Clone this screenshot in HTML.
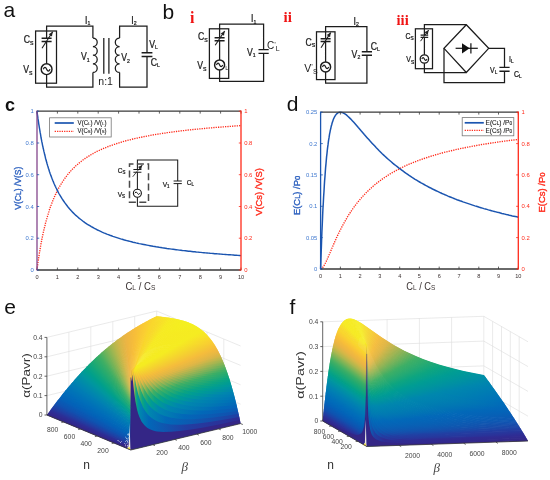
<!DOCTYPE html>
<html lang="en"><head><meta charset="utf-8"><title>Figure</title>
<style>
html,body{margin:0;padding:0;background:#fff;}
body{width:550px;height:480px;overflow:hidden;font-family:"Liberation Sans",sans-serif;}
svg{display:block;}
text{font-family:"Liberation Sans",sans-serif;}
.ser{font-family:"Liberation Serif",serif;}
</style></head><body>
<svg width="550" height="480" viewBox="0 0 550 480">
<rect width="550" height="480" fill="#fff"/>
<g id="surfaces">
<path d="M46.9 395.6L156.7 369.2L240.6 404.2M46.9 376.2L156.7 349.8L240.6 384.8M46.9 356.8L156.7 330.4L240.6 365.4M46.9 337.4L156.7 311.0L240.6 346.0M68.9 409.7L68.9 332.1M68.9 409.7L152.8 444.7M90.8 404.4L90.8 326.8M90.8 404.4L174.7 439.4M112.8 399.2L112.8 321.6M112.8 399.2L196.7 434.2M134.7 393.9L134.7 316.3M134.7 393.9L218.6 428.9M156.7 388.6L156.7 311.0M156.7 388.6L240.6 423.6M223.8 416.6L223.8 339.0M223.8 416.6L114.0 443.0M207.0 409.6L207.0 332.0M207.0 409.6L97.2 436.0M190.3 402.6L190.3 325.0M190.3 402.6L80.5 429.0M173.5 395.6L173.5 318.0M173.5 395.6L63.7 422.0" stroke="#dcdcdc" stroke-width="0.6" fill="none"/>
<defs><linearGradient id="e1" gradientUnits="userSpaceOnUse" x1="130.1" y1="0" x2="239.9" y2="0"><stop offset="0.0072" stop-color="#facc33"/><stop offset="0.0095" stop-color="#f6ea22"/><stop offset="0.0173" stop-color="#f5ec21"/><stop offset="0.0279" stop-color="#f6bd3b"/><stop offset="0.0323" stop-color="#e2b646"/><stop offset="0.0401" stop-color="#8eb554"/><stop offset="0.0480" stop-color="#3cae66"/><stop offset="0.0605" stop-color="#0ca482"/><stop offset="0.0690" stop-color="#009c94"/><stop offset="0.0929" stop-color="#0085af"/><stop offset="0.1711" stop-color="#0267b8"/><stop offset="0.5084" stop-color="#223ea2"/><stop offset="1.0000" stop-color="#2f2c94"/></linearGradient>
<linearGradient id="e2" gradientUnits="userSpaceOnUse" x1="129.5" y1="0" x2="239.3" y2="0"><stop offset="0.0144" stop-color="#facc33"/><stop offset="0.0191" stop-color="#f6ea22"/><stop offset="0.0347" stop-color="#f5ec21"/><stop offset="0.0562" stop-color="#f5bc3c"/><stop offset="0.0648" stop-color="#e1b646"/><stop offset="0.0790" stop-color="#95b653"/><stop offset="0.0950" stop-color="#3faf65"/><stop offset="0.1192" stop-color="#0ea57f"/><stop offset="0.1373" stop-color="#009c93"/><stop offset="0.1823" stop-color="#0086ae"/><stop offset="0.3355" stop-color="#0268b8"/><stop offset="1.0000" stop-color="#213ea3"/></linearGradient>
<linearGradient id="e3" gradientUnits="userSpaceOnUse" x1="128.8" y1="0" x2="238.6" y2="0"><stop offset="0.0216" stop-color="#facc33"/><stop offset="0.0286" stop-color="#f6ea22"/><stop offset="0.0523" stop-color="#f5ec21"/><stop offset="0.0841" stop-color="#f5bd3c"/><stop offset="0.0969" stop-color="#e2b646"/><stop offset="0.1189" stop-color="#93b553"/><stop offset="0.1442" stop-color="#3cae66"/><stop offset="0.1816" stop-color="#0ca482"/><stop offset="0.2065" stop-color="#009c94"/><stop offset="0.2738" stop-color="#0086ae"/><stop offset="0.5003" stop-color="#0268b8"/><stop offset="1.0000" stop-color="#134eae"/></linearGradient>
<linearGradient id="e4" gradientUnits="userSpaceOnUse" x1="128.1" y1="0" x2="237.9" y2="0"><stop offset="0.0288" stop-color="#facc33"/><stop offset="0.0383" stop-color="#f6ea22"/><stop offset="0.0701" stop-color="#f5ec21"/><stop offset="0.1127" stop-color="#f5bc3c"/><stop offset="0.1299" stop-color="#e0b646"/><stop offset="0.1628" stop-color="#86b555"/><stop offset="0.1922" stop-color="#3cae66"/><stop offset="0.2408" stop-color="#0ca481"/><stop offset="0.2744" stop-color="#009c93"/><stop offset="0.3648" stop-color="#0086ae"/><stop offset="0.6681" stop-color="#0268b8"/><stop offset="1.0000" stop-color="#0b59b4"/></linearGradient>
<linearGradient id="e5" gradientUnits="userSpaceOnUse" x1="127.4" y1="0" x2="237.2" y2="0"><stop offset="0.0360" stop-color="#facc33"/><stop offset="0.0481" stop-color="#f6ea22"/><stop offset="0.0876" stop-color="#f5ec21"/><stop offset="0.1413" stop-color="#f5bc3c"/><stop offset="0.1633" stop-color="#dfb646"/><stop offset="0.2383" stop-color="#3eaf65"/><stop offset="0.2976" stop-color="#0ea57f"/><stop offset="0.3439" stop-color="#009c93"/><stop offset="0.4592" stop-color="#0086ae"/><stop offset="0.8464" stop-color="#0267b8"/><stop offset="1.0000" stop-color="#0462b8"/></linearGradient>
<linearGradient id="e6" gradientUnits="userSpaceOnUse" x1="126.8" y1="0" x2="236.6" y2="0"><stop offset="0.0432" stop-color="#facc33"/><stop offset="0.0574" stop-color="#f6ea22"/><stop offset="0.1044" stop-color="#f5ec21"/><stop offset="0.1693" stop-color="#f5bc3c"/><stop offset="0.1962" stop-color="#dfb646"/><stop offset="0.2864" stop-color="#3eae65"/><stop offset="0.3571" stop-color="#0ea57f"/><stop offset="0.4093" stop-color="#009d92"/><stop offset="0.5436" stop-color="#0087ae"/><stop offset="0.9895" stop-color="#0268b8"/><stop offset="1.0000" stop-color="#0268b8"/></linearGradient>
<linearGradient id="e7" gradientUnits="userSpaceOnUse" x1="126.1" y1="0" x2="235.9" y2="0"><stop offset="0.0504" stop-color="#facc33"/><stop offset="0.0673" stop-color="#f6ea22"/><stop offset="0.1226" stop-color="#f5ec21"/><stop offset="0.1962" stop-color="#f5bd3b"/><stop offset="0.2279" stop-color="#e0b646"/><stop offset="0.3331" stop-color="#3eaf65"/><stop offset="0.4151" stop-color="#0fa57f"/><stop offset="0.4774" stop-color="#009d92"/><stop offset="0.6315" stop-color="#0087ad"/><stop offset="1.0000" stop-color="#006eb9"/></linearGradient>
<linearGradient id="e8" gradientUnits="userSpaceOnUse" x1="125.4" y1="0" x2="235.2" y2="0"><stop offset="0.0576" stop-color="#facc33"/><stop offset="0.0767" stop-color="#f6ea22"/><stop offset="0.1400" stop-color="#f5ec21"/><stop offset="0.2256" stop-color="#f5bc3c"/><stop offset="0.2603" stop-color="#e0b646"/><stop offset="0.3304" stop-color="#7fb457"/><stop offset="0.3850" stop-color="#3cae66"/><stop offset="0.4841" stop-color="#0ca482"/><stop offset="0.5533" stop-color="#009c94"/><stop offset="0.7438" stop-color="#0085af"/><stop offset="1.0000" stop-color="#0074b7"/></linearGradient>
<linearGradient id="e9" gradientUnits="userSpaceOnUse" x1="124.8" y1="0" x2="234.6" y2="0"><stop offset="0.0648" stop-color="#facc33"/><stop offset="0.0861" stop-color="#f6ea22"/><stop offset="0.1574" stop-color="#f5ec21"/><stop offset="0.2534" stop-color="#f5bc3c"/><stop offset="0.2934" stop-color="#e0b646"/><stop offset="0.4309" stop-color="#3dae66"/><stop offset="0.5416" stop-color="#0ca481"/><stop offset="0.6157" stop-color="#009d93"/><stop offset="0.8176" stop-color="#0086ae"/><stop offset="1.0000" stop-color="#007ab5"/></linearGradient>
<linearGradient id="e10" gradientUnits="userSpaceOnUse" x1="124.1" y1="0" x2="233.9" y2="0"><stop offset="0.0720" stop-color="#facc33"/><stop offset="0.0963" stop-color="#f6ea22"/><stop offset="0.1767" stop-color="#f5ec21"/><stop offset="0.2816" stop-color="#f5bc3c"/><stop offset="0.3242" stop-color="#e1b646"/><stop offset="0.3969" stop-color="#92b553"/><stop offset="0.4775" stop-color="#3eae65"/><stop offset="0.5950" stop-color="#0ea57f"/><stop offset="0.6850" stop-color="#009d93"/><stop offset="0.9077" stop-color="#0087ae"/><stop offset="1.0000" stop-color="#0080b2"/></linearGradient>
<linearGradient id="e11" gradientUnits="userSpaceOnUse" x1="123.4" y1="0" x2="233.2" y2="0"><stop offset="0.0792" stop-color="#facc33"/><stop offset="0.1057" stop-color="#f6ea22"/><stop offset="0.1930" stop-color="#f5ec21"/><stop offset="0.3103" stop-color="#f5bc3c"/><stop offset="0.3584" stop-color="#e0b646"/><stop offset="0.5249" stop-color="#3eae65"/><stop offset="0.6544" stop-color="#0ea57f"/><stop offset="0.7495" stop-color="#009d92"/><stop offset="0.9916" stop-color="#0087ad"/><stop offset="1.0000" stop-color="#0086ae"/></linearGradient>
<linearGradient id="e12" gradientUnits="userSpaceOnUse" x1="122.7" y1="0" x2="232.5" y2="0"><stop offset="0.0864" stop-color="#facc33"/><stop offset="0.1151" stop-color="#f6ea22"/><stop offset="0.2110" stop-color="#f5ec21"/><stop offset="0.3392" stop-color="#f5bc3c"/><stop offset="0.3931" stop-color="#deb646"/><stop offset="0.5730" stop-color="#3eae65"/><stop offset="0.7148" stop-color="#0ea57f"/><stop offset="0.8216" stop-color="#009d93"/><stop offset="1.0000" stop-color="#008da8"/></linearGradient>
<linearGradient id="e13" gradientUnits="userSpaceOnUse" x1="122.1" y1="0" x2="231.9" y2="0"><stop offset="0.0936" stop-color="#facc33"/><stop offset="0.1245" stop-color="#f6ea22"/><stop offset="0.2273" stop-color="#f5ec21"/><stop offset="0.3656" stop-color="#f5bc3c"/><stop offset="0.4250" stop-color="#dfb646"/><stop offset="0.6217" stop-color="#3dae66"/><stop offset="0.7761" stop-color="#0ea580"/><stop offset="0.8950" stop-color="#009c94"/><stop offset="1.0000" stop-color="#0094a2"/></linearGradient>
<linearGradient id="e14" gradientUnits="userSpaceOnUse" x1="121.4" y1="0" x2="231.2" y2="0"><stop offset="0.1008" stop-color="#facc33"/><stop offset="0.1349" stop-color="#f6ea22"/><stop offset="0.2474" stop-color="#f6eb21"/><stop offset="0.3951" stop-color="#f5bc3c"/><stop offset="0.4571" stop-color="#dfb646"/><stop offset="0.6658" stop-color="#3faf65"/><stop offset="0.8318" stop-color="#0ea57f"/><stop offset="0.9624" stop-color="#009c93"/><stop offset="1.0000" stop-color="#009a99"/></linearGradient>
<linearGradient id="e15" gradientUnits="userSpaceOnUse" x1="120.7" y1="0" x2="230.5" y2="0"><stop offset="0.1080" stop-color="#facc33"/><stop offset="0.1444" stop-color="#f6ea22"/><stop offset="0.2638" stop-color="#f5ec21"/><stop offset="0.4217" stop-color="#f5bc3c"/><stop offset="0.4894" stop-color="#dfb646"/><stop offset="0.7154" stop-color="#3eae65"/><stop offset="0.8944" stop-color="#0ea580"/><stop offset="1.0000" stop-color="#009f8f"/></linearGradient>
<linearGradient id="e16" gradientUnits="userSpaceOnUse" x1="120.1" y1="0" x2="229.9" y2="0"><stop offset="0.1152" stop-color="#facc33"/><stop offset="0.1538" stop-color="#f6ea22"/><stop offset="0.2823" stop-color="#f5ec21"/><stop offset="0.4516" stop-color="#f5bc3c"/><stop offset="0.5218" stop-color="#dfb646"/><stop offset="0.7653" stop-color="#3dae66"/><stop offset="0.9576" stop-color="#0da580"/><stop offset="1.0000" stop-color="#07a286"/></linearGradient>
<linearGradient id="e17" gradientUnits="userSpaceOnUse" x1="119.4" y1="0" x2="229.2" y2="0"><stop offset="0.1224" stop-color="#facc33"/><stop offset="0.1633" stop-color="#f6ea22"/><stop offset="0.2987" stop-color="#f5ec21"/><stop offset="0.4783" stop-color="#f5bc3c"/><stop offset="0.5543" stop-color="#e0b646"/><stop offset="0.8100" stop-color="#3eaf65"/><stop offset="1.0000" stop-color="#10a67e"/></linearGradient>
<linearGradient id="e18" gradientUnits="userSpaceOnUse" x1="118.7" y1="0" x2="228.5" y2="0"><stop offset="0.1296" stop-color="#facc33"/><stop offset="0.1727" stop-color="#f6ea22"/><stop offset="0.3151" stop-color="#f5ec21"/><stop offset="0.5084" stop-color="#f5bc3c"/><stop offset="0.5868" stop-color="#e0b646"/><stop offset="0.8604" stop-color="#3dae65"/><stop offset="1.0000" stop-color="#1aa876"/></linearGradient>
<linearGradient id="e19" gradientUnits="userSpaceOnUse" x1="118.0" y1="0" x2="227.8" y2="0"><stop offset="0.1368" stop-color="#facc33"/><stop offset="0.1821" stop-color="#f6ea22"/><stop offset="0.3336" stop-color="#f5ec21"/><stop offset="0.5351" stop-color="#f5bc3c"/><stop offset="0.6194" stop-color="#e0b646"/><stop offset="0.9050" stop-color="#3eaf65"/><stop offset="1.0000" stop-color="#25aa70"/></linearGradient>
<linearGradient id="e20" gradientUnits="userSpaceOnUse" x1="117.4" y1="0" x2="227.2" y2="0"><stop offset="0.1440" stop-color="#facc33"/><stop offset="0.1915" stop-color="#f6ea22"/><stop offset="0.3499" stop-color="#f5ec21"/><stop offset="0.5653" stop-color="#f5bc3c"/><stop offset="0.6520" stop-color="#e0b646"/><stop offset="0.9556" stop-color="#3dae65"/><stop offset="1.0000" stop-color="#32ad6a"/></linearGradient>
<linearGradient id="e21" gradientUnits="userSpaceOnUse" x1="116.7" y1="0" x2="226.5" y2="0"><stop offset="0.1512" stop-color="#facc33"/><stop offset="0.2022" stop-color="#f6ea22"/><stop offset="0.3708" stop-color="#f5ec21"/><stop offset="0.5919" stop-color="#f5bc3c"/><stop offset="0.6845" stop-color="#e0b646"/><stop offset="1.0000" stop-color="#3eaf65"/></linearGradient>
<linearGradient id="e22" gradientUnits="userSpaceOnUse" x1="116.0" y1="0" x2="225.8" y2="0"><stop offset="0.1584" stop-color="#facc33"/><stop offset="0.2116" stop-color="#f6ea22"/><stop offset="0.3871" stop-color="#f5ec21"/><stop offset="0.6222" stop-color="#f5bc3c"/><stop offset="0.7169" stop-color="#e0b646"/><stop offset="1.0000" stop-color="#52b160"/></linearGradient>
<linearGradient id="e23" gradientUnits="userSpaceOnUse" x1="115.4" y1="0" x2="225.2" y2="0"><stop offset="0.1656" stop-color="#facc33"/><stop offset="0.2210" stop-color="#f6ea22"/><stop offset="0.4033" stop-color="#f5ec21"/><stop offset="0.6486" stop-color="#f5bc3c"/><stop offset="0.7493" stop-color="#e0b646"/><stop offset="1.0000" stop-color="#67b25c"/></linearGradient>
<linearGradient id="e24" gradientUnits="userSpaceOnUse" x1="114.7" y1="0" x2="224.5" y2="0"><stop offset="0.1728" stop-color="#facc33"/><stop offset="0.2304" stop-color="#f6ea22"/><stop offset="0.4218" stop-color="#f5ec21"/><stop offset="0.6787" stop-color="#f5bc3c"/><stop offset="0.7814" stop-color="#e0b646"/><stop offset="1.0000" stop-color="#7bb457"/></linearGradient>
<linearGradient id="e25" gradientUnits="userSpaceOnUse" x1="114.0" y1="0" x2="223.8" y2="0"><stop offset="0.1800" stop-color="#facc33"/><stop offset="0.2398" stop-color="#f6ea22"/><stop offset="0.4379" stop-color="#f5ec21"/><stop offset="0.7048" stop-color="#f5bc3c"/><stop offset="0.8135" stop-color="#e0b646"/><stop offset="1.0000" stop-color="#8eb554"/></linearGradient>
<linearGradient id="e26" gradientUnits="userSpaceOnUse" x1="113.3" y1="0" x2="223.1" y2="0"><stop offset="0.1872" stop-color="#facc33"/><stop offset="0.2491" stop-color="#f6ea22"/><stop offset="0.4563" stop-color="#f5ec21"/><stop offset="0.7348" stop-color="#f5bc3c"/><stop offset="0.8500" stop-color="#dfb646"/><stop offset="1.0000" stop-color="#a1b651"/></linearGradient>
<linearGradient id="e27" gradientUnits="userSpaceOnUse" x1="112.7" y1="0" x2="222.5" y2="0"><stop offset="0.1944" stop-color="#facc33"/><stop offset="0.2599" stop-color="#f6ea22"/><stop offset="0.4747" stop-color="#f5ec21"/><stop offset="0.7604" stop-color="#f5bc3c"/><stop offset="0.8816" stop-color="#dfb646"/><stop offset="1.0000" stop-color="#b3b74d"/></linearGradient>
<linearGradient id="e28" gradientUnits="userSpaceOnUse" x1="112.0" y1="0" x2="221.8" y2="0"><stop offset="0.2016" stop-color="#facc33"/><stop offset="0.2692" stop-color="#f6ea22"/><stop offset="0.4931" stop-color="#f5ec21"/><stop offset="0.7900" stop-color="#f5bc3c"/><stop offset="0.9130" stop-color="#e0b646"/><stop offset="1.0000" stop-color="#c1b74b"/></linearGradient>
<linearGradient id="e29" gradientUnits="userSpaceOnUse" x1="111.3" y1="0" x2="221.1" y2="0"><stop offset="0.2088" stop-color="#facc33"/><stop offset="0.2785" stop-color="#f6ea22"/><stop offset="0.5088" stop-color="#f5ec21"/><stop offset="0.8195" stop-color="#f5bc3c"/><stop offset="0.9440" stop-color="#e0b646"/><stop offset="1.0000" stop-color="#cfb749"/></linearGradient>
<linearGradient id="e30" gradientUnits="userSpaceOnUse" x1="110.7" y1="0" x2="220.5" y2="0"><stop offset="0.2160" stop-color="#facc33"/><stop offset="0.2878" stop-color="#f6ea22"/><stop offset="0.5269" stop-color="#f5ec21"/><stop offset="0.8444" stop-color="#f5bc3c"/><stop offset="0.9797" stop-color="#dfb646"/><stop offset="1.0000" stop-color="#dab747"/></linearGradient>
<linearGradient id="e31" gradientUnits="userSpaceOnUse" x1="110.0" y1="0" x2="219.8" y2="0"><stop offset="0.2232" stop-color="#facc33"/><stop offset="0.2986" stop-color="#f6ea22"/><stop offset="0.5478" stop-color="#f5ec21"/><stop offset="0.8733" stop-color="#f5bc3c"/><stop offset="1.0000" stop-color="#e2b646"/></linearGradient>
<linearGradient id="e32" gradientUnits="userSpaceOnUse" x1="109.3" y1="0" x2="219.1" y2="0"><stop offset="0.2304" stop-color="#facc33"/><stop offset="0.3078" stop-color="#f6ea22"/><stop offset="0.5630" stop-color="#f5ec21"/><stop offset="0.9020" stop-color="#f5bc3c"/><stop offset="1.0000" stop-color="#eab544"/></linearGradient>
<linearGradient id="e33" gradientUnits="userSpaceOnUse" x1="108.7" y1="0" x2="218.5" y2="0"><stop offset="0.2376" stop-color="#facc33"/><stop offset="0.3170" stop-color="#f6ea22"/><stop offset="0.5809" stop-color="#f5ec21"/><stop offset="0.9304" stop-color="#f5bc3c"/><stop offset="1.0000" stop-color="#eeb742"/></linearGradient>
<linearGradient id="e34" gradientUnits="userSpaceOnUse" x1="108.0" y1="0" x2="217.8" y2="0"><stop offset="0.2448" stop-color="#facc33"/><stop offset="0.3262" stop-color="#f6ea22"/><stop offset="0.5959" stop-color="#f5ec21"/><stop offset="0.9585" stop-color="#f5bc3c"/><stop offset="1.0000" stop-color="#f1b93f"/></linearGradient>
<linearGradient id="e35" gradientUnits="userSpaceOnUse" x1="107.3" y1="0" x2="217.1" y2="0"><stop offset="0.2520" stop-color="#facc33"/><stop offset="0.3369" stop-color="#f6ea22"/><stop offset="0.6163" stop-color="#f5ec21"/><stop offset="0.9863" stop-color="#f5bc3c"/><stop offset="1.0000" stop-color="#f4bb3d"/></linearGradient>
<linearGradient id="e36" gradientUnits="userSpaceOnUse" x1="106.6" y1="0" x2="216.4" y2="0"><stop offset="0.2592" stop-color="#facc33"/><stop offset="0.3461" stop-color="#f6ea22"/><stop offset="0.6338" stop-color="#f5ec21"/><stop offset="1.0000" stop-color="#f6bd3b"/></linearGradient>
<linearGradient id="e37" gradientUnits="userSpaceOnUse" x1="106.0" y1="0" x2="215.8" y2="0"><stop offset="0.2664" stop-color="#facc33"/><stop offset="0.3552" stop-color="#f6ea22"/><stop offset="0.6511" stop-color="#f5ec21"/><stop offset="1.0000" stop-color="#f7c039"/></linearGradient>
<linearGradient id="e38" gradientUnits="userSpaceOnUse" x1="105.3" y1="0" x2="215.1" y2="0"><stop offset="0.2736" stop-color="#facc33"/><stop offset="0.3658" stop-color="#f6ea22"/><stop offset="0.6711" stop-color="#f5ec21"/><stop offset="1.0000" stop-color="#f8c437"/></linearGradient>
<linearGradient id="e39" gradientUnits="userSpaceOnUse" x1="104.6" y1="0" x2="214.4" y2="0"><stop offset="0.2808" stop-color="#facc33"/><stop offset="0.3748" stop-color="#f6ea22"/><stop offset="0.6852" stop-color="#f5ec21"/><stop offset="1.0000" stop-color="#f9c736"/></linearGradient>
<linearGradient id="e40" gradientUnits="userSpaceOnUse" x1="104.0" y1="0" x2="213.8" y2="0"><stop offset="0.2880" stop-color="#facc33"/><stop offset="0.3838" stop-color="#f6ea22"/><stop offset="0.7020" stop-color="#f5ec21"/><stop offset="1.0000" stop-color="#f9ca34"/></linearGradient>
<linearGradient id="e41" gradientUnits="userSpaceOnUse" x1="102.6" y1="0" x2="212.4" y2="0"><stop offset="0.3024" stop-color="#facc33"/><stop offset="0.4033" stop-color="#f6ea22"/><stop offset="0.7379" stop-color="#f5ec21"/><stop offset="1.0000" stop-color="#fad031"/></linearGradient>
<linearGradient id="e42" gradientUnits="userSpaceOnUse" x1="101.3" y1="0" x2="211.1" y2="0"><stop offset="0.3168" stop-color="#facc33"/><stop offset="0.4227" stop-color="#f6ea22"/><stop offset="0.7729" stop-color="#f5ec21"/><stop offset="1.0000" stop-color="#f9d62e"/></linearGradient>
<linearGradient id="e43" gradientUnits="userSpaceOnUse" x1="99.9" y1="0" x2="209.7" y2="0"><stop offset="0.3312" stop-color="#facc33"/><stop offset="0.4419" stop-color="#f6ea22"/><stop offset="0.8101" stop-color="#f5ec21"/><stop offset="1.0000" stop-color="#f8dc2b"/></linearGradient>
<linearGradient id="e44" gradientUnits="userSpaceOnUse" x1="98.6" y1="0" x2="208.4" y2="0"><stop offset="0.3456" stop-color="#facc33"/><stop offset="0.4609" stop-color="#f6ea22"/><stop offset="0.8432" stop-color="#f5ec21"/><stop offset="1.0000" stop-color="#f8e128"/></linearGradient>
<linearGradient id="e45" gradientUnits="userSpaceOnUse" x1="97.2" y1="0" x2="207.0" y2="0"><stop offset="0.3600" stop-color="#facc33"/><stop offset="0.4813" stop-color="#f6ea22"/><stop offset="0.8812" stop-color="#f5ec21"/><stop offset="1.0000" stop-color="#f7e426"/></linearGradient>
<linearGradient id="e46" gradientUnits="userSpaceOnUse" x1="95.9" y1="0" x2="205.7" y2="0"><stop offset="0.3744" stop-color="#facc33"/><stop offset="0.4999" stop-color="#f6ea22"/><stop offset="0.9151" stop-color="#f5ec21"/><stop offset="1.0000" stop-color="#f6e724"/></linearGradient>
<linearGradient id="e47" gradientUnits="userSpaceOnUse" x1="94.6" y1="0" x2="204.4" y2="0"><stop offset="0.3888" stop-color="#facc33"/><stop offset="0.5200" stop-color="#f6ea22"/><stop offset="0.9537" stop-color="#f5ec21"/><stop offset="1.0000" stop-color="#f6ea22"/></linearGradient>
<linearGradient id="e48" gradientUnits="userSpaceOnUse" x1="93.2" y1="0" x2="203.0" y2="0"><stop offset="0.4032" stop-color="#facc33"/><stop offset="0.5381" stop-color="#f6ea22"/><stop offset="0.9849" stop-color="#f5ec21"/><stop offset="1.0000" stop-color="#f6eb21"/></linearGradient>
<linearGradient id="e49" gradientUnits="userSpaceOnUse" x1="91.9" y1="0" x2="201.7" y2="0"><stop offset="0.4176" stop-color="#facc33"/><stop offset="0.5576" stop-color="#f6ea22"/><stop offset="1.0000" stop-color="#f5ec21"/></linearGradient>
<linearGradient id="e50" gradientUnits="userSpaceOnUse" x1="90.5" y1="0" x2="200.3" y2="0"><stop offset="0.4320" stop-color="#facc33"/><stop offset="0.5768" stop-color="#f6ea22"/><stop offset="1.0000" stop-color="#f5ed20"/></linearGradient>
<linearGradient id="e51" gradientUnits="userSpaceOnUse" x1="89.2" y1="0" x2="199.0" y2="0"><stop offset="0.4464" stop-color="#facc33"/><stop offset="0.5958" stop-color="#f6ea22"/><stop offset="1.0000" stop-color="#f5ee1f"/></linearGradient>
<linearGradient id="e52" gradientUnits="userSpaceOnUse" x1="87.8" y1="0" x2="197.6" y2="0"><stop offset="0.4608" stop-color="#facc33"/><stop offset="0.6160" stop-color="#f6ea22"/><stop offset="1.0000" stop-color="#f5ee1f"/></linearGradient>
<linearGradient id="e53" gradientUnits="userSpaceOnUse" x1="86.5" y1="0" x2="196.3" y2="0"><stop offset="0.4752" stop-color="#facc33"/><stop offset="0.6342" stop-color="#f6ea22"/><stop offset="1.0000" stop-color="#f4ef1f"/></linearGradient>
<linearGradient id="e54" gradientUnits="userSpaceOnUse" x1="85.2" y1="0" x2="195.0" y2="0"><stop offset="0.4896" stop-color="#facc33"/><stop offset="0.6537" stop-color="#f6ea22"/><stop offset="1.0000" stop-color="#f4ef1e"/></linearGradient>
<linearGradient id="e55" gradientUnits="userSpaceOnUse" x1="83.8" y1="0" x2="193.6" y2="0"><stop offset="0.5040" stop-color="#facc33"/><stop offset="0.6743" stop-color="#f6ea22"/><stop offset="1.0000" stop-color="#f4f01e"/></linearGradient>
<linearGradient id="e56" gradientUnits="userSpaceOnUse" x1="82.5" y1="0" x2="192.3" y2="0"><stop offset="0.5184" stop-color="#facc33"/><stop offset="0.6928" stop-color="#f6ea22"/><stop offset="1.0000" stop-color="#f4f01e"/></linearGradient>
<linearGradient id="e57" gradientUnits="userSpaceOnUse" x1="81.1" y1="0" x2="190.9" y2="0"><stop offset="0.5328" stop-color="#facc33"/><stop offset="0.7125" stop-color="#f6ea22"/><stop offset="1.0000" stop-color="#f4f01e"/></linearGradient>
<linearGradient id="e58" gradientUnits="userSpaceOnUse" x1="79.8" y1="0" x2="189.6" y2="0"><stop offset="0.5472" stop-color="#facc33"/><stop offset="0.7316" stop-color="#f6ea22"/><stop offset="1.0000" stop-color="#f4f01e"/></linearGradient>
<linearGradient id="e59" gradientUnits="userSpaceOnUse" x1="78.4" y1="0" x2="188.2" y2="0"><stop offset="0.5616" stop-color="#facc33"/><stop offset="0.7501" stop-color="#f6ea22"/><stop offset="1.0000" stop-color="#f4f01e"/></linearGradient>
<linearGradient id="e60" gradientUnits="userSpaceOnUse" x1="77.1" y1="0" x2="186.9" y2="0"><stop offset="0.5760" stop-color="#facc33"/><stop offset="0.7695" stop-color="#f6ea22"/><stop offset="1.0000" stop-color="#f4f01e"/></linearGradient>
<linearGradient id="e61" gradientUnits="userSpaceOnUse" x1="75.8" y1="0" x2="185.6" y2="0"><stop offset="0.5904" stop-color="#facc33"/><stop offset="0.7897" stop-color="#f6ea22"/><stop offset="1.0000" stop-color="#f4f01e"/></linearGradient>
<linearGradient id="e62" gradientUnits="userSpaceOnUse" x1="74.4" y1="0" x2="184.2" y2="0"><stop offset="0.6048" stop-color="#facc33"/><stop offset="0.8090" stop-color="#f6ea22"/><stop offset="1.0000" stop-color="#f4ef1e"/></linearGradient>
<linearGradient id="e63" gradientUnits="userSpaceOnUse" x1="73.1" y1="0" x2="182.9" y2="0"><stop offset="0.6192" stop-color="#facc33"/><stop offset="0.8276" stop-color="#f6ea22"/><stop offset="1.0000" stop-color="#f4ef1f"/></linearGradient>
<linearGradient id="e64" gradientUnits="userSpaceOnUse" x1="71.7" y1="0" x2="181.5" y2="0"><stop offset="0.6336" stop-color="#facc33"/><stop offset="0.8467" stop-color="#f6ea22"/><stop offset="1.0000" stop-color="#f4ef1f"/></linearGradient>
<linearGradient id="e65" gradientUnits="userSpaceOnUse" x1="70.4" y1="0" x2="180.2" y2="0"><stop offset="0.6480" stop-color="#facc33"/><stop offset="0.8662" stop-color="#f6ea22"/><stop offset="1.0000" stop-color="#f5ee1f"/></linearGradient>
<linearGradient id="e66" gradientUnits="userSpaceOnUse" x1="69.0" y1="0" x2="178.8" y2="0"><stop offset="0.6624" stop-color="#facc33"/><stop offset="0.8858" stop-color="#f6ea22"/><stop offset="1.0000" stop-color="#f5ee1f"/></linearGradient>
<linearGradient id="e67" gradientUnits="userSpaceOnUse" x1="67.7" y1="0" x2="177.5" y2="0"><stop offset="0.6768" stop-color="#facc33"/><stop offset="0.9044" stop-color="#f6ea22"/><stop offset="1.0000" stop-color="#f5ed20"/></linearGradient>
<linearGradient id="e68" gradientUnits="userSpaceOnUse" x1="66.4" y1="0" x2="176.2" y2="0"><stop offset="0.6912" stop-color="#facc33"/><stop offset="0.9240" stop-color="#f6ea22"/><stop offset="1.0000" stop-color="#f5ed20"/></linearGradient>
<linearGradient id="e69" gradientUnits="userSpaceOnUse" x1="65.0" y1="0" x2="174.8" y2="0"><stop offset="0.7056" stop-color="#facc33"/><stop offset="0.9434" stop-color="#f6ea22"/><stop offset="1.0000" stop-color="#f5ec21"/></linearGradient>
<linearGradient id="e70" gradientUnits="userSpaceOnUse" x1="63.7" y1="0" x2="173.5" y2="0"><stop offset="0.7200" stop-color="#facc33"/><stop offset="0.9623" stop-color="#f6ea22"/><stop offset="1.0000" stop-color="#f5ec21"/></linearGradient>
<linearGradient id="e71" gradientUnits="userSpaceOnUse" x1="62.3" y1="0" x2="172.1" y2="0"><stop offset="0.7344" stop-color="#facc33"/><stop offset="0.9816" stop-color="#f6ea22"/><stop offset="1.0000" stop-color="#f6eb21"/></linearGradient>
<linearGradient id="e72" gradientUnits="userSpaceOnUse" x1="61.0" y1="0" x2="170.8" y2="0"><stop offset="0.7488" stop-color="#facc33"/><stop offset="1.0000" stop-color="#f6ea22"/></linearGradient>
<linearGradient id="e73" gradientUnits="userSpaceOnUse" x1="59.7" y1="0" x2="169.5" y2="0"><stop offset="0.7632" stop-color="#facc33"/><stop offset="1.0000" stop-color="#f6e922"/></linearGradient>
<linearGradient id="e74" gradientUnits="userSpaceOnUse" x1="58.3" y1="0" x2="168.1" y2="0"><stop offset="0.7776" stop-color="#facc33"/><stop offset="1.0000" stop-color="#f6e823"/></linearGradient>
<linearGradient id="e75" gradientUnits="userSpaceOnUse" x1="57.0" y1="0" x2="166.8" y2="0"><stop offset="0.7920" stop-color="#facc33"/><stop offset="1.0000" stop-color="#f7e724"/></linearGradient>
<linearGradient id="e76" gradientUnits="userSpaceOnUse" x1="55.6" y1="0" x2="165.4" y2="0"><stop offset="0.8064" stop-color="#facc33"/><stop offset="1.0000" stop-color="#f7e525"/></linearGradient>
<linearGradient id="e77" gradientUnits="userSpaceOnUse" x1="54.3" y1="0" x2="164.1" y2="0"><stop offset="0.8208" stop-color="#facc33"/><stop offset="1.0000" stop-color="#f7e426"/></linearGradient>
<linearGradient id="e78" gradientUnits="userSpaceOnUse" x1="52.9" y1="0" x2="162.7" y2="0"><stop offset="0.8352" stop-color="#facc33"/><stop offset="1.0000" stop-color="#f7e227"/></linearGradient>
<linearGradient id="e79" gradientUnits="userSpaceOnUse" x1="51.6" y1="0" x2="161.4" y2="0"><stop offset="0.8496" stop-color="#facc33"/><stop offset="1.0000" stop-color="#f8e128"/></linearGradient>
<linearGradient id="e80" gradientUnits="userSpaceOnUse" x1="50.3" y1="0" x2="160.1" y2="0"><stop offset="0.8640" stop-color="#facc33"/><stop offset="1.0000" stop-color="#f8df29"/></linearGradient>
<linearGradient id="e81" gradientUnits="userSpaceOnUse" x1="48.9" y1="0" x2="158.7" y2="0"><stop offset="0.8784" stop-color="#facc33"/><stop offset="1.0000" stop-color="#f8de2a"/></linearGradient>
<linearGradient id="e82" gradientUnits="userSpaceOnUse" x1="47.6" y1="0" x2="157.4" y2="0"><stop offset="0.8928" stop-color="#facc33"/><stop offset="1.0000" stop-color="#f8db2b"/></linearGradient></defs>
<path d="M150.7 320.4L158.7 316.4L156.7 316.2L151.2 318.9Z" fill="url(#e82)"/>
<path d="M150.4 321.3L160.1 316.6L157.4 316.3L151.0 319.4Z" fill="url(#e81)"/>
<path d="M150.1 322.3L161.4 316.7L158.7 316.4L150.7 320.4Z" fill="url(#e80)"/>
<path d="M149.7 323.2L162.7 316.9L160.1 316.6L150.4 321.3Z" fill="url(#e79)"/>
<path d="M149.4 324.2L156.6 320.5L164.1 317.1L161.4 316.7L150.1 322.3Z" fill="url(#e78)"/>
<path d="M149.1 325.2L157.1 321.1L165.4 317.2L162.7 316.9L149.7 323.2Z" fill="url(#e77)"/>
<path d="M148.8 326.1L157.5 321.6L166.8 317.4L164.1 317.1L156.6 320.5L149.4 324.2Z" fill="url(#e76)"/>
<path d="M148.4 327.1L158.0 322.2L168.1 317.6L165.4 317.2L157.1 321.1L149.1 325.2Z" fill="url(#e75)"/>
<path d="M148.1 328.1L158.5 322.7L169.5 317.8L166.8 317.4L157.5 321.6L148.8 326.1Z" fill="url(#e74)"/>
<path d="M147.8 329.0L159.0 323.2L170.8 318.0L168.1 317.6L158.0 322.2L148.4 327.1Z" fill="url(#e73)"/>
<path d="M147.5 330.0L153.4 326.8L159.4 323.8L172.1 318.2L169.5 317.8L158.5 322.7L148.1 328.1Z" fill="url(#e72)"/>
<path d="M147.1 330.9L153.4 327.5L159.8 324.3L166.5 321.3L173.5 318.5L170.8 318.0L159.0 323.2L147.8 329.0Z" fill="url(#e71)"/>
<path d="M146.8 331.9L153.4 328.2L160.2 324.9L167.4 321.7L174.8 318.7L172.1 318.2L159.4 323.8L153.4 326.8L147.5 330.0Z" fill="url(#e70)"/>
<path d="M146.5 332.9L153.4 329.0L160.6 325.4L168.2 322.1L176.2 319.0L173.5 318.5L166.5 321.3L159.8 324.3L153.4 327.5L147.1 330.9Z" fill="url(#e69)"/>
<path d="M146.1 333.8L153.4 329.7L161.0 326.0L169.0 322.5L177.5 319.2L174.8 318.7L167.4 321.7L160.2 324.9L153.4 328.2L146.8 331.9Z" fill="url(#e68)"/>
<path d="M145.8 334.8L153.4 330.5L161.4 326.5L169.9 322.9L178.8 319.5L176.2 319.0L168.2 322.1L160.6 325.4L153.4 329.0L146.5 332.9Z" fill="url(#e67)"/>
<path d="M145.5 335.7L153.4 331.2L162.0 327.0L170.9 323.2L180.2 319.9L177.5 319.2L169.0 322.5L161.0 326.0L153.4 329.7L146.1 333.8Z" fill="url(#e66)"/>
<path d="M145.2 336.7L153.6 331.9L162.3 327.6L171.7 323.7L181.5 320.2L178.8 319.5L169.9 322.9L161.4 326.5L153.4 330.5L145.8 334.8Z" fill="url(#e65)"/>
<path d="M144.8 337.7L153.6 332.6L162.7 328.1L172.5 324.1L182.9 320.6L180.2 319.9L170.9 323.2L162.0 327.0L153.4 331.2L145.5 335.7Z" fill="url(#e64)"/>
<path d="M144.5 338.6L153.6 333.3L163.0 328.7L173.3 324.6L184.2 321.0L181.5 320.2L171.7 323.7L162.3 327.6L153.6 331.9L145.2 336.7Z" fill="url(#e63)"/>
<path d="M144.2 339.6L153.5 334.1L163.3 329.3L174.1 325.0L185.6 321.4L182.9 320.6L172.5 324.1L162.7 328.1L153.6 332.6L144.8 337.7Z" fill="url(#e62)"/>
<path d="M143.9 340.5L148.6 337.6L153.5 334.8L163.7 329.9L174.6 325.6L186.9 321.8L184.2 321.0L173.3 324.6L163.0 328.7L153.6 333.3L144.5 338.6Z" fill="url(#e61)"/>
<path d="M143.5 341.5L148.4 338.4L153.4 335.6L158.5 333.0L164.0 330.5L169.5 328.2L175.3 326.1L188.2 322.3L185.6 321.4L174.1 325.0L163.3 329.3L153.5 334.1L144.2 339.6Z" fill="url(#e60)"/>
<path d="M143.2 342.5L148.2 339.2L153.4 336.3L158.6 333.6L164.3 331.1L170.0 328.8L176.1 326.7L182.6 324.7L189.6 322.9L186.9 321.8L174.6 325.6L163.7 329.9L153.5 334.8L148.6 337.6L143.9 340.5Z" fill="url(#e59)"/>
<path d="M142.9 343.4L148.0 340.1L153.3 337.0L158.7 334.3L164.5 331.7L170.5 329.4L176.8 327.2L183.6 325.3L190.9 323.4L188.2 322.3L175.3 326.1L169.5 328.2L164.0 330.5L158.5 333.0L153.4 335.6L148.4 338.4L143.5 341.5Z" fill="url(#e58)"/>
<path d="M142.6 344.4L147.8 340.9L153.2 337.8L158.8 334.9L164.8 332.3L170.9 330.0L177.5 327.8L184.6 325.8L192.3 324.1L189.6 322.9L182.6 324.7L176.1 326.7L170.0 328.8L164.3 331.1L158.6 333.6L153.4 336.3L148.2 339.2L143.2 342.5Z" fill="url(#e57)"/>
<path d="M142.2 345.4L147.6 341.8L153.1 338.5L158.8 335.6L165.0 332.9L171.4 330.6L178.2 328.4L185.6 326.5L193.6 324.7L190.9 323.4L183.6 325.3L176.8 327.2L170.5 329.4L164.5 331.7L158.7 334.3L153.3 337.0L148.0 340.1L142.9 343.4Z" fill="url(#e56)"/>
<path d="M141.9 346.3L147.3 342.6L153.0 339.3L158.9 336.3L165.2 333.6L171.8 331.2L178.9 329.0L186.6 327.1L195.0 325.4L192.3 324.1L184.6 325.8L177.5 327.8L170.9 330.0L164.8 332.3L158.8 334.9L153.2 337.8L147.8 340.9L142.6 344.4Z" fill="url(#e55)"/>
<path d="M141.6 347.3L147.1 343.4L152.9 340.0L158.9 337.0L165.5 334.2L172.2 331.8L179.6 329.7L187.6 327.8L196.3 326.2L193.6 324.7L185.6 326.5L178.2 328.4L171.4 330.6L165.0 332.9L158.8 335.6L153.1 338.5L147.6 341.8L142.2 345.4Z" fill="url(#e54)"/>
<path d="M141.2 348.2L146.9 344.3L152.7 340.8L158.9 337.7L165.6 334.9L172.6 332.5L180.3 330.4L188.6 328.6L197.6 327.0L195.0 325.4L186.6 327.1L178.9 329.0L171.8 331.2L165.2 333.6L158.9 336.3L153.0 339.3L147.3 342.6L141.9 346.3Z" fill="url(#e53)"/>
<path d="M140.9 349.2L146.6 345.1L152.6 341.5L158.9 338.4L165.8 335.5L173.0 333.2L180.9 331.1L189.5 329.4L199.0 327.9L196.3 326.2L187.6 327.8L179.6 329.7L172.2 331.8L165.5 334.2L158.9 337.0L152.9 340.0L147.1 343.4L141.6 347.3Z" fill="url(#e52)"/>
<path d="M140.6 350.2L146.3 346.0L152.4 342.3L158.9 339.1L165.6 336.4L173.0 334.0L181.1 332.0L190.0 330.3L200.3 328.9L197.6 327.0L188.6 328.6L180.3 330.4L172.6 332.5L165.6 334.9L158.9 337.7L152.7 340.8L146.9 344.3L141.2 348.2Z" fill="url(#e51)"/>
<path d="M140.3 351.1L146.1 346.8L152.3 343.0L158.8 339.8L165.7 337.1L173.3 334.8L181.7 332.8L190.9 331.2L201.7 329.9L199.0 327.9L189.5 329.4L180.9 331.1L173.0 333.2L165.8 335.5L158.9 338.4L152.6 341.5L146.6 345.1L140.9 349.2Z" fill="url(#e50)"/>
<path d="M139.9 352.1L145.8 347.6L152.1 343.8L158.8 340.5L165.8 337.8L173.6 335.5L182.3 333.7L191.8 332.2L203.0 331.0L200.3 328.9L190.0 330.3L181.1 332.0L173.0 334.0L165.6 336.4L158.9 339.1L152.4 342.3L146.3 346.0L140.6 350.2Z" fill="url(#e49)"/>
<path d="M139.6 353.0L145.5 348.5L151.9 344.5L158.7 341.2L165.9 338.6L173.9 336.4L182.8 334.6L192.7 333.3L204.4 332.2L201.7 329.9L190.9 331.2L181.7 332.8L173.3 334.8L165.7 337.1L158.8 339.8L152.3 343.0L146.1 346.8L140.3 351.1Z" fill="url(#e48)"/>
<path d="M139.3 354.0L145.2 349.3L151.4 345.4L158.2 342.1L165.5 339.4L173.7 337.3L182.8 335.6L193.0 334.4L205.7 333.5L203.0 331.0L191.8 332.2L182.3 333.7L173.6 335.5L165.8 337.8L158.8 340.5L152.1 343.8L145.8 347.6L139.9 352.1Z" fill="url(#e47)"/>
<path d="M139.0 355.0L144.9 350.1L151.1 346.2L158.1 342.9L165.5 340.2L173.5 338.3L182.8 336.7L193.9 335.6L207.0 334.9L204.4 332.2L192.7 333.3L182.8 334.6L173.9 336.4L165.9 338.6L158.7 341.2L151.9 344.5L145.5 348.5L139.6 353.0Z" fill="url(#e46)"/>
<path d="M138.6 355.9L141.5 353.4L144.6 351.0L150.9 347.0L154.3 345.2L157.9 343.6L165.5 341.1L173.6 339.2L183.2 337.8L194.1 336.9L208.4 336.4L205.7 333.5L193.0 334.4L182.8 335.6L173.7 337.3L165.5 339.4L158.2 342.1L151.4 345.4L145.2 349.3L139.3 354.0Z" fill="url(#e45)"/>
<path d="M138.3 356.9L141.2 354.3L144.3 351.8L147.4 349.7L150.6 347.7L157.4 344.5L165.1 342.0L173.3 340.3L183.1 339.0L194.9 338.3L209.7 338.0L207.0 334.9L193.9 335.6L182.8 336.7L173.5 338.3L165.5 340.2L158.1 342.9L151.1 346.2L144.9 350.1L139.0 355.0Z" fill="url(#e44)"/>
<path d="M138.0 357.9L140.9 355.1L143.7 352.8L146.7 350.7L150.0 348.7L153.4 346.9L156.8 345.5L160.7 344.1L164.5 343.0L172.9 341.4L182.9 340.3L195.0 339.8L211.1 339.7L208.4 336.4L194.1 336.9L183.2 337.8L173.6 339.2L165.5 341.1L157.9 343.6L154.3 345.2L150.9 347.0L144.6 351.0L141.5 353.4L138.6 355.9Z" fill="url(#e43)"/>
<path d="M137.7 358.8L140.5 356.0L143.4 353.7L146.4 351.5L149.7 349.5L153.2 347.7L156.5 346.3L160.6 344.9L164.4 343.9L173.0 342.5L182.7 341.6L194.4 341.3L212.4 341.5L209.7 338.0L194.9 338.3L183.1 339.0L173.3 340.3L165.1 342.0L157.4 344.5L150.6 347.7L147.4 349.7L144.3 351.8L141.2 354.3L138.3 356.9Z" fill="url(#e42)"/>
<path d="M137.3 359.8L140.2 356.9L143.0 354.5L146.1 352.3L149.3 350.2L152.9 348.5L156.3 347.1L159.9 345.9L163.8 345.0L172.5 343.6L182.3 343.0L194.3 343.0L213.8 343.5L211.1 339.7L195.0 339.8L182.9 340.3L172.9 341.4L164.5 343.0L160.7 344.1L156.8 345.5L153.4 346.9L150.0 348.7L146.7 350.7L143.7 352.8L140.9 355.1L138.0 357.9Z" fill="url(#e41)"/>
<path d="M137.2 360.3L140.0 357.3L142.8 354.9L145.9 352.6L149.2 350.6L152.7 348.9L156.1 347.5L159.8 346.4L163.7 345.5L171.9 344.3L181.9 343.8L193.9 343.8L214.4 344.5L212.4 341.5L194.4 341.3L182.7 341.6L173.0 342.5L164.4 343.9L160.6 344.9L156.5 346.3L153.2 347.7L149.7 349.5L146.4 351.5L143.4 353.7L140.5 356.0L137.7 358.8Z" fill="url(#e40)"/>
<path d="M137.0 360.7L139.8 357.8L142.7 355.3L145.7 353.0L148.6 351.2L152.2 349.4L155.6 348.1L159.2 347.0L163.2 346.1L171.4 344.9L181.4 344.5L192.8 344.7L215.1 345.6L213.8 343.5L194.3 343.0L182.3 343.0L172.5 343.6L163.8 345.0L159.9 345.9L156.3 347.1L152.9 348.5L149.3 350.2L146.1 352.3L143.0 354.5L140.2 356.9L137.3 359.8Z" fill="url(#e39)"/>
<path d="M136.8 361.2L139.7 358.2L142.5 355.7L145.5 353.4L148.5 351.6L152.0 349.9L155.4 348.5L159.1 347.4L163.0 346.6L171.3 345.6L180.8 345.3L192.4 345.6L215.8 346.7L214.4 344.5L193.9 343.8L181.9 343.8L171.9 344.3L163.7 345.5L159.8 346.4L156.1 347.5L152.7 348.9L149.2 350.6L145.9 352.6L142.8 354.9L140.0 357.3L137.2 360.3Z" fill="url(#e38)"/>
<path d="M136.7 361.7L139.5 358.7L142.3 356.1L145.3 353.8L148.3 352.0L151.4 350.4L154.8 349.1L158.5 348.0L162.5 347.2L170.8 346.2L180.3 346.1L191.2 346.4L216.4 347.9L215.1 345.6L192.8 344.7L181.4 344.5L171.4 344.9L163.2 346.1L159.2 347.0L155.6 348.1L152.2 349.4L148.6 351.2L145.7 353.0L142.7 355.3L139.8 357.8L137.0 360.7Z" fill="url(#e37)"/>
<path d="M136.5 362.2L139.1 359.4L141.8 356.8L144.8 354.4L147.7 352.6L150.9 351.0L154.3 349.7L157.9 348.6L161.9 347.8L169.6 346.9L179.7 346.8L190.0 347.3L217.1 349.1L215.8 346.7L192.4 345.6L180.8 345.3L171.3 345.6L163.0 346.6L159.1 347.4L155.4 348.5L152.0 349.9L148.5 351.6L145.5 353.4L142.5 355.7L139.7 358.2L136.8 361.2Z" fill="url(#e36)"/>
<path d="M136.4 362.7L138.9 359.8L141.6 357.2L144.6 354.8L147.5 353.0L150.7 351.4L154.1 350.1L157.7 349.1L161.7 348.3L169.5 347.6L178.5 347.6L188.1 348.1L217.8 350.3L216.4 347.9L191.2 346.4L180.3 346.1L170.8 346.2L162.5 347.2L158.5 348.0L154.8 349.1L151.4 350.4L148.3 352.0L145.3 353.8L142.3 356.1L139.5 358.7L136.7 361.7Z" fill="url(#e35)"/>
<path d="M136.2 363.1L138.7 360.2L141.4 357.6L144.4 355.2L147.3 353.4L150.5 351.8L153.9 350.5L157.1 349.7L161.1 348.9L168.4 348.3L177.9 348.4L218.5 351.6L217.1 349.1L190.0 347.3L179.7 346.8L169.6 346.9L161.9 347.8L157.9 348.6L154.3 349.7L150.9 351.0L147.7 352.6L144.8 354.4L141.8 356.8L139.1 359.4L136.5 362.2Z" fill="url(#e34)"/>
<path d="M136.0 363.6L138.5 360.7L141.2 358.0L144.2 355.6L147.1 353.8L150.2 352.2L153.7 351.0L156.9 350.2L160.9 349.5L168.2 349.0L176.7 349.2L219.1 352.9L217.8 350.3L188.1 348.1L178.5 347.6L169.5 347.6L161.7 348.3L157.7 349.1L154.1 350.1L150.7 351.4L147.5 353.0L144.6 354.8L141.6 357.2L138.9 359.8L136.4 362.7Z" fill="url(#e33)"/>
<path d="M135.9 364.1L138.3 361.1L141.0 358.4L143.7 356.3L146.5 354.4L149.7 352.8L153.0 351.6L156.3 350.8L160.2 350.1L167.0 349.7L175.4 350.0L206.7 353.1L219.8 354.2L218.5 351.6L177.9 348.4L168.4 348.3L161.1 348.9L157.1 349.7L153.9 350.5L150.5 351.8L147.3 353.4L144.4 355.2L141.4 357.6L138.7 360.2L136.2 363.1Z" fill="url(#e32)"/>
<path d="M135.7 364.6L138.1 361.6L140.8 358.8L143.4 356.6L146.3 354.8L149.4 353.2L152.4 352.2L155.6 351.4L159.6 350.8L166.4 350.5L174.1 350.8L205.3 354.3L220.5 355.6L219.1 352.9L176.7 349.2L168.2 349.0L160.9 349.5L156.9 350.2L153.7 351.0L150.2 352.2L147.1 353.8L144.2 355.6L141.2 358.0L138.5 360.7L136.0 363.6Z" fill="url(#e31)"/>
<path d="M135.5 365.1L137.9 362.0L140.3 359.5L142.9 357.3L145.7 355.4L148.8 353.8L151.8 352.8L155.0 352.0L158.9 351.4L165.1 351.2L172.8 351.6L204.7 355.5L221.1 357.1L219.8 354.2L206.7 353.1L175.4 350.0L167.0 349.7L160.2 350.1L156.3 350.8L153.0 351.6L149.7 352.8L146.5 354.4L143.7 356.3L141.0 358.4L138.3 361.1L135.9 364.1Z" fill="url(#e30)"/>
<path d="M135.4 365.5L137.8 362.4L140.1 359.9L142.7 357.7L145.2 356.0L148.2 354.4L151.1 353.3L154.3 352.6L158.2 352.1L164.4 351.9L171.5 352.4L203.3 356.7L221.8 358.6L220.5 355.6L205.3 354.3L174.1 350.8L166.4 350.5L159.6 350.8L155.6 351.4L152.4 352.2L149.4 353.2L146.3 354.8L143.4 356.6L140.8 358.8L138.1 361.6L135.7 364.6Z" fill="url(#e29)"/>
<path d="M135.2 366.0L137.6 362.9L139.9 360.3L142.5 358.1L144.9 356.4L148.0 354.9L150.9 353.8L154.0 353.1L157.5 352.7L163.2 352.7L169.6 353.2L202.6 358.1L213.1 359.3L222.5 360.1L221.1 357.1L204.7 355.5L172.8 351.6L165.1 351.2L158.9 351.4L155.0 352.0L151.8 352.8L148.8 353.8L145.7 355.4L142.9 357.3L140.3 359.5L137.9 362.0L135.5 365.1Z" fill="url(#e28)"/>
<path d="M135.0 366.5L137.1 363.6L139.4 361.0L141.9 358.7L144.4 357.0L147.3 355.4L150.2 354.4L153.4 353.7L156.8 353.4L161.9 353.4L168.2 354.0L201.1 359.3L212.5 360.7L223.1 361.7L221.8 358.6L203.3 356.7L171.5 352.4L164.4 351.9L158.2 352.1L154.3 352.6L151.1 353.3L148.2 354.4L145.2 356.0L142.7 357.7L140.1 359.9L137.8 362.4L135.4 365.5Z" fill="url(#e27)"/>
<path d="M134.9 367.0L136.9 364.0L139.2 361.4L141.7 359.1L144.1 357.4L146.7 356.0L149.6 355.0L152.7 354.4L156.0 354.1L160.6 354.1L166.3 354.7L200.4 360.7L211.9 362.2L223.8 363.3L222.5 360.1L213.1 359.3L202.6 358.1L169.6 353.2L163.2 352.7L157.5 352.7L154.0 353.1L150.9 353.8L148.0 354.9L144.9 356.4L142.5 358.1L139.9 360.3L137.6 362.9L135.2 366.0Z" fill="url(#e26)"/>
<path d="M134.7 367.5L136.7 364.5L139.0 361.8L141.1 359.7L143.5 358.0L146.1 356.6L148.9 355.6L151.9 355.0L155.3 354.7L160.3 354.9L166.6 355.8L190.2 360.5L202.4 362.6L213.3 364.0L224.5 365.0L223.1 361.7L212.5 360.7L201.1 359.3L168.2 354.0L161.9 353.4L156.8 353.4L153.4 353.7L150.2 354.4L147.3 355.4L144.4 357.0L141.9 358.7L139.4 361.0L137.1 363.6L135.0 366.5Z" fill="url(#e25)"/>
<path d="M134.6 367.9L136.5 364.9L138.7 362.2L140.9 360.1L143.2 358.4L145.8 357.1L148.6 356.1L151.2 355.6L154.5 355.4L159.1 355.6L164.7 356.5L188.5 361.7L200.7 363.9L212.7 365.6L225.2 366.8L223.8 363.3L211.9 362.2L200.4 360.7L166.3 354.7L160.6 354.1L156.0 354.1L152.7 354.4L149.6 355.0L146.7 356.0L144.1 357.4L141.7 359.1L139.2 361.4L136.9 364.0L134.9 367.0Z" fill="url(#e24)"/>
<path d="M134.4 368.4L136.3 365.3L138.3 362.9L140.4 360.7L142.6 359.0L145.1 357.7L147.5 356.8L150.1 356.3L153.3 356.1L157.8 356.4L163.3 357.3L186.8 362.9L199.9 365.5L213.1 367.4L225.8 368.5L224.5 365.0L213.3 364.0L202.4 362.6L190.2 360.5L166.6 355.8L160.3 354.9L155.3 354.7L151.9 355.0L148.9 355.6L146.1 356.6L143.5 358.0L141.1 359.7L139.0 361.8L136.7 364.5L134.7 367.5Z" fill="url(#e23)"/>
<path d="M134.2 368.9L136.1 365.7L138.0 363.3L140.1 361.1L142.1 359.6L144.5 358.2L146.8 357.4L149.4 356.9L152.5 356.8L156.9 357.2L161.9 358.1L185.1 364.2L198.0 366.9L212.3 369.1L226.5 370.4L225.2 366.8L212.7 365.6L200.7 363.9L188.5 361.7L164.7 356.5L159.1 355.6L154.5 355.4L151.2 355.6L148.6 356.1L145.8 357.1L143.2 358.4L140.9 360.1L138.7 362.2L136.5 364.9L134.6 367.9Z" fill="url(#e22)"/>
<path d="M134.1 369.4L135.7 366.5L137.5 363.9L139.6 361.8L141.5 360.2L143.9 358.8L146.2 358.0L148.6 357.6L151.4 357.5L155.2 357.8L159.9 358.8L183.3 365.4L197.1 368.6L204.0 369.8L211.5 370.9L219.6 371.7L227.2 372.3L225.8 368.5L213.1 367.4L199.9 365.5L186.8 362.9L163.3 357.3L157.8 356.4L153.3 356.1L150.1 356.3L147.5 356.8L145.1 357.7L142.6 359.0L140.4 360.7L138.3 362.9L136.3 365.3L134.4 368.4Z" fill="url(#e21)"/>
<path d="M133.9 369.9L135.5 366.9L137.3 364.3L139.3 362.2L141.2 360.6L143.2 359.4L145.5 358.6L147.9 358.2L150.6 358.2L154.3 358.6L158.5 359.6L180.8 366.5L188.0 368.5L195.2 370.1L203.1 371.6L210.6 372.7L218.9 373.6L227.8 374.2L226.5 370.4L212.3 369.1L198.0 366.9L185.1 364.2L161.9 358.1L156.9 357.2L152.5 356.8L149.4 356.9L146.8 357.4L144.5 358.2L142.1 359.6L140.1 361.1L138.0 363.3L136.1 365.7L134.2 368.9Z" fill="url(#e20)"/>
<path d="M133.7 370.3L135.3 367.4L137.1 364.7L138.7 362.8L140.6 361.2L142.6 360.0L144.8 359.2L146.8 358.9L149.4 358.9L152.6 359.3L156.6 360.3L179.7 368.1L187.0 370.2L194.2 371.9L202.1 373.5L210.9 374.8L219.3 375.6L228.5 376.3L227.2 372.3L219.6 371.7L211.5 370.9L204.0 369.8L197.1 368.6L183.3 365.4L159.9 358.8L155.2 357.8L151.4 357.5L148.6 357.6L146.2 358.0L143.9 358.8L141.5 360.2L139.6 361.8L137.5 363.9L135.7 366.5L134.1 369.4Z" fill="url(#e19)"/>
<path d="M133.6 370.8L135.1 367.8L136.6 365.4L138.2 363.4L140.0 361.8L141.9 360.6L143.7 359.9L146.0 359.5L148.6 359.6L151.7 360.1L155.2 361.0L177.1 369.2L185.0 371.7L192.1 373.6L201.1 375.4L209.9 376.8L219.7 377.8L229.2 378.3L227.8 374.2L218.9 373.6L210.6 372.7L203.1 371.6L195.2 370.1L188.0 368.5L180.8 366.5L158.5 359.6L154.3 358.6L150.6 358.2L147.9 358.2L145.5 358.6L143.2 359.4L141.2 360.6L139.3 362.2L137.3 364.3L135.5 366.9L133.9 369.9Z" fill="url(#e18)"/>
<path d="M133.4 371.3L134.9 368.2L136.3 365.8L137.9 363.8L139.4 362.4L141.3 361.2L143.0 360.5L145.0 360.2L147.4 360.2L150.8 360.9L154.7 362.2L170.3 368.7L178.2 371.7L184.7 373.8L191.0 375.5L199.9 377.4L208.9 378.8L218.8 379.8L229.9 380.4L228.5 376.3L219.3 375.6L210.9 374.8L202.1 373.5L194.2 371.9L187.0 370.2L179.7 368.1L156.6 360.3L152.6 359.3L149.4 358.9L146.8 358.9L144.8 359.2L142.6 360.0L140.6 361.2L138.7 362.8L137.1 364.7L135.3 367.4L133.7 370.3Z" fill="url(#e17)"/>
<path d="M133.2 371.8L134.5 369.0L135.9 366.5L137.4 364.4L138.8 363.0L140.6 361.8L142.3 361.2L144.2 360.9L146.2 360.9L149.1 361.5L152.9 362.8L168.5 370.0L176.2 373.2L182.6 375.5L189.7 377.5L198.8 379.5L209.0 381.1L219.2 382.1L230.5 382.6L229.2 378.3L219.7 377.8L209.9 376.8L201.1 375.4L192.1 373.6L185.0 371.7L177.1 369.2L155.2 361.0L151.7 360.1L148.6 359.6L146.0 359.5L143.7 359.9L141.9 360.6L140.0 361.8L138.2 363.4L136.6 365.4L135.1 367.8L133.6 370.8Z" fill="url(#e16)"/>
<path d="M133.1 372.3L135.4 367.2L136.9 365.1L138.3 363.6L139.7 362.5L141.4 361.8L143.1 361.5L145.0 361.6L147.9 362.2L151.4 363.6L166.0 371.1L173.4 374.5L180.5 377.2L188.5 379.7L197.5 381.7L207.8 383.4L219.5 384.4L231.2 384.9L229.9 380.4L218.8 379.8L208.9 378.8L199.9 377.4L191.0 375.5L184.7 373.8L178.2 371.7L170.3 368.7L154.7 362.2L150.8 360.9L147.4 360.2L145.0 360.2L143.0 360.5L141.3 361.2L139.4 362.4L137.9 363.8L136.3 365.8L134.9 368.2L133.4 371.3Z" fill="url(#e15)"/>
<path d="M132.9 372.8L135.2 367.6L136.4 365.7L137.7 364.2L139.1 363.1L140.7 362.4L142.1 362.2L143.9 362.3L146.6 362.9L150.0 364.5L164.1 372.5L171.4 376.2L179.1 379.3L187.1 381.9L197.3 384.3L207.8 385.9L219.8 386.9L231.9 387.2L230.5 382.6L219.2 382.1L209.0 381.1L198.8 379.5L189.7 377.5L182.6 375.5L176.2 373.2L168.5 370.0L152.9 362.8L149.1 361.5L146.2 360.9L144.2 360.9L142.3 361.2L140.6 361.8L138.8 363.0L137.4 364.4L135.9 366.5L134.5 369.0L133.2 371.8Z" fill="url(#e14)"/>
<path d="M132.8 373.2L134.7 368.3L135.9 366.4L137.1 364.8L138.5 363.7L139.7 363.1L141.0 362.9L142.8 362.9L145.3 363.7L148.2 365.1L161.6 373.6L169.3 377.9L176.8 381.3L184.7 384.0L189.5 385.3L194.8 386.5L200.4 387.5L206.5 388.3L218.6 389.3L232.5 389.6L231.2 384.9L219.5 384.4L207.8 383.4L197.5 381.7L188.5 379.7L180.5 377.2L173.4 374.5L166.0 371.1L151.4 363.6L147.9 362.2L145.0 361.6L143.1 361.5L141.4 361.8L139.7 362.5L138.3 363.6L136.9 365.1L135.4 367.2L133.1 372.3Z" fill="url(#e13)"/>
<path d="M132.6 373.7L134.5 368.7L135.6 366.7L136.6 365.4L137.9 364.3L139.0 363.7L140.3 363.5L141.7 363.6L144.1 364.4L146.8 365.9L159.7 375.1L167.1 379.7L174.5 383.3L183.2 386.5L188.0 387.9L193.2 389.1L198.9 390.1L205.0 390.9L211.7 391.5L218.8 391.9L233.2 392.0L231.9 387.2L219.8 386.9L207.8 385.9L197.3 384.3L187.1 381.9L179.1 379.3L171.4 376.2L164.1 372.5L150.0 364.5L146.6 362.9L143.9 362.3L142.1 362.2L140.7 362.4L139.1 363.1L137.7 364.2L136.4 365.7L135.2 367.6L132.9 372.8Z" fill="url(#e12)"/>
<path d="M132.4 374.2L134.1 369.4L135.1 367.4L136.0 366.1L137.0 365.1L138.1 364.4L139.3 364.1L140.6 364.2L142.6 364.9L145.1 366.5L157.2 376.3L161.2 379.2L164.9 381.6L169.1 384.0L172.9 385.8L177.0 387.6L181.5 389.1L187.4 390.8L192.7 392.0L198.5 393.0L204.8 393.8L211.6 394.3L219.0 394.6L233.9 394.5L232.5 389.6L218.6 389.3L206.5 388.3L200.4 387.5L194.8 386.5L189.5 385.3L184.7 384.0L176.8 381.3L169.3 377.9L161.6 373.6L148.2 365.1L145.3 363.7L142.8 362.9L141.0 362.9L139.7 363.1L138.5 363.7L137.1 364.8L135.9 366.4L134.7 368.3L132.8 373.2Z" fill="url(#e11)"/>
<path d="M132.3 374.7L133.8 369.8L135.5 366.7L136.4 365.6L137.4 365.0L138.3 364.8L139.5 364.9L141.4 365.7L143.8 367.4L155.2 377.9L159.0 381.0L162.7 383.7L166.7 386.2L171.2 388.5L175.3 390.4L179.7 392.0L185.6 393.7L191.0 394.9L196.8 395.9L203.1 396.7L210.0 397.2L217.5 397.4L225.7 397.4L234.6 397.0L233.2 392.0L218.8 391.9L211.7 391.5L205.0 390.9L198.9 390.1L193.2 389.1L188.0 387.9L183.2 386.5L174.5 383.3L167.1 379.7L159.7 375.1L146.8 365.9L144.1 364.4L141.7 363.6L140.3 363.5L139.0 363.7L137.9 364.3L136.6 365.4L135.6 366.7L134.5 368.7L132.6 373.7Z" fill="url(#e10)"/>
<path d="M132.1 375.2L133.4 370.5L134.9 367.2L135.8 366.2L136.6 365.7L137.4 365.5L138.5 365.5L140.2 366.4L142.1 368.0L153.2 379.7L156.9 383.1L160.4 385.9L164.3 388.6L168.6 391.1L173.4 393.4L177.8 395.1L183.7 396.8L189.0 398.0L196.1 399.2L202.6 399.8L209.7 400.2L217.5 400.3L226.0 400.1L235.2 399.7L233.9 394.5L219.0 394.6L211.6 394.3L204.8 393.8L198.5 393.0L192.7 392.0L187.4 390.8L181.5 389.1L177.0 387.6L172.9 385.8L169.1 384.0L164.9 381.6L161.2 379.2L157.2 376.3L145.1 366.5L142.6 364.9L140.6 364.2L139.3 364.1L138.1 364.4L137.0 365.1L136.0 366.1L135.1 367.4L134.1 369.4L132.4 374.2Z" fill="url(#e9)"/>
<path d="M131.9 375.6L133.1 370.8L134.6 367.6L135.4 366.6L136.1 366.2L136.8 366.1L137.9 366.4L139.3 367.3L141.1 369.2L148.6 378.6L152.1 382.8L155.7 386.4L159.8 389.8L164.5 393.0L169.7 395.9L175.8 398.4L181.6 400.2L186.9 401.4L192.8 402.3L199.3 403.0L204.9 403.3L212.5 403.5L219.1 403.3L235.9 402.3L234.6 397.0L225.7 397.4L217.5 397.4L210.0 397.2L203.1 396.7L196.8 395.9L191.0 394.9L185.6 393.7L179.7 392.0L175.3 390.4L171.2 388.5L166.7 386.2L162.7 383.7L159.0 381.0L155.2 377.9L143.8 367.4L141.4 365.7L139.5 364.9L138.3 364.8L137.4 365.0L136.4 365.6L135.5 366.7L133.8 369.8L132.3 374.7Z" fill="url(#e8)"/>
<path d="M131.8 376.1L132.9 371.2L134.0 368.2L134.8 367.2L135.4 366.8L136.1 366.8L136.8 367.0L138.1 368.1L139.5 369.8L145.9 379.5L149.5 384.5L152.9 388.4L156.7 392.2L161.7 396.1L166.8 399.2L172.6 401.8L178.3 403.6L183.5 404.8L189.3 405.8L195.7 406.4L202.7 406.8L210.4 406.8L219.0 406.5L236.6 405.1L235.2 399.7L226.0 400.1L217.5 400.3L209.7 400.2L202.6 399.8L196.1 399.2L189.0 398.0L183.7 396.8L177.8 395.1L173.4 393.4L168.6 391.1L164.3 388.6L160.4 385.9L156.9 383.1L153.2 379.7L142.1 368.0L140.2 366.4L138.5 365.5L137.4 365.5L136.6 365.7L135.8 366.2L134.9 367.2L133.4 370.5L132.1 375.2Z" fill="url(#e7)"/>
<path d="M131.6 376.6L132.5 371.9L133.5 368.7L134.0 367.9L134.6 367.4L135.2 367.4L135.8 367.7L136.9 368.9L138.2 370.8L143.7 381.0L147.0 386.5L150.0 390.8L153.5 394.9L158.1 399.1L162.9 402.4L168.4 405.1L173.7 407.1L179.8 408.6L185.5 409.5L193.1 410.3L200.2 410.5L208.1 410.4L216.8 409.9L226.5 409.1L237.2 407.9L235.9 402.3L219.1 403.3L212.5 403.5L204.9 403.3L199.3 403.0L192.8 402.3L186.9 401.4L181.6 400.2L175.8 398.4L169.7 395.9L164.5 393.0L159.8 389.8L155.7 386.4L152.1 382.8L148.6 378.6L141.1 369.2L139.3 367.3L137.9 366.4L136.8 366.1L136.1 366.2L135.4 366.6L134.6 367.6L133.1 370.8L131.9 375.6Z" fill="url(#e6)"/>
<path d="M131.5 377.1L132.1 372.6L132.9 369.5L133.3 368.6L133.8 368.1L134.2 368.0L134.7 368.3L135.5 369.3L136.5 371.2L141.4 382.9L144.4 389.0L147.5 394.3L150.7 398.6L152.8 401.0L155.0 403.1L159.5 406.5L164.7 409.4L169.9 411.4L175.8 412.9L182.5 413.9L190.1 414.5L197.3 414.6L207.1 414.2L216.3 413.5L226.5 412.4L237.9 410.9L236.6 405.1L219.0 406.5L210.4 406.8L202.7 406.8L195.7 406.4L189.3 405.8L183.5 404.8L178.3 403.6L172.6 401.8L166.8 399.2L161.7 396.1L156.7 392.2L152.9 388.4L149.5 384.5L145.9 379.5L139.5 369.8L138.1 368.1L136.8 367.0L136.1 366.8L135.4 366.8L134.8 367.2L134.0 368.2L132.9 371.2L131.8 376.1Z" fill="url(#e5)"/>
<path d="M131.3 377.6L131.8 372.8L132.4 370.0L133.0 368.7L133.3 368.7L133.7 368.9L134.3 369.9L135.1 372.1L139.0 384.6L141.4 391.3L144.0 397.2L146.8 402.0L148.6 404.6L150.6 406.9L154.5 410.6L159.2 413.7L164.7 416.1L170.2 417.6L176.6 418.6L183.9 419.2L192.3 419.2L202.1 418.6L213.3 417.5L226.3 415.8L238.6 413.8L237.2 407.9L226.5 409.1L216.8 409.9L208.1 410.4L200.2 410.5L193.1 410.3L185.5 409.5L179.8 408.6L173.7 407.1L168.4 405.1L162.9 402.4L158.1 399.1L153.5 394.9L150.0 390.8L147.0 386.5L143.7 381.0L138.2 370.8L136.9 368.9L135.8 367.7L135.2 367.4L134.6 367.4L134.0 367.9L133.5 368.7L132.5 371.9L131.6 376.6Z" fill="url(#e4)"/>
<path d="M131.1 378.0L131.8 370.8L132.2 369.4L132.4 369.3L132.7 369.5L133.7 372.8L136.4 386.3L138.2 394.0L140.3 400.6L142.8 406.7L144.3 409.5L146.0 412.1L147.8 414.4L149.8 416.5L152.1 418.3L153.9 419.6L156.7 421.0L158.9 422.0L162.2 423.0L164.8 423.6L170.9 424.4L178.0 424.8L186.3 424.5L197.8 423.5L209.5 422.0L223.2 419.8L239.3 416.9L237.9 410.9L226.5 412.4L216.3 413.5L207.1 414.2L197.3 414.6L190.1 414.5L182.5 413.9L175.8 412.9L169.9 411.4L164.7 409.4L159.5 406.5L155.0 403.1L152.8 401.0L150.7 398.6L147.5 394.3L144.4 389.0L141.4 382.9L136.5 371.2L135.5 369.3L134.7 368.3L134.2 368.0L133.8 368.1L133.3 368.6L132.9 369.5L132.1 372.6L131.5 377.1Z" fill="url(#e3)"/>
<path d="M131.0 378.5L131.3 371.0L131.6 369.9L131.8 370.5L134.0 391.1L135.4 401.3L137.1 409.7L138.2 413.8L139.3 416.8L141.5 421.4L144.2 425.1L146.0 426.8L147.5 428.0L149.8 429.2L151.7 430.1L154.5 430.9L156.9 431.4L163.3 432.0L171.3 431.8L179.6 431.1L191.4 429.5L203.8 427.4L221.5 424.0L239.9 420.1L238.6 413.8L226.3 415.8L213.3 417.5L202.1 418.6L192.3 419.2L183.9 419.2L176.6 418.6L170.2 417.6L164.7 416.1L159.2 413.7L154.5 410.6L150.6 406.9L148.6 404.6L146.8 402.0L144.0 397.2L141.4 391.3L139.0 384.6L135.1 372.1L134.3 369.9L133.7 368.9L133.3 368.7L133.0 368.7L132.4 370.0L131.8 372.8L131.3 377.6Z" fill="url(#e2)"/>
<path d="M130.8 450.0L240.6 423.6L239.3 416.9L223.2 419.8L209.5 422.0L197.8 423.5L186.3 424.5L178.0 424.8L170.9 424.4L164.8 423.6L162.2 423.0L158.9 422.0L156.7 421.0L153.9 419.6L152.1 418.3L149.8 416.5L147.8 414.4L146.0 412.1L144.3 409.5L142.8 406.7L140.3 400.6L138.2 394.0L136.4 386.3L133.7 372.8L132.7 369.5L132.4 369.3L132.2 369.4L131.8 370.8L131.1 378.0Z" fill="url(#e1)"/>
<path d="M130.8 450.0L240.6 423.6L239.9 420.1L221.5 424.0L203.8 427.4L191.4 429.5L179.6 431.1L171.3 431.8L163.3 432.0L156.9 431.4L154.5 430.9L151.7 430.1L149.8 429.2L147.5 428.0L146.0 426.8L144.2 425.1L141.5 421.4L139.3 416.8L138.2 413.8L137.1 409.7L135.4 401.3L134.0 391.1L131.8 370.5L131.6 369.9L131.3 371.0L131.0 378.5Z" fill="#342686"/>
<path d="M130.8 377.9L130.8 377.6L156.7 316.2L156.4 316.3L155.4 316.9Z" fill="#f8da2c"/>
<path d="M130.8 378.2L130.8 377.7L156.4 316.3L155.4 316.9L154.3 317.4Z" fill="#f9d92c"/>
<path d="M130.8 378.5L130.8 377.9L155.4 316.9L154.3 317.4L153.2 317.9Z" fill="#f9d82d"/>
<path d="M130.8 378.8L130.8 378.2L154.3 317.4L153.2 317.9L152.1 318.5Z" fill="#f9d72e"/>
<path d="M130.8 379.0L130.8 378.5L153.2 317.9L152.1 318.5L151.1 319.0Z" fill="#f9d52e"/>
<path d="M130.8 379.3L130.8 378.8L152.1 318.5L151.1 319.0L150.0 319.5Z" fill="#f9d42f"/>
<path d="M130.8 379.6L130.8 379.0L151.1 319.0L150.0 319.5L148.9 320.1Z" fill="#f9d230"/>
<path d="M130.8 379.9L130.8 379.3L150.0 319.5L148.9 320.1L147.8 320.7Z" fill="#fad131"/>
<path d="M130.8 380.2L130.8 379.6L148.9 320.1L147.8 320.7L146.8 321.2Z" fill="#facf31"/>
<path d="M130.8 380.6L130.8 379.9L147.8 320.7L146.8 321.2L145.7 321.8Z" fill="#face32"/>
<path d="M130.8 380.9L130.8 380.2L146.8 321.2L145.7 321.8L144.6 322.4Z" fill="#facd33"/>
<path d="M130.8 381.2L130.8 380.6L145.7 321.8L144.6 322.4L143.5 323.0Z" fill="#facb33"/>
<path d="M130.8 381.6L130.8 380.9L144.6 322.4L143.5 323.0L142.5 323.6Z" fill="#f9ca34"/>
<path d="M130.8 381.9L130.8 381.2L143.5 323.0L142.5 323.6L141.4 324.2Z" fill="#f9c935"/>
<path d="M130.8 382.3L130.8 381.6L142.5 323.6L141.4 324.2L140.3 324.8Z" fill="#f9c735"/>
<path d="M130.8 382.6L130.8 381.9L141.4 324.2L140.3 324.8L139.2 325.4Z" fill="#f8c636"/>
<path d="M130.8 383.0L130.8 382.3L140.3 324.8L139.2 325.4L138.1 326.1Z" fill="#f8c437"/>
<path d="M130.8 383.4L130.8 382.6L139.2 325.4L138.1 326.1L137.1 326.7Z" fill="#f8c338"/>
<path d="M130.8 383.8L130.8 383.0L138.1 326.1L137.1 326.7L136.0 327.3Z" fill="#f8c138"/>
<path d="M130.8 384.2L130.8 383.4L137.1 326.7L136.0 327.3L134.9 328.0Z" fill="#f7c039"/>
<path d="M130.8 384.6L130.8 383.8L136.0 327.3L134.9 328.0L133.8 328.7Z" fill="#f7be3a"/>
<path d="M130.8 385.0L130.8 384.2L134.9 328.0L133.8 328.7L132.8 329.3Z" fill="#f6bd3b"/>
<path d="M130.8 385.4L130.8 384.6L133.8 328.7L132.8 329.3L131.7 330.0Z" fill="#f5bc3c"/>
<path d="M130.8 385.8L130.8 385.0L132.8 329.3L131.7 330.0L130.6 330.7Z" fill="#f4bb3d"/>
<path d="M130.8 386.3L130.8 385.4L131.7 330.0L130.6 330.7L129.5 331.4Z" fill="#f3ba3e"/>
<path d="M130.8 386.7L130.8 385.8L130.6 330.7L129.5 331.4L128.5 332.1Z" fill="#f1b93f"/>
<path d="M130.8 387.1L130.8 386.3L129.5 331.4L128.5 332.1L127.4 332.8Z" fill="#f0b840"/>
<path d="M130.8 387.6L130.8 386.7L128.5 332.1L127.4 332.8L126.3 333.5Z" fill="#efb741"/>
<path d="M130.8 388.1L130.8 387.1L127.4 332.8L126.3 333.5L125.2 334.2Z" fill="#eeb642"/>
<path d="M130.8 388.4L130.8 387.6L126.3 333.5L125.2 334.2L124.5 334.8Z" fill="#ecb544"/>
<path d="M130.8 388.7L130.8 388.1L125.2 334.2L124.5 334.8L123.7 335.3Z" fill="#eab544"/>
<path d="M130.8 389.1L130.8 388.4L124.5 334.8L123.7 335.3L123.0 335.8Z" fill="#e8b545"/>
<path d="M130.8 389.4L130.8 388.7L123.7 335.3L123.0 335.8L122.2 336.3Z" fill="#e5b645"/>
<path d="M130.8 389.8L130.8 389.1L123.0 335.8L122.2 336.3L121.5 336.9Z" fill="#e3b646"/>
<path d="M130.8 390.1L130.8 389.4L122.2 336.3L121.5 336.9L120.7 337.4Z" fill="#e0b646"/>
<path d="M130.8 390.5L130.8 389.8L121.5 336.9L120.7 337.4L120.0 337.9Z" fill="#ddb646"/>
<path d="M130.8 390.9L130.8 390.1L120.7 337.4L120.0 337.9L119.2 338.5Z" fill="#dbb647"/>
<path d="M130.8 391.2L130.8 390.5L120.0 337.9L119.2 338.5L118.5 339.0Z" fill="#d8b747"/>
<path d="M130.8 391.6L130.8 390.9L119.2 338.5L118.5 339.0L117.7 339.6Z" fill="#d5b748"/>
<path d="M130.8 392.0L130.8 391.2L118.5 339.0L117.7 339.6L117.0 340.1Z" fill="#d1b748"/>
<path d="M130.8 392.4L130.8 391.6L117.7 339.6L117.0 340.1L116.2 340.7Z" fill="#cdb749"/>
<path d="M130.8 392.8L130.8 392.0L117.0 340.1L116.2 340.7L115.4 341.3Z" fill="#c9b74a"/>
<path d="M130.8 393.2L130.8 392.4L116.2 340.7L115.4 341.3L114.7 341.9Z" fill="#c4b74b"/>
<path d="M130.8 393.5L130.8 392.8L115.4 341.3L114.7 341.9L113.9 342.4Z" fill="#c0b74b"/>
<path d="M130.8 394.0L130.8 393.2L114.7 341.9L113.9 342.4L113.2 343.0Z" fill="#bbb74c"/>
<path d="M130.8 394.4L130.8 393.5L113.9 342.4L113.2 343.0L112.4 343.6Z" fill="#b6b74d"/>
<path d="M130.8 394.8L130.8 394.0L113.2 343.0L112.4 343.6L111.7 344.2Z" fill="#b2b74e"/>
<path d="M130.8 395.2L130.8 394.4L112.4 343.6L111.7 344.2L110.9 344.8Z" fill="#acb74e"/>
<path d="M130.8 395.6L130.8 394.8L111.7 344.2L110.9 344.8L110.2 345.4Z" fill="#a7b750"/>
<path d="M130.8 396.0L130.8 395.2L110.9 344.8L110.2 345.4L109.4 346.0Z" fill="#a1b651"/>
<path d="M130.8 396.5L130.8 395.6L110.2 345.4L109.4 346.0L108.7 346.6Z" fill="#9bb652"/>
<path d="M130.8 396.9L130.8 396.0L109.4 346.0L108.7 346.6L107.9 347.2Z" fill="#95b653"/>
<path d="M130.8 397.3L130.8 396.5L108.7 346.6L107.9 347.2L107.2 347.9Z" fill="#8fb554"/>
<path d="M130.8 397.8L130.8 396.9L107.9 347.2L107.2 347.9L106.4 348.5Z" fill="#89b555"/>
<path d="M130.8 398.2L130.8 397.3L107.2 347.9L106.4 348.5L105.7 349.1Z" fill="#83b556"/>
<path d="M130.8 398.7L130.8 397.8L106.4 348.5L105.7 349.1L104.9 349.7Z" fill="#7db457"/>
<path d="M130.8 399.2L130.8 398.2L105.7 349.1L104.9 349.7L104.1 350.4Z" fill="#76b458"/>
<path d="M130.8 399.6L130.8 398.7L104.9 349.7L104.1 350.4L103.4 351.0Z" fill="#70b35a"/>
<path d="M130.8 400.1L130.8 399.2L104.1 350.4L103.4 351.0L102.6 351.7Z" fill="#6ab35b"/>
<path d="M130.8 400.6L130.8 399.6L103.4 351.0L102.6 351.7L101.9 352.3Z" fill="#63b25d"/>
<path d="M130.8 401.1L130.8 400.1L102.6 351.7L101.9 352.3L101.1 353.0Z" fill="#5db25e"/>
<path d="M130.8 401.5L130.8 400.6L101.9 352.3L101.1 353.0L100.4 353.7Z" fill="#56b15f"/>
<path d="M130.8 402.0L130.8 401.1L101.1 353.0L100.4 353.7L99.6 354.4Z" fill="#4fb061"/>
<path d="M130.8 402.5L130.8 401.5L100.4 353.7L99.6 354.4L98.9 355.0Z" fill="#48b062"/>
<path d="M130.8 403.0L130.8 402.0L99.6 354.4L98.9 355.0L98.1 355.7Z" fill="#42af64"/>
<path d="M130.8 403.5L130.8 402.5L98.9 355.0L98.1 355.7L97.4 356.4Z" fill="#3dae65"/>
<path d="M130.8 404.1L130.8 403.0L98.1 355.7L97.4 356.4L96.6 357.1Z" fill="#39ae67"/>
<path d="M130.8 404.6L130.8 403.5L97.4 356.4L96.6 357.1L95.9 357.8Z" fill="#35ad69"/>
<path d="M130.8 405.1L130.8 404.1L96.6 357.1L95.9 357.8L95.1 358.5Z" fill="#31ac6a"/>
<path d="M130.8 405.6L130.8 404.6L95.9 357.8L95.1 358.5L94.4 359.2Z" fill="#2dac6c"/>
<path d="M130.8 406.2L130.8 405.1L95.1 358.5L94.4 359.2L93.6 359.9Z" fill="#29ab6e"/>
<path d="M130.8 406.7L130.8 405.6L94.4 359.2L93.6 359.9L92.8 360.7Z" fill="#26ab6f"/>
<path d="M130.8 407.2L130.8 406.2L93.6 359.9L92.8 360.7L92.1 361.4Z" fill="#22aa72"/>
<path d="M130.8 407.8L130.8 406.7L92.8 360.7L92.1 361.4L91.3 362.1Z" fill="#1fa974"/>
<path d="M130.8 408.4L130.8 407.2L92.1 361.4L91.3 362.1L90.6 362.9Z" fill="#1ba876"/>
<path d="M130.8 408.9L130.8 407.8L91.3 362.1L90.6 362.9L89.8 363.6Z" fill="#18a878"/>
<path d="M130.8 409.5L130.8 408.4L90.6 362.9L89.8 363.6L89.1 364.3Z" fill="#14a77a"/>
<path d="M130.8 410.1L130.8 408.9L89.8 363.6L89.1 364.3L88.3 365.1Z" fill="#11a67c"/>
<path d="M130.8 410.6L130.8 409.5L89.1 364.3L88.3 365.1L87.6 365.9Z" fill="#0ea57f"/>
<path d="M130.8 411.2L130.8 410.1L88.3 365.1L87.6 365.9L86.8 366.6Z" fill="#0ca482"/>
<path d="M130.8 411.8L130.8 410.6L87.6 365.9L86.8 366.6L86.1 367.4Z" fill="#09a384"/>
<path d="M130.8 412.4L130.8 411.2L86.8 366.6L86.1 367.4L85.3 368.2Z" fill="#06a287"/>
<path d="M130.8 413.0L130.8 411.8L86.1 367.4L85.3 368.2L84.6 369.0Z" fill="#03a18a"/>
<path d="M130.8 413.6L130.8 412.4L85.3 368.2L84.6 369.0L83.8 369.7Z" fill="#00a08c"/>
<path d="M130.8 414.2L130.8 413.0L84.6 369.0L83.8 369.7L83.1 370.5Z" fill="#009e8f"/>
<path d="M130.8 414.8L130.8 413.6L83.8 369.7L83.1 370.5L82.3 371.3Z" fill="#009d92"/>
<path d="M130.8 415.5L130.8 414.2L83.1 370.5L82.3 371.3L81.5 372.1Z" fill="#009b96"/>
<path d="M130.8 416.1L130.8 414.8L82.3 371.3L81.5 372.1L80.8 373.0Z" fill="#009a99"/>
<path d="M130.8 416.7L130.8 415.5L81.5 372.1L80.8 373.0L80.0 373.8Z" fill="#00989c"/>
<path d="M130.8 417.4L130.8 416.1L80.8 373.0L80.0 373.8L79.3 374.6Z" fill="#00979f"/>
<path d="M130.8 418.0L130.8 416.7L80.0 373.8L79.3 374.6L78.5 375.4Z" fill="#0095a1"/>
<path d="M130.8 418.7L130.8 417.4L79.3 374.6L78.5 375.4L77.8 376.2Z" fill="#0092a3"/>
<path d="M130.8 419.3L130.8 418.0L78.5 375.4L77.8 376.2L77.0 377.1Z" fill="#0090a5"/>
<path d="M130.8 420.0L130.8 418.7L77.8 376.2L77.0 377.1L76.3 377.9Z" fill="#008ea7"/>
<path d="M130.8 420.7L130.8 419.3L77.0 377.1L76.3 377.9L75.5 378.8Z" fill="#008ca9"/>
<path d="M130.8 421.3L130.8 420.0L76.3 377.9L75.5 378.8L74.8 379.6Z" fill="#008aab"/>
<path d="M130.8 422.0L130.8 420.7L75.5 378.8L74.8 379.6L74.0 380.5Z" fill="#0088ad"/>
<path d="M130.8 422.7L130.8 421.3L74.8 379.6L74.0 380.5L73.3 381.4Z" fill="#0086ae"/>
<path d="M130.8 423.4L130.8 422.0L74.0 380.5L73.3 381.4L72.5 382.2Z" fill="#0084b0"/>
<path d="M130.8 424.1L130.8 422.7L73.3 381.4L72.5 382.2L71.8 383.1Z" fill="#0082b1"/>
<path d="M130.8 424.8L130.8 423.4L72.5 382.2L71.8 383.1L71.0 384.0Z" fill="#0080b2"/>
<path d="M130.8 425.5L130.8 424.1L71.8 383.1L71.0 384.0L70.3 384.9Z" fill="#007db4"/>
<path d="M130.8 426.2L130.8 424.8L71.0 384.0L70.3 384.9L69.5 385.8Z" fill="#007cb5"/>
<path d="M130.8 426.9L130.8 425.5L70.3 384.9L69.5 385.8L68.7 386.7Z" fill="#007ab5"/>
<path d="M130.8 427.7L130.8 426.2L69.5 385.8L68.7 386.7L68.0 387.6Z" fill="#0078b6"/>
<path d="M130.8 428.4L130.8 426.9L68.7 386.7L68.0 387.6L67.2 388.5Z" fill="#0076b6"/>
<path d="M130.8 429.1L130.8 427.7L68.0 387.6L67.2 388.5L66.5 389.4Z" fill="#0074b7"/>
<path d="M130.8 429.9L130.8 428.4L67.2 388.5L66.5 389.4L65.7 390.3Z" fill="#0072b8"/>
<path d="M130.8 430.6L130.8 429.1L66.5 389.4L65.7 390.3L65.0 391.3Z" fill="#0071b8"/>
<path d="M130.8 431.3L130.8 429.9L65.7 390.3L65.0 391.3L64.2 392.2Z" fill="#006fb9"/>
<path d="M130.8 432.1L130.8 430.6L65.0 391.3L64.2 392.2L63.5 393.1Z" fill="#016db9"/>
<path d="M130.8 432.9L130.8 431.3L64.2 392.2L63.5 393.1L62.7 394.1Z" fill="#016bb9"/>
<path d="M130.8 433.6L130.8 432.1L63.5 393.1L62.7 394.1L62.0 395.0Z" fill="#026ab9"/>
<path d="M130.8 434.4L130.8 432.9L62.7 394.1L62.0 395.0L61.2 396.0Z" fill="#0268b8"/>
<path d="M130.8 435.2L130.8 433.6L62.0 395.0L61.2 396.0L60.5 396.9Z" fill="#0366b8"/>
<path d="M130.8 436.0L130.8 434.4L61.2 396.0L60.5 396.9L59.7 397.9Z" fill="#0364b8"/>
<path d="M130.8 436.7L130.8 435.2L60.5 396.9L59.7 397.9L59.0 398.9Z" fill="#0462b8"/>
<path d="M130.8 437.5L130.8 436.0L59.7 397.9L59.0 398.9L58.2 399.8Z" fill="#0660b7"/>
<path d="M130.8 438.3L130.8 436.7L59.0 398.9L58.2 399.8L57.4 400.8Z" fill="#085db6"/>
<path d="M130.8 439.1L130.8 437.5L58.2 399.8L57.4 400.8L56.7 401.8Z" fill="#0a5ab4"/>
<path d="M130.8 439.9L130.8 438.3L57.4 400.8L56.7 401.8L55.9 402.8Z" fill="#0c58b3"/>
<path d="M130.8 440.8L130.8 439.1L56.7 401.8L55.9 402.8L55.2 403.8Z" fill="#0e55b2"/>
<path d="M130.8 441.6L130.8 439.9L55.9 402.8L55.2 403.8L54.4 404.8Z" fill="#1052b0"/>
<path d="M130.8 442.4L130.8 440.8L55.2 403.8L54.4 404.8L53.7 405.8Z" fill="#144ead"/>
<path d="M130.8 443.2L130.8 441.6L54.4 404.8L53.7 405.8L52.9 406.8Z" fill="#1849aa"/>
<path d="M130.8 444.1L130.8 442.4L53.7 405.8L52.9 406.8L52.2 407.8Z" fill="#1c45a7"/>
<path d="M130.8 444.9L130.8 443.2L52.9 406.8L52.2 407.8L51.4 408.8Z" fill="#2040a4"/>
<path d="M130.8 445.7L130.8 444.1L52.2 407.8L51.4 408.8L50.7 409.8Z" fill="#243ba0"/>
<path d="M130.8 446.6L130.8 444.9L51.4 408.8L50.7 409.8L49.9 410.9Z" fill="#28369c"/>
<path d="M130.8 447.4L130.8 445.7L50.7 409.8L49.9 410.9L49.2 411.9Z" fill="#2c3097"/>
<path d="M130.8 448.3L130.8 446.6L49.9 410.9L49.2 411.9L48.4 412.9Z" fill="#2f2c93"/>
<path d="M130.8 449.1L130.8 447.4L49.2 411.9L48.4 412.9L47.7 414.0Z" fill="#312a8f"/>
<path d="M130.8 450.0L130.8 448.3L48.4 412.9L47.7 414.0L46.9 415.0Z" fill="#32288c"/>
<path d="M130.8 450.0L130.8 449.1L47.7 414.0L46.9 415.0Z" fill="#332788"/>
<defs></defs>
<path d="M130.8 450.0L46.9 415.0L47.1 414.8L90.8 432.8L111.7 441.1L117.6 443.2L121.7 444.4L124.6 444.8L125.8 444.8L126.7 444.5L128.0 443.4L128.9 441.5L129.6 438.5L130.0 433.5L130.6 416.2L130.8 377.5Z" fill="#342686" stroke="#342686" stroke-width="0.3"/>
<path d="M130.4 449.5L129.6 423.0L128.8 446.0L127.2 448.4Z" fill="#fffef0" opacity="0.9"/>
<path d="M126.6 448.4L130.6 449.8L129.2 446.6Z" fill="#f5e04a"/>
<path d="M127.9 446.4h0.7v0.7h-0.7zM127.1 441.2h0.7v0.7h-0.7zM129.2 446.0h0.7v0.7h-0.7zM125.8 443.4h0.7v0.7h-0.7zM121.2 441.1h0.7v0.7h-0.7zM127.3 446.5h0.7v0.7h-0.7zM128.8 434.9h0.7v0.7h-0.7zM127.7 441.7h0.7v0.7h-0.7zM128.8 445.2h0.7v0.7h-0.7zM125.1 441.2h0.7v0.7h-0.7zM126.8 438.6h0.7v0.7h-0.7zM127.5 434.4h0.7v0.7h-0.7zM125.0 445.6h0.7v0.7h-0.7zM126.1 440.2h0.7v0.7h-0.7zM128.1 438.4h0.7v0.7h-0.7zM124.2 443.2h0.7v0.7h-0.7zM125.0 436.8h0.7v0.7h-0.7zM126.0 438.0h0.7v0.7h-0.7zM120.1 441.9h0.7v0.7h-0.7zM126.9 440.6h0.7v0.7h-0.7zM129.1 435.8h0.7v0.7h-0.7zM128.6 434.0h0.7v0.7h-0.7zM128.3 433.5h0.7v0.7h-0.7zM118.8 441.3h0.7v0.7h-0.7zM125.1 444.5h0.7v0.7h-0.7zM128.7 440.1h0.7v0.7h-0.7zM127.5 442.6h0.7v0.7h-0.7zM126.0 437.7h0.7v0.7h-0.7zM124.9 445.6h0.7v0.7h-0.7zM117.5 440.2h0.7v0.7h-0.7zM127.7 438.8h0.7v0.7h-0.7zM129.0 444.9h0.7v0.7h-0.7zM129.1 445.4h0.7v0.7h-0.7zM129.1 433.8h0.7v0.7h-0.7zM127.8 443.8h0.7v0.7h-0.7zM127.6 434.2h0.7v0.7h-0.7zM126.9 445.4h0.7v0.7h-0.7zM127.3 445.0h0.7v0.7h-0.7zM128.5 445.1h0.7v0.7h-0.7zM128.3 436.9h0.7v0.7h-0.7zM120.1 442.3h0.7v0.7h-0.7zM127.8 435.4h0.7v0.7h-0.7zM127.5 433.8h0.7v0.7h-0.7zM118.1 439.9h0.7v0.7h-0.7zM128.0 446.8h0.7v0.7h-0.7zM128.9 436.4h0.7v0.7h-0.7z" fill="#fff" opacity="0.85"/>
<path d="M46.9 337.4L46.9 415.0L130.8 450.0L240.6 423.6M46.9 415.0h-2.4M46.9 395.6h-2.4M46.9 376.2h-2.4M46.9 356.8h-2.4M46.9 337.4h-2.4M114.0 443.0l-2.3 0.6M97.2 436.0l-2.3 0.6M80.5 429.0l-2.3 0.6M63.7 422.0l-2.3 0.6M152.8 444.7l2.2 0.9M174.7 439.4l2.2 0.9M196.7 434.2l2.2 0.9M218.6 428.9l2.2 0.9M240.6 423.6l2.2 0.9" stroke="#3c3c3c" stroke-width="0.8" fill="none"/>
<text x="42.6" y="417.4" font-size="6.8" fill="#444" text-anchor="end">0</text>
<text x="42.6" y="398.0" font-size="6.8" fill="#444" text-anchor="end">0.1</text>
<text x="42.6" y="378.6" font-size="6.8" fill="#444" text-anchor="end">0.2</text>
<text x="42.6" y="359.2" font-size="6.8" fill="#444" text-anchor="end">0.3</text>
<text x="42.6" y="339.8" font-size="6.8" fill="#444" text-anchor="end">0.4</text>
<text x="103.0" y="452.7" font-size="6.8" fill="#444" text-anchor="middle">200</text>
<text x="86.2" y="445.7" font-size="6.8" fill="#444" text-anchor="middle">400</text>
<text x="69.5" y="438.7" font-size="6.8" fill="#444" text-anchor="middle">600</text>
<text x="52.7" y="431.7" font-size="6.8" fill="#444" text-anchor="middle">800</text>
<text x="162.0" y="455.3" font-size="6.8" fill="#444" text-anchor="middle">200</text>
<text x="183.9" y="450.0" font-size="6.8" fill="#444" text-anchor="middle">400</text>
<text x="205.9" y="444.8" font-size="6.8" fill="#444" text-anchor="middle">600</text>
<text x="227.8" y="439.5" font-size="6.8" fill="#444" text-anchor="middle">800</text>
<text x="249.8" y="434.2" font-size="6.8" fill="#444" text-anchor="middle">1000</text>
<text x="4.3" y="314.3" font-size="21" fill="#111">e</text>
<text transform="translate(30.3 375.6) rotate(-90)" font-size="11" fill="#333" text-anchor="middle" textLength="44.5" lengthAdjust="spacingAndGlyphs">α(Pavr)</text>
<text x="86.7" y="469" font-size="12" fill="#333" text-anchor="middle">n</text>
<text x="184.8" y="471" font-size="13" fill="#444" text-anchor="middle" font-style="italic" class="ser">β</text>
<path d="M322.7 396.2L483.8 390.7L528.0 416.2M322.7 371.4L483.8 365.9L528.0 391.4M322.7 346.6L483.8 341.1L528.0 366.6M322.7 321.8L483.8 316.3L528.0 341.8M354.9 419.9L354.9 320.7M354.9 419.9L399.1 445.4M387.1 418.8L387.1 319.6M387.1 418.8L431.3 444.3M419.4 417.7L419.4 318.5M419.4 417.7L463.6 443.2M451.6 416.6L451.6 317.4M451.6 416.6L495.8 442.1M483.8 415.5L483.8 316.3M483.8 415.5L528.0 441.0M519.2 435.9L519.2 336.7M519.2 435.9L358.1 441.4M510.3 430.8L510.3 331.6M510.3 430.8L349.2 436.3M501.5 425.7L501.5 326.5M501.5 425.7L340.4 431.2M492.6 420.6L492.6 321.4M492.6 420.6L331.5 426.1" stroke="#dcdcdc" stroke-width="0.6" fill="none"/>
<defs><linearGradient id="f1" gradientUnits="userSpaceOnUse" x1="366.5" y1="0" x2="527.6" y2="0"><stop offset="0.0007" stop-color="#facc33"/><stop offset="0.0028" stop-color="#f6bd3b"/><stop offset="0.0048" stop-color="#3faf65"/><stop offset="0.0068" stop-color="#009d93"/><stop offset="0.0089" stop-color="#0088ad"/><stop offset="0.0159" stop-color="#0269b9"/><stop offset="0.0497" stop-color="#213fa3"/><stop offset="0.1160" stop-color="#302b92"/><stop offset="1.0000" stop-color="#332788"/></linearGradient>
<linearGradient id="f2" gradientUnits="userSpaceOnUse" x1="366.2" y1="0" x2="527.3" y2="0"><stop offset="0.0014" stop-color="#facc33"/><stop offset="0.0035" stop-color="#f5ec21"/><stop offset="0.0056" stop-color="#f6bd3b"/><stop offset="0.0095" stop-color="#40af64"/><stop offset="0.0118" stop-color="#10a67e"/><stop offset="0.0137" stop-color="#009c93"/><stop offset="0.0182" stop-color="#0086ae"/><stop offset="0.0329" stop-color="#0268b8"/><stop offset="0.1005" stop-color="#213ea3"/><stop offset="0.2308" stop-color="#302b92"/><stop offset="1.0000" stop-color="#332789"/></linearGradient>
<linearGradient id="f3" gradientUnits="userSpaceOnUse" x1="365.8" y1="0" x2="526.9" y2="0"><stop offset="0.0022" stop-color="#facc33"/><stop offset="0.0052" stop-color="#f5ec21"/><stop offset="0.0084" stop-color="#f6bd3b"/><stop offset="0.0097" stop-color="#e3b646"/><stop offset="0.0116" stop-color="#9eb651"/><stop offset="0.0143" stop-color="#3eaf65"/><stop offset="0.0179" stop-color="#0ea580"/><stop offset="0.0207" stop-color="#009c94"/><stop offset="0.0275" stop-color="#0086ae"/><stop offset="0.0499" stop-color="#0268b8"/><stop offset="0.1513" stop-color="#213ea2"/><stop offset="0.3510" stop-color="#302b92"/><stop offset="1.0000" stop-color="#32288a"/></linearGradient>
<linearGradient id="f4" gradientUnits="userSpaceOnUse" x1="365.5" y1="0" x2="526.6" y2="0"><stop offset="0.0029" stop-color="#facc33"/><stop offset="0.0068" stop-color="#f5ed20"/><stop offset="0.0111" stop-color="#f6bd3b"/><stop offset="0.0130" stop-color="#e1b646"/><stop offset="0.0168" stop-color="#78b458"/><stop offset="0.0192" stop-color="#3cae66"/><stop offset="0.0238" stop-color="#0ea57f"/><stop offset="0.0273" stop-color="#009d92"/><stop offset="0.0359" stop-color="#0087ad"/><stop offset="0.0646" stop-color="#0269b9"/><stop offset="0.1971" stop-color="#213fa3"/><stop offset="0.4572" stop-color="#302b92"/><stop offset="1.0000" stop-color="#32298c"/></linearGradient>
<linearGradient id="f5" gradientUnits="userSpaceOnUse" x1="365.1" y1="0" x2="526.2" y2="0"><stop offset="0.0036" stop-color="#facc33"/><stop offset="0.0087" stop-color="#f5ec21"/><stop offset="0.0140" stop-color="#f6bd3b"/><stop offset="0.0162" stop-color="#e1b646"/><stop offset="0.0203" stop-color="#87b555"/><stop offset="0.0241" stop-color="#3bae66"/><stop offset="0.0302" stop-color="#0ca481"/><stop offset="0.0344" stop-color="#009c94"/><stop offset="0.0457" stop-color="#0086ae"/><stop offset="0.0834" stop-color="#0268b8"/><stop offset="0.2532" stop-color="#223ea2"/><stop offset="0.5904" stop-color="#302b92"/><stop offset="1.0000" stop-color="#31298d"/></linearGradient>
<linearGradient id="f6" gradientUnits="userSpaceOnUse" x1="364.8" y1="0" x2="525.9" y2="0"><stop offset="0.0043" stop-color="#facc33"/><stop offset="0.0058" stop-color="#f6ea22"/><stop offset="0.0105" stop-color="#f5ec21"/><stop offset="0.0169" stop-color="#f5bc3c"/><stop offset="0.0196" stop-color="#dfb646"/><stop offset="0.0287" stop-color="#3dae66"/><stop offset="0.0357" stop-color="#0ea57f"/><stop offset="0.0406" stop-color="#009e91"/><stop offset="0.0533" stop-color="#0088ad"/><stop offset="0.0955" stop-color="#026ab9"/><stop offset="0.2952" stop-color="#213fa3"/><stop offset="0.6822" stop-color="#302b92"/><stop offset="1.0000" stop-color="#312a8f"/></linearGradient>
<linearGradient id="f7" gradientUnits="userSpaceOnUse" x1="364.4" y1="0" x2="525.5" y2="0"><stop offset="0.0050" stop-color="#facc33"/><stop offset="0.0067" stop-color="#f6ea22"/><stop offset="0.0122" stop-color="#f5ec21"/><stop offset="0.0197" stop-color="#f5bc3c"/><stop offset="0.0231" stop-color="#ddb647"/><stop offset="0.0335" stop-color="#3dae66"/><stop offset="0.0414" stop-color="#0fa57e"/><stop offset="0.0477" stop-color="#009d92"/><stop offset="0.0622" stop-color="#0088ad"/><stop offset="0.1115" stop-color="#0269b9"/><stop offset="0.3459" stop-color="#213fa3"/><stop offset="0.8087" stop-color="#302b92"/><stop offset="1.0000" stop-color="#302a90"/></linearGradient>
<linearGradient id="f8" gradientUnits="userSpaceOnUse" x1="364.1" y1="0" x2="525.2" y2="0"><stop offset="0.0058" stop-color="#facc33"/><stop offset="0.0076" stop-color="#f6ea22"/><stop offset="0.0136" stop-color="#f5ed20"/><stop offset="0.0225" stop-color="#f5bc3c"/><stop offset="0.0263" stop-color="#deb646"/><stop offset="0.0377" stop-color="#41af64"/><stop offset="0.0472" stop-color="#0fa57e"/><stop offset="0.0542" stop-color="#009d91"/><stop offset="0.0702" stop-color="#0089ac"/><stop offset="0.1241" stop-color="#016ab9"/><stop offset="0.3807" stop-color="#2040a4"/><stop offset="0.8863" stop-color="#2f2b93"/><stop offset="1.0000" stop-color="#302b91"/></linearGradient>
<linearGradient id="f9" gradientUnits="userSpaceOnUse" x1="363.7" y1="0" x2="524.8" y2="0"><stop offset="0.0065" stop-color="#facc33"/><stop offset="0.0086" stop-color="#f6ea22"/><stop offset="0.0156" stop-color="#f5ec21"/><stop offset="0.0254" stop-color="#f5bc3c"/><stop offset="0.0295" stop-color="#deb646"/><stop offset="0.0428" stop-color="#3faf65"/><stop offset="0.0533" stop-color="#0fa57e"/><stop offset="0.0610" stop-color="#009d91"/><stop offset="0.0798" stop-color="#0088ad"/><stop offset="0.1440" stop-color="#0269b9"/><stop offset="0.4453" stop-color="#213fa3"/><stop offset="1.0000" stop-color="#2f2b93"/></linearGradient>
<linearGradient id="f10" gradientUnits="userSpaceOnUse" x1="363.4" y1="0" x2="524.5" y2="0"><stop offset="0.0072" stop-color="#facc33"/><stop offset="0.0095" stop-color="#f6ea22"/><stop offset="0.0173" stop-color="#f5ec21"/><stop offset="0.0279" stop-color="#f6bd3b"/><stop offset="0.0323" stop-color="#e2b646"/><stop offset="0.0401" stop-color="#8eb554"/><stop offset="0.0480" stop-color="#3cae66"/><stop offset="0.0605" stop-color="#0ca482"/><stop offset="0.0690" stop-color="#009c94"/><stop offset="0.0929" stop-color="#0085af"/><stop offset="0.1711" stop-color="#0267b8"/><stop offset="0.5084" stop-color="#223ea2"/><stop offset="1.0000" stop-color="#2f2c94"/></linearGradient>
<linearGradient id="f11" gradientUnits="userSpaceOnUse" x1="363.0" y1="0" x2="524.1" y2="0"><stop offset="0.0079" stop-color="#facc33"/><stop offset="0.0106" stop-color="#f6ea22"/><stop offset="0.0193" stop-color="#f5ec21"/><stop offset="0.0308" stop-color="#f5bd3c"/><stop offset="0.0357" stop-color="#e1b646"/><stop offset="0.0440" stop-color="#8eb554"/><stop offset="0.0526" stop-color="#3dae66"/><stop offset="0.0660" stop-color="#0da580"/><stop offset="0.0751" stop-color="#009d92"/><stop offset="0.0989" stop-color="#0087ad"/><stop offset="0.1799" stop-color="#0269b9"/><stop offset="0.5495" stop-color="#213ea3"/><stop offset="1.0000" stop-color="#2e2e95"/></linearGradient>
<linearGradient id="f12" gradientUnits="userSpaceOnUse" x1="362.7" y1="0" x2="523.8" y2="0"><stop offset="0.0086" stop-color="#facc33"/><stop offset="0.0115" stop-color="#f6ea22"/><stop offset="0.0210" stop-color="#f5ec21"/><stop offset="0.0339" stop-color="#f5bc3c"/><stop offset="0.0391" stop-color="#e0b646"/><stop offset="0.0572" stop-color="#3eae65"/><stop offset="0.0715" stop-color="#0ea57f"/><stop offset="0.0825" stop-color="#009c93"/><stop offset="0.1098" stop-color="#0086ae"/><stop offset="0.2009" stop-color="#0268b8"/><stop offset="0.6110" stop-color="#223ea2"/><stop offset="1.0000" stop-color="#2c3097"/></linearGradient>
<linearGradient id="f13" gradientUnits="userSpaceOnUse" x1="362.3" y1="0" x2="523.4" y2="0"><stop offset="0.0094" stop-color="#facc33"/><stop offset="0.0124" stop-color="#f6ea22"/><stop offset="0.0225" stop-color="#f5ec21"/><stop offset="0.0364" stop-color="#f5bd3c"/><stop offset="0.0426" stop-color="#deb646"/><stop offset="0.0620" stop-color="#3eaf65"/><stop offset="0.0771" stop-color="#0fa57f"/><stop offset="0.0888" stop-color="#009d92"/><stop offset="0.1176" stop-color="#0087ae"/><stop offset="0.2130" stop-color="#0268b8"/><stop offset="0.6558" stop-color="#213ea2"/><stop offset="1.0000" stop-color="#2b3298"/></linearGradient>
<linearGradient id="f14" gradientUnits="userSpaceOnUse" x1="361.9" y1="0" x2="523.0" y2="0"><stop offset="0.0101" stop-color="#facc33"/><stop offset="0.0133" stop-color="#f6ea22"/><stop offset="0.0242" stop-color="#f5ec21"/><stop offset="0.0396" stop-color="#f5bc3c"/><stop offset="0.0455" stop-color="#e0b646"/><stop offset="0.0668" stop-color="#3eae65"/><stop offset="0.0828" stop-color="#0fa57e"/><stop offset="0.0951" stop-color="#009d92"/><stop offset="0.1255" stop-color="#0087ad"/><stop offset="0.2251" stop-color="#0269b9"/><stop offset="0.6914" stop-color="#213fa3"/><stop offset="1.0000" stop-color="#29339a"/></linearGradient>
<linearGradient id="f15" gradientUnits="userSpaceOnUse" x1="361.6" y1="0" x2="522.7" y2="0"><stop offset="0.0108" stop-color="#facc33"/><stop offset="0.0144" stop-color="#f6ea22"/><stop offset="0.0264" stop-color="#f5ec21"/><stop offset="0.0422" stop-color="#f5bc3c"/><stop offset="0.0491" stop-color="#deb646"/><stop offset="0.0717" stop-color="#3dae66"/><stop offset="0.0900" stop-color="#0da580"/><stop offset="0.1031" stop-color="#009c93"/><stop offset="0.1375" stop-color="#0086ae"/><stop offset="0.2520" stop-color="#0268b8"/><stop offset="0.7614" stop-color="#223ea2"/><stop offset="1.0000" stop-color="#28359b"/></linearGradient>
<linearGradient id="f16" gradientUnits="userSpaceOnUse" x1="361.2" y1="0" x2="522.3" y2="0"><stop offset="0.0115" stop-color="#facc33"/><stop offset="0.0153" stop-color="#f6ea22"/><stop offset="0.0278" stop-color="#f5ec21"/><stop offset="0.0448" stop-color="#f5bd3b"/><stop offset="0.0520" stop-color="#e0b646"/><stop offset="0.0756" stop-color="#40af64"/><stop offset="0.0945" stop-color="#0fa57e"/><stop offset="0.1098" stop-color="#009c93"/><stop offset="0.1458" stop-color="#0086ae"/><stop offset="0.2648" stop-color="#0268b8"/><stop offset="0.8114" stop-color="#223ea2"/><stop offset="1.0000" stop-color="#27379d"/></linearGradient>
<linearGradient id="f17" gradientUnits="userSpaceOnUse" x1="360.9" y1="0" x2="522.0" y2="0"><stop offset="0.0122" stop-color="#facc33"/><stop offset="0.0162" stop-color="#f6ea22"/><stop offset="0.0296" stop-color="#f5ec21"/><stop offset="0.0474" stop-color="#f6bd3b"/><stop offset="0.0550" stop-color="#e2b646"/><stop offset="0.0666" stop-color="#99b652"/><stop offset="0.0806" stop-color="#3faf65"/><stop offset="0.1005" stop-color="#0fa57e"/><stop offset="0.1165" stop-color="#009d93"/><stop offset="0.1541" stop-color="#0087ae"/><stop offset="0.2818" stop-color="#0268b8"/><stop offset="0.8505" stop-color="#213ea3"/><stop offset="1.0000" stop-color="#25399e"/></linearGradient>
<linearGradient id="f18" gradientUnits="userSpaceOnUse" x1="360.5" y1="0" x2="521.6" y2="0"><stop offset="0.0130" stop-color="#facc33"/><stop offset="0.0173" stop-color="#f6ea22"/><stop offset="0.0315" stop-color="#f5ec21"/><stop offset="0.0508" stop-color="#f5bc3c"/><stop offset="0.0588" stop-color="#dfb646"/><stop offset="0.0857" stop-color="#3eaf65"/><stop offset="0.1066" stop-color="#0fa57f"/><stop offset="0.1233" stop-color="#009d93"/><stop offset="0.1625" stop-color="#0087ad"/><stop offset="0.2950" stop-color="#0268b8"/><stop offset="0.9033" stop-color="#213ea3"/><stop offset="1.0000" stop-color="#243ba0"/></linearGradient>
<linearGradient id="f19" gradientUnits="userSpaceOnUse" x1="360.2" y1="0" x2="521.3" y2="0"><stop offset="0.0137" stop-color="#facc33"/><stop offset="0.0182" stop-color="#f6ea22"/><stop offset="0.0333" stop-color="#f5ec21"/><stop offset="0.0535" stop-color="#f5bc3c"/><stop offset="0.0618" stop-color="#e0b646"/><stop offset="0.0910" stop-color="#3dae66"/><stop offset="0.1145" stop-color="#0ca481"/><stop offset="0.1303" stop-color="#009d93"/><stop offset="0.1736" stop-color="#0086ae"/><stop offset="0.3172" stop-color="#0268b8"/><stop offset="0.9579" stop-color="#213ea2"/><stop offset="1.0000" stop-color="#233da1"/></linearGradient>
<linearGradient id="f20" gradientUnits="userSpaceOnUse" x1="359.8" y1="0" x2="520.9" y2="0"><stop offset="0.0144" stop-color="#facc33"/><stop offset="0.0191" stop-color="#f6ea22"/><stop offset="0.0347" stop-color="#f5ec21"/><stop offset="0.0562" stop-color="#f5bc3c"/><stop offset="0.0648" stop-color="#e1b646"/><stop offset="0.0790" stop-color="#95b653"/><stop offset="0.0950" stop-color="#3faf65"/><stop offset="0.1192" stop-color="#0ea57f"/><stop offset="0.1373" stop-color="#009c93"/><stop offset="0.1823" stop-color="#0086ae"/><stop offset="0.3355" stop-color="#0268b8"/><stop offset="1.0000" stop-color="#213ea3"/></linearGradient>
<linearGradient id="f21" gradientUnits="userSpaceOnUse" x1="359.5" y1="0" x2="520.6" y2="0"><stop offset="0.0151" stop-color="#facc33"/><stop offset="0.0200" stop-color="#f6ea22"/><stop offset="0.0366" stop-color="#f5ec21"/><stop offset="0.0589" stop-color="#f5bd3c"/><stop offset="0.0687" stop-color="#dfb646"/><stop offset="0.1003" stop-color="#3dae65"/><stop offset="0.1256" stop-color="#0da580"/><stop offset="0.1445" stop-color="#009c93"/><stop offset="0.1939" stop-color="#0085ae"/><stop offset="0.3594" stop-color="#0267b8"/><stop offset="1.0000" stop-color="#2040a4"/></linearGradient>
<linearGradient id="f22" gradientUnits="userSpaceOnUse" x1="359.1" y1="0" x2="520.2" y2="0"><stop offset="0.0158" stop-color="#facc33"/><stop offset="0.0212" stop-color="#f6ea22"/><stop offset="0.0385" stop-color="#f5ec21"/><stop offset="0.0616" stop-color="#f5bd3b"/><stop offset="0.0718" stop-color="#dfb646"/><stop offset="0.1044" stop-color="#3faf65"/><stop offset="0.1303" stop-color="#0fa57f"/><stop offset="0.1497" stop-color="#009d92"/><stop offset="0.1975" stop-color="#0087ad"/><stop offset="0.3585" stop-color="#0269b9"/><stop offset="1.0000" stop-color="#1e42a5"/></linearGradient>
<linearGradient id="f23" gradientUnits="userSpaceOnUse" x1="358.8" y1="0" x2="519.9" y2="0"><stop offset="0.0166" stop-color="#facc33"/><stop offset="0.0221" stop-color="#f6ea22"/><stop offset="0.0404" stop-color="#f5ec21"/><stop offset="0.0644" stop-color="#f5bd3b"/><stop offset="0.0749" stop-color="#e0b646"/><stop offset="0.1099" stop-color="#3dae65"/><stop offset="0.1369" stop-color="#0ea57f"/><stop offset="0.1570" stop-color="#009d92"/><stop offset="0.2065" stop-color="#0087ad"/><stop offset="0.3725" stop-color="#0269b9"/><stop offset="1.0000" stop-color="#1d43a6"/></linearGradient>
<linearGradient id="f24" gradientUnits="userSpaceOnUse" x1="358.4" y1="0" x2="519.5" y2="0"><stop offset="0.0173" stop-color="#facc33"/><stop offset="0.0230" stop-color="#f6ea22"/><stop offset="0.0418" stop-color="#f5ec21"/><stop offset="0.0671" stop-color="#f6bd3b"/><stop offset="0.0780" stop-color="#e1b646"/><stop offset="0.0982" stop-color="#84b556"/><stop offset="0.1156" stop-color="#3bae66"/><stop offset="0.1455" stop-color="#0ba482"/><stop offset="0.1667" stop-color="#009c95"/><stop offset="0.2278" stop-color="#0083b0"/><stop offset="0.4253" stop-color="#0366b8"/><stop offset="1.0000" stop-color="#1c45a7"/></linearGradient>
<linearGradient id="f25" gradientUnits="userSpaceOnUse" x1="358.1" y1="0" x2="519.2" y2="0"><stop offset="0.0180" stop-color="#facc33"/><stop offset="0.0239" stop-color="#f6ea22"/><stop offset="0.0437" stop-color="#f5ec21"/><stop offset="0.0699" stop-color="#f6bd3b"/><stop offset="0.0811" stop-color="#e1b646"/><stop offset="0.0992" stop-color="#92b553"/><stop offset="0.1197" stop-color="#3dae66"/><stop offset="0.1504" stop-color="#0ca481"/><stop offset="0.1720" stop-color="#009c94"/><stop offset="0.2281" stop-color="#0086ae"/><stop offset="0.4176" stop-color="#0268b8"/><stop offset="1.0000" stop-color="#1a47a8"/></linearGradient>
<linearGradient id="f26" gradientUnits="userSpaceOnUse" x1="357.7" y1="0" x2="518.8" y2="0"><stop offset="0.0187" stop-color="#facc33"/><stop offset="0.0248" stop-color="#f6ea22"/><stop offset="0.0450" stop-color="#f5ec21"/><stop offset="0.0727" stop-color="#f6bd3b"/><stop offset="0.0842" stop-color="#e1b646"/><stop offset="0.1028" stop-color="#94b653"/><stop offset="0.1238" stop-color="#3eaf65"/><stop offset="0.1553" stop-color="#0ea580"/><stop offset="0.1773" stop-color="#009d92"/><stop offset="0.2345" stop-color="#0087ad"/><stop offset="0.4268" stop-color="#0268b8"/><stop offset="1.0000" stop-color="#1948a9"/></linearGradient>
<linearGradient id="f27" gradientUnits="userSpaceOnUse" x1="357.4" y1="0" x2="518.5" y2="0"><stop offset="0.0194" stop-color="#facc33"/><stop offset="0.0260" stop-color="#f6ea22"/><stop offset="0.0476" stop-color="#f5ec21"/><stop offset="0.0755" stop-color="#f6bd3b"/><stop offset="0.0873" stop-color="#e2b646"/><stop offset="0.1050" stop-color="#9cb651"/><stop offset="0.1280" stop-color="#3faf65"/><stop offset="0.1601" stop-color="#0fa57f"/><stop offset="0.1851" stop-color="#009d93"/><stop offset="0.2441" stop-color="#0087ad"/><stop offset="0.4417" stop-color="#0269b9"/><stop offset="1.0000" stop-color="#174aab"/></linearGradient>
<linearGradient id="f28" gradientUnits="userSpaceOnUse" x1="357.0" y1="0" x2="518.1" y2="0"><stop offset="0.0202" stop-color="#facc33"/><stop offset="0.0269" stop-color="#f6ea22"/><stop offset="0.0490" stop-color="#f5ec21"/><stop offset="0.0784" stop-color="#f5bd3b"/><stop offset="0.0905" stop-color="#e2b646"/><stop offset="0.1101" stop-color="#97b652"/><stop offset="0.1339" stop-color="#3dae66"/><stop offset="0.1672" stop-color="#0ea580"/><stop offset="0.1905" stop-color="#009d92"/><stop offset="0.2506" stop-color="#0088ad"/><stop offset="0.4509" stop-color="#0269b9"/><stop offset="1.0000" stop-color="#164bac"/></linearGradient>
<linearGradient id="f29" gradientUnits="userSpaceOnUse" x1="356.6" y1="0" x2="517.7" y2="0"><stop offset="0.0209" stop-color="#facc33"/><stop offset="0.0278" stop-color="#f6ea22"/><stop offset="0.0503" stop-color="#f5ec21"/><stop offset="0.0812" stop-color="#f5bd3b"/><stop offset="0.0937" stop-color="#e2b646"/><stop offset="0.1137" stop-color="#98b652"/><stop offset="0.1381" stop-color="#3eaf65"/><stop offset="0.1721" stop-color="#0fa57f"/><stop offset="0.1984" stop-color="#009d93"/><stop offset="0.2637" stop-color="#0086ae"/><stop offset="0.4845" stop-color="#0268b8"/><stop offset="1.0000" stop-color="#154dad"/></linearGradient>
<linearGradient id="f30" gradientUnits="userSpaceOnUse" x1="356.3" y1="0" x2="517.4" y2="0"><stop offset="0.0216" stop-color="#facc33"/><stop offset="0.0286" stop-color="#f6ea22"/><stop offset="0.0523" stop-color="#f5ec21"/><stop offset="0.0841" stop-color="#f5bd3c"/><stop offset="0.0969" stop-color="#e2b646"/><stop offset="0.1189" stop-color="#93b553"/><stop offset="0.1442" stop-color="#3cae66"/><stop offset="0.1816" stop-color="#0ca482"/><stop offset="0.2065" stop-color="#009c94"/><stop offset="0.2738" stop-color="#0086ae"/><stop offset="0.5003" stop-color="#0268b8"/><stop offset="1.0000" stop-color="#134eae"/></linearGradient>
<linearGradient id="f31" gradientUnits="userSpaceOnUse" x1="355.9" y1="0" x2="517.0" y2="0"><stop offset="0.0223" stop-color="#facc33"/><stop offset="0.0295" stop-color="#f6ea22"/><stop offset="0.0537" stop-color="#f5ec21"/><stop offset="0.0870" stop-color="#f5bd3c"/><stop offset="0.1001" stop-color="#e2b646"/><stop offset="0.1227" stop-color="#94b653"/><stop offset="0.1485" stop-color="#3dae66"/><stop offset="0.1866" stop-color="#0ca481"/><stop offset="0.2147" stop-color="#009c94"/><stop offset="0.2913" stop-color="#0084af"/><stop offset="0.5431" stop-color="#0366b8"/><stop offset="1.0000" stop-color="#1250af"/></linearGradient>
<linearGradient id="f32" gradientUnits="userSpaceOnUse" x1="355.6" y1="0" x2="516.7" y2="0"><stop offset="0.0230" stop-color="#facc33"/><stop offset="0.0308" stop-color="#f6ea22"/><stop offset="0.0564" stop-color="#f5ec21"/><stop offset="0.0899" stop-color="#f5bc3c"/><stop offset="0.1046" stop-color="#dfb646"/><stop offset="0.1527" stop-color="#3eae65"/><stop offset="0.1917" stop-color="#0da580"/><stop offset="0.2202" stop-color="#009c94"/><stop offset="0.2943" stop-color="#0086ae"/><stop offset="0.5391" stop-color="#0267b8"/><stop offset="1.0000" stop-color="#1052b0"/></linearGradient>
<linearGradient id="f33" gradientUnits="userSpaceOnUse" x1="355.2" y1="0" x2="516.3" y2="0"><stop offset="0.0238" stop-color="#facc33"/><stop offset="0.0317" stop-color="#f6ea22"/><stop offset="0.0577" stop-color="#f5ec21"/><stop offset="0.0929" stop-color="#f5bc3c"/><stop offset="0.1079" stop-color="#dfb646"/><stop offset="0.1571" stop-color="#3eaf65"/><stop offset="0.1967" stop-color="#0ea57f"/><stop offset="0.2257" stop-color="#009d93"/><stop offset="0.2972" stop-color="#0087ad"/><stop offset="0.5418" stop-color="#0268b8"/><stop offset="1.0000" stop-color="#0f53b0"/></linearGradient>
<linearGradient id="f34" gradientUnits="userSpaceOnUse" x1="354.9" y1="0" x2="516.0" y2="0"><stop offset="0.0245" stop-color="#facc33"/><stop offset="0.0326" stop-color="#f6ea22"/><stop offset="0.0591" stop-color="#f5ec21"/><stop offset="0.0958" stop-color="#f5bc3c"/><stop offset="0.1112" stop-color="#dfb646"/><stop offset="0.1614" stop-color="#3faf65"/><stop offset="0.2018" stop-color="#0fa57f"/><stop offset="0.2313" stop-color="#009d92"/><stop offset="0.3039" stop-color="#0088ad"/><stop offset="0.5512" stop-color="#0269b9"/><stop offset="1.0000" stop-color="#0f54b1"/></linearGradient>
<linearGradient id="f35" gradientUnits="userSpaceOnUse" x1="354.5" y1="0" x2="515.6" y2="0"><stop offset="0.0252" stop-color="#facc33"/><stop offset="0.0334" stop-color="#f6ea22"/><stop offset="0.0611" stop-color="#f5ec21"/><stop offset="0.0988" stop-color="#f5bc3c"/><stop offset="0.1146" stop-color="#dfb646"/><stop offset="0.1657" stop-color="#40af65"/><stop offset="0.2068" stop-color="#0fa57e"/><stop offset="0.2398" stop-color="#009d93"/><stop offset="0.3183" stop-color="#0086ae"/><stop offset="0.5818" stop-color="#0268b8"/><stop offset="1.0000" stop-color="#0e54b1"/></linearGradient>
<linearGradient id="f36" gradientUnits="userSpaceOnUse" x1="354.2" y1="0" x2="515.3" y2="0"><stop offset="0.0259" stop-color="#facc33"/><stop offset="0.0343" stop-color="#f6ea22"/><stop offset="0.0625" stop-color="#f5ec21"/><stop offset="0.1006" stop-color="#f6bd3b"/><stop offset="0.1179" stop-color="#deb646"/><stop offset="0.1722" stop-color="#3dae66"/><stop offset="0.2145" stop-color="#0ea57f"/><stop offset="0.2484" stop-color="#009c94"/><stop offset="0.3330" stop-color="#0085af"/><stop offset="0.6134" stop-color="#0267b8"/><stop offset="1.0000" stop-color="#0d55b2"/></linearGradient>
<linearGradient id="f37" gradientUnits="userSpaceOnUse" x1="353.8" y1="0" x2="514.9" y2="0"><stop offset="0.0266" stop-color="#facc33"/><stop offset="0.0352" stop-color="#f6ea22"/><stop offset="0.0638" stop-color="#f5ec21"/><stop offset="0.1036" stop-color="#f5bd3b"/><stop offset="0.1213" stop-color="#deb646"/><stop offset="0.1766" stop-color="#3eae65"/><stop offset="0.2197" stop-color="#0fa57f"/><stop offset="0.2541" stop-color="#009c93"/><stop offset="0.3358" stop-color="#0087ae"/><stop offset="0.6157" stop-color="#0268b8"/><stop offset="1.0000" stop-color="#0d56b2"/></linearGradient>
<linearGradient id="f38" gradientUnits="userSpaceOnUse" x1="353.5" y1="0" x2="514.6" y2="0"><stop offset="0.0274" stop-color="#facc33"/><stop offset="0.0365" stop-color="#f6ea22"/><stop offset="0.0667" stop-color="#f5ec21"/><stop offset="0.1066" stop-color="#f5bd3c"/><stop offset="0.1232" stop-color="#e1b646"/><stop offset="0.1530" stop-color="#8bb554"/><stop offset="0.1810" stop-color="#3eaf65"/><stop offset="0.2248" stop-color="#0fa57e"/><stop offset="0.2598" stop-color="#009d93"/><stop offset="0.3426" stop-color="#0087ad"/><stop offset="0.6254" stop-color="#0268b8"/><stop offset="1.0000" stop-color="#0c57b3"/></linearGradient>
<linearGradient id="f39" gradientUnits="userSpaceOnUse" x1="353.1" y1="0" x2="514.2" y2="0"><stop offset="0.0281" stop-color="#facc33"/><stop offset="0.0374" stop-color="#f6ea22"/><stop offset="0.0680" stop-color="#f5ec21"/><stop offset="0.1096" stop-color="#f5bc3c"/><stop offset="0.1265" stop-color="#e1b646"/><stop offset="0.1588" stop-color="#86b555"/><stop offset="0.1877" stop-color="#3bae66"/><stop offset="0.2356" stop-color="#0ca481"/><stop offset="0.2686" stop-color="#009c94"/><stop offset="0.3579" stop-color="#0086ae"/><stop offset="0.6582" stop-color="#0267b8"/><stop offset="1.0000" stop-color="#0b58b3"/></linearGradient>
<linearGradient id="f40" gradientUnits="userSpaceOnUse" x1="352.8" y1="0" x2="513.9" y2="0"><stop offset="0.0288" stop-color="#facc33"/><stop offset="0.0383" stop-color="#f6ea22"/><stop offset="0.0701" stop-color="#f5ec21"/><stop offset="0.1127" stop-color="#f5bc3c"/><stop offset="0.1299" stop-color="#e0b646"/><stop offset="0.1628" stop-color="#86b555"/><stop offset="0.1922" stop-color="#3cae66"/><stop offset="0.2408" stop-color="#0ca481"/><stop offset="0.2744" stop-color="#009c93"/><stop offset="0.3648" stop-color="#0086ae"/><stop offset="0.6681" stop-color="#0268b8"/><stop offset="1.0000" stop-color="#0b59b4"/></linearGradient>
<linearGradient id="f41" gradientUnits="userSpaceOnUse" x1="352.0" y1="0" x2="513.1" y2="0"><stop offset="0.0302" stop-color="#facc33"/><stop offset="0.0400" stop-color="#f6ea22"/><stop offset="0.0727" stop-color="#f5ec21"/><stop offset="0.1175" stop-color="#f6bd3b"/><stop offset="0.1368" stop-color="#e0b646"/><stop offset="0.1989" stop-color="#40af65"/><stop offset="0.2485" stop-color="#0fa57e"/><stop offset="0.2859" stop-color="#009d92"/><stop offset="0.3786" stop-color="#0087ad"/><stop offset="0.6877" stop-color="#0268b8"/><stop offset="1.0000" stop-color="#095bb4"/></linearGradient>
<linearGradient id="f42" gradientUnits="userSpaceOnUse" x1="351.3" y1="0" x2="512.4" y2="0"><stop offset="0.0317" stop-color="#facc33"/><stop offset="0.0423" stop-color="#f6ea22"/><stop offset="0.0771" stop-color="#f5ec21"/><stop offset="0.1237" stop-color="#f5bc3c"/><stop offset="0.1438" stop-color="#dfb646"/><stop offset="0.2104" stop-color="#3dae66"/><stop offset="0.2620" stop-color="#0ea57f"/><stop offset="0.3010" stop-color="#009d93"/><stop offset="0.3971" stop-color="#0087ad"/><stop offset="0.7238" stop-color="#0268b8"/><stop offset="1.0000" stop-color="#085db5"/></linearGradient>
<linearGradient id="f43" gradientUnits="userSpaceOnUse" x1="350.6" y1="0" x2="511.7" y2="0"><stop offset="0.0331" stop-color="#facc33"/><stop offset="0.0440" stop-color="#f6ea22"/><stop offset="0.0806" stop-color="#f5ec21"/><stop offset="0.1300" stop-color="#f5bc3c"/><stop offset="0.1508" stop-color="#deb646"/><stop offset="0.2196" stop-color="#3eae65"/><stop offset="0.2759" stop-color="#0da580"/><stop offset="0.3163" stop-color="#009c93"/><stop offset="0.4206" stop-color="#0086ae"/><stop offset="0.7694" stop-color="#0268b8"/><stop offset="1.0000" stop-color="#075eb6"/></linearGradient>
<linearGradient id="f44" gradientUnits="userSpaceOnUse" x1="349.9" y1="0" x2="511.0" y2="0"><stop offset="0.0346" stop-color="#facc33"/><stop offset="0.0458" stop-color="#f6ea22"/><stop offset="0.0831" stop-color="#f5ec21"/><stop offset="0.1349" stop-color="#f5bc3c"/><stop offset="0.1561" stop-color="#e0b646"/><stop offset="0.2289" stop-color="#3eae65"/><stop offset="0.2867" stop-color="#0ea580"/><stop offset="0.3282" stop-color="#009d93"/><stop offset="0.4348" stop-color="#0087ae"/><stop offset="0.7895" stop-color="#0268b8"/><stop offset="1.0000" stop-color="#0560b7"/></linearGradient>
<linearGradient id="f45" gradientUnits="userSpaceOnUse" x1="349.2" y1="0" x2="510.3" y2="0"><stop offset="0.0360" stop-color="#facc33"/><stop offset="0.0481" stop-color="#f6ea22"/><stop offset="0.0876" stop-color="#f5ec21"/><stop offset="0.1413" stop-color="#f5bc3c"/><stop offset="0.1633" stop-color="#dfb646"/><stop offset="0.2383" stop-color="#3eaf65"/><stop offset="0.2976" stop-color="#0ea57f"/><stop offset="0.3439" stop-color="#009c93"/><stop offset="0.4592" stop-color="#0086ae"/><stop offset="0.8464" stop-color="#0267b8"/><stop offset="1.0000" stop-color="#0462b8"/></linearGradient>
<linearGradient id="f46" gradientUnits="userSpaceOnUse" x1="348.5" y1="0" x2="509.6" y2="0"><stop offset="0.0374" stop-color="#facc33"/><stop offset="0.0498" stop-color="#f6ea22"/><stop offset="0.0912" stop-color="#f5ec21"/><stop offset="0.1462" stop-color="#f5bc3c"/><stop offset="0.1687" stop-color="#e1b646"/><stop offset="0.2078" stop-color="#8fb554"/><stop offset="0.2505" stop-color="#3bae66"/><stop offset="0.3155" stop-color="#0ba482"/><stop offset="0.3600" stop-color="#009c94"/><stop offset="0.4843" stop-color="#0085af"/><stop offset="0.8960" stop-color="#0367b8"/><stop offset="1.0000" stop-color="#0463b8"/></linearGradient>
<linearGradient id="f47" gradientUnits="userSpaceOnUse" x1="347.8" y1="0" x2="508.9" y2="0"><stop offset="0.0389" stop-color="#facc33"/><stop offset="0.0516" stop-color="#f6ea22"/><stop offset="0.0937" stop-color="#f5ec21"/><stop offset="0.1528" stop-color="#f5bc3c"/><stop offset="0.1759" stop-color="#e0b646"/><stop offset="0.2573" stop-color="#3eaf65"/><stop offset="0.3197" stop-color="#0fa57f"/><stop offset="0.3682" stop-color="#009d92"/><stop offset="0.4830" stop-color="#0088ad"/><stop offset="0.8778" stop-color="#0269b9"/><stop offset="1.0000" stop-color="#0364b8"/></linearGradient>
<linearGradient id="f48" gradientUnits="userSpaceOnUse" x1="347.1" y1="0" x2="508.2" y2="0"><stop offset="0.0403" stop-color="#facc33"/><stop offset="0.0539" stop-color="#f6ea22"/><stop offset="0.0983" stop-color="#f5ec21"/><stop offset="0.1577" stop-color="#f5bc3c"/><stop offset="0.1813" stop-color="#e1b646"/><stop offset="0.2200" stop-color="#97b652"/><stop offset="0.2669" stop-color="#3eaf65"/><stop offset="0.3344" stop-color="#0ea580"/><stop offset="0.3845" stop-color="#009c93"/><stop offset="0.5139" stop-color="#0086ae"/><stop offset="0.9477" stop-color="#0267b8"/><stop offset="1.0000" stop-color="#0365b8"/></linearGradient>
<linearGradient id="f49" gradientUnits="userSpaceOnUse" x1="346.4" y1="0" x2="507.5" y2="0"><stop offset="0.0418" stop-color="#facc33"/><stop offset="0.0556" stop-color="#f6ea22"/><stop offset="0.1019" stop-color="#f5ec21"/><stop offset="0.1626" stop-color="#f5bd3c"/><stop offset="0.1887" stop-color="#e0b646"/><stop offset="0.2766" stop-color="#3eaf65"/><stop offset="0.3457" stop-color="#0ea57f"/><stop offset="0.3969" stop-color="#009d93"/><stop offset="0.5231" stop-color="#0087ad"/><stop offset="0.9483" stop-color="#0269b9"/><stop offset="1.0000" stop-color="#0367b8"/></linearGradient>
<linearGradient id="f50" gradientUnits="userSpaceOnUse" x1="345.7" y1="0" x2="506.8" y2="0"><stop offset="0.0432" stop-color="#facc33"/><stop offset="0.0574" stop-color="#f6ea22"/><stop offset="0.1044" stop-color="#f5ec21"/><stop offset="0.1693" stop-color="#f5bc3c"/><stop offset="0.1962" stop-color="#dfb646"/><stop offset="0.2864" stop-color="#3eae65"/><stop offset="0.3571" stop-color="#0ea57f"/><stop offset="0.4093" stop-color="#009d92"/><stop offset="0.5436" stop-color="#0087ae"/><stop offset="0.9895" stop-color="#0268b8"/><stop offset="1.0000" stop-color="#0268b8"/></linearGradient>
<linearGradient id="f51" gradientUnits="userSpaceOnUse" x1="345.0" y1="0" x2="506.1" y2="0"><stop offset="0.0446" stop-color="#facc33"/><stop offset="0.0591" stop-color="#f6ea22"/><stop offset="0.1080" stop-color="#f5ec21"/><stop offset="0.1743" stop-color="#f5bc3c"/><stop offset="0.2016" stop-color="#e0b646"/><stop offset="0.2615" stop-color="#75b459"/><stop offset="0.2993" stop-color="#3bae67"/><stop offset="0.3763" stop-color="#0ba482"/><stop offset="0.4263" stop-color="#009c93"/><stop offset="0.5703" stop-color="#0086ae"/><stop offset="1.0000" stop-color="#0269b9"/></linearGradient>
<linearGradient id="f52" gradientUnits="userSpaceOnUse" x1="344.3" y1="0" x2="505.4" y2="0"><stop offset="0.0461" stop-color="#facc33"/><stop offset="0.0615" stop-color="#f6ea22"/><stop offset="0.1117" stop-color="#f5ec21"/><stop offset="0.1811" stop-color="#f4bc3c"/><stop offset="0.2092" stop-color="#dfb646"/><stop offset="0.3062" stop-color="#3dae66"/><stop offset="0.3840" stop-color="#0da580"/><stop offset="0.4389" stop-color="#009c93"/><stop offset="0.5796" stop-color="#0087ae"/><stop offset="1.0000" stop-color="#016ab9"/></linearGradient>
<linearGradient id="f53" gradientUnits="userSpaceOnUse" x1="343.6" y1="0" x2="504.7" y2="0"><stop offset="0.0475" stop-color="#facc33"/><stop offset="0.0632" stop-color="#f6ea22"/><stop offset="0.1153" stop-color="#f5ec21"/><stop offset="0.1861" stop-color="#f5bc3c"/><stop offset="0.2147" stop-color="#e0b646"/><stop offset="0.2798" stop-color="#73b459"/><stop offset="0.3194" stop-color="#3aae67"/><stop offset="0.4038" stop-color="#0aa383"/><stop offset="0.4610" stop-color="#009b96"/><stop offset="0.6322" stop-color="#0083b0"/><stop offset="1.0000" stop-color="#016bb9"/></linearGradient>
<linearGradient id="f54" gradientUnits="userSpaceOnUse" x1="342.9" y1="0" x2="504.0" y2="0"><stop offset="0.0490" stop-color="#facc33"/><stop offset="0.0649" stop-color="#f6ea22"/><stop offset="0.1178" stop-color="#f5ec21"/><stop offset="0.1912" stop-color="#f5bc3c"/><stop offset="0.2224" stop-color="#dfb646"/><stop offset="0.3230" stop-color="#3faf65"/><stop offset="0.4033" stop-color="#0fa57f"/><stop offset="0.4645" stop-color="#009d92"/><stop offset="0.6161" stop-color="#0087ae"/><stop offset="1.0000" stop-color="#016db9"/></linearGradient>
<linearGradient id="f55" gradientUnits="userSpaceOnUse" x1="342.1" y1="0" x2="503.2" y2="0"><stop offset="0.0504" stop-color="#facc33"/><stop offset="0.0673" stop-color="#f6ea22"/><stop offset="0.1226" stop-color="#f5ec21"/><stop offset="0.1962" stop-color="#f5bd3b"/><stop offset="0.2279" stop-color="#e0b646"/><stop offset="0.3331" stop-color="#3eaf65"/><stop offset="0.4151" stop-color="#0fa57f"/><stop offset="0.4774" stop-color="#009d92"/><stop offset="0.6315" stop-color="#0087ad"/><stop offset="1.0000" stop-color="#006eb9"/></linearGradient>
<linearGradient id="f56" gradientUnits="userSpaceOnUse" x1="341.4" y1="0" x2="502.5" y2="0"><stop offset="0.0518" stop-color="#facc33"/><stop offset="0.0691" stop-color="#f6ea22"/><stop offset="0.1263" stop-color="#f5ec21"/><stop offset="0.2032" stop-color="#f5bc3c"/><stop offset="0.2357" stop-color="#deb646"/><stop offset="0.3433" stop-color="#3eaf65"/><stop offset="0.4269" stop-color="#0fa57f"/><stop offset="0.4903" stop-color="#009d92"/><stop offset="0.6469" stop-color="#0087ad"/><stop offset="1.0000" stop-color="#006fb9"/></linearGradient>
<linearGradient id="f57" gradientUnits="userSpaceOnUse" x1="340.7" y1="0" x2="501.8" y2="0"><stop offset="0.0533" stop-color="#facc33"/><stop offset="0.0708" stop-color="#f6ea22"/><stop offset="0.1288" stop-color="#f5ec21"/><stop offset="0.2082" stop-color="#f5bc3c"/><stop offset="0.2412" stop-color="#e0b646"/><stop offset="0.3536" stop-color="#3dae65"/><stop offset="0.4431" stop-color="#0da580"/><stop offset="0.5083" stop-color="#009c93"/><stop offset="0.6755" stop-color="#0086ae"/><stop offset="1.0000" stop-color="#0070b9"/></linearGradient>
<linearGradient id="f58" gradientUnits="userSpaceOnUse" x1="340.0" y1="0" x2="501.1" y2="0"><stop offset="0.0547" stop-color="#facc33"/><stop offset="0.0725" stop-color="#f6ea22"/><stop offset="0.1325" stop-color="#f5ec21"/><stop offset="0.2133" stop-color="#f5bd3c"/><stop offset="0.2468" stop-color="#e1b646"/><stop offset="0.3026" stop-color="#91b554"/><stop offset="0.3640" stop-color="#3dae66"/><stop offset="0.4552" stop-color="#0da580"/><stop offset="0.5215" stop-color="#009c93"/><stop offset="0.6912" stop-color="#0086ae"/><stop offset="1.0000" stop-color="#0071b8"/></linearGradient>
<linearGradient id="f59" gradientUnits="userSpaceOnUse" x1="339.3" y1="0" x2="500.4" y2="0"><stop offset="0.0562" stop-color="#facc33"/><stop offset="0.0750" stop-color="#f6ea22"/><stop offset="0.1375" stop-color="#f5ec21"/><stop offset="0.2205" stop-color="#f5bc3c"/><stop offset="0.2547" stop-color="#dfb646"/><stop offset="0.3709" stop-color="#3faf65"/><stop offset="0.4628" stop-color="#0fa57f"/><stop offset="0.5347" stop-color="#009d93"/><stop offset="0.7070" stop-color="#0087ae"/><stop offset="1.0000" stop-color="#0072b8"/></linearGradient>
<linearGradient id="f60" gradientUnits="userSpaceOnUse" x1="338.6" y1="0" x2="499.7" y2="0"><stop offset="0.0576" stop-color="#facc33"/><stop offset="0.0767" stop-color="#f6ea22"/><stop offset="0.1400" stop-color="#f5ec21"/><stop offset="0.2256" stop-color="#f5bc3c"/><stop offset="0.2603" stop-color="#e0b646"/><stop offset="0.3304" stop-color="#7fb457"/><stop offset="0.3850" stop-color="#3cae66"/><stop offset="0.4841" stop-color="#0ca482"/><stop offset="0.5533" stop-color="#009c94"/><stop offset="0.7438" stop-color="#0085af"/><stop offset="1.0000" stop-color="#0074b7"/></linearGradient>
<linearGradient id="f61" gradientUnits="userSpaceOnUse" x1="337.9" y1="0" x2="499.0" y2="0"><stop offset="0.0590" stop-color="#facc33"/><stop offset="0.0784" stop-color="#f6ea22"/><stop offset="0.1424" stop-color="#f5ec21"/><stop offset="0.2307" stop-color="#f5bc3c"/><stop offset="0.2684" stop-color="#dfb646"/><stop offset="0.3919" stop-color="#3dae65"/><stop offset="0.4918" stop-color="#0da580"/><stop offset="0.5614" stop-color="#009d93"/><stop offset="0.7458" stop-color="#0086ae"/><stop offset="1.0000" stop-color="#0075b7"/></linearGradient>
<linearGradient id="f62" gradientUnits="userSpaceOnUse" x1="337.2" y1="0" x2="498.3" y2="0"><stop offset="0.0605" stop-color="#facc33"/><stop offset="0.0809" stop-color="#f6ea22"/><stop offset="0.1475" stop-color="#f5ec21"/><stop offset="0.2358" stop-color="#f5bd3c"/><stop offset="0.2739" stop-color="#dfb646"/><stop offset="0.3987" stop-color="#3faf65"/><stop offset="0.4994" stop-color="#0ea57f"/><stop offset="0.5749" stop-color="#009d93"/><stop offset="0.7618" stop-color="#0087ae"/><stop offset="1.0000" stop-color="#0076b6"/></linearGradient>
<linearGradient id="f63" gradientUnits="userSpaceOnUse" x1="336.5" y1="0" x2="497.6" y2="0"><stop offset="0.0619" stop-color="#facc33"/><stop offset="0.0826" stop-color="#f6ea22"/><stop offset="0.1513" stop-color="#f5ec21"/><stop offset="0.2431" stop-color="#f5bc3c"/><stop offset="0.2795" stop-color="#e0b646"/><stop offset="0.3594" stop-color="#7ab458"/><stop offset="0.4132" stop-color="#3cae66"/><stop offset="0.5165" stop-color="#0da481"/><stop offset="0.5884" stop-color="#009d93"/><stop offset="0.7779" stop-color="#0087ad"/><stop offset="1.0000" stop-color="#0077b6"/></linearGradient>
<linearGradient id="f64" gradientUnits="userSpaceOnUse" x1="335.8" y1="0" x2="496.9" y2="0"><stop offset="0.0634" stop-color="#facc33"/><stop offset="0.0843" stop-color="#f6ea22"/><stop offset="0.1536" stop-color="#f5ec21"/><stop offset="0.2483" stop-color="#f5bc3c"/><stop offset="0.2877" stop-color="#dfb646"/><stop offset="0.4201" stop-color="#3eae65"/><stop offset="0.5242" stop-color="#0ea57f"/><stop offset="0.6020" stop-color="#009d93"/><stop offset="0.8014" stop-color="#0086ae"/><stop offset="1.0000" stop-color="#0078b6"/></linearGradient>
<linearGradient id="f65" gradientUnits="userSpaceOnUse" x1="335.1" y1="0" x2="496.2" y2="0"><stop offset="0.0648" stop-color="#facc33"/><stop offset="0.0861" stop-color="#f6ea22"/><stop offset="0.1574" stop-color="#f5ec21"/><stop offset="0.2534" stop-color="#f5bc3c"/><stop offset="0.2934" stop-color="#e0b646"/><stop offset="0.4309" stop-color="#3dae66"/><stop offset="0.5416" stop-color="#0ca481"/><stop offset="0.6157" stop-color="#009d93"/><stop offset="0.8176" stop-color="#0086ae"/><stop offset="1.0000" stop-color="#007ab5"/></linearGradient>
<linearGradient id="f66" gradientUnits="userSpaceOnUse" x1="334.4" y1="0" x2="495.5" y2="0"><stop offset="0.0662" stop-color="#facc33"/><stop offset="0.0886" stop-color="#f6ea22"/><stop offset="0.1613" stop-color="#f5ec21"/><stop offset="0.2585" stop-color="#f5bc3c"/><stop offset="0.2990" stop-color="#e0b646"/><stop offset="0.3820" stop-color="#7db457"/><stop offset="0.4417" stop-color="#3cae66"/><stop offset="0.5543" stop-color="#0ca481"/><stop offset="0.6294" stop-color="#009d93"/><stop offset="0.8340" stop-color="#0087ae"/><stop offset="1.0000" stop-color="#007bb5"/></linearGradient>
<linearGradient id="f67" gradientUnits="userSpaceOnUse" x1="333.7" y1="0" x2="494.8" y2="0"><stop offset="0.0677" stop-color="#facc33"/><stop offset="0.0903" stop-color="#f6ea22"/><stop offset="0.1651" stop-color="#f5ec21"/><stop offset="0.2661" stop-color="#f4bc3c"/><stop offset="0.3073" stop-color="#dfb646"/><stop offset="0.4486" stop-color="#3eae65"/><stop offset="0.5619" stop-color="#0da580"/><stop offset="0.6432" stop-color="#009d93"/><stop offset="0.8503" stop-color="#0087ad"/><stop offset="1.0000" stop-color="#007cb4"/></linearGradient>
<linearGradient id="f68" gradientUnits="userSpaceOnUse" x1="333.0" y1="0" x2="494.1" y2="0"><stop offset="0.0691" stop-color="#facc33"/><stop offset="0.0920" stop-color="#f6ea22"/><stop offset="0.1674" stop-color="#f5ec21"/><stop offset="0.2713" stop-color="#f5bc3c"/><stop offset="0.3130" stop-color="#e0b646"/><stop offset="0.4596" stop-color="#3dae66"/><stop offset="0.5746" stop-color="#0da580"/><stop offset="0.6570" stop-color="#009d93"/><stop offset="0.8668" stop-color="#0087ad"/><stop offset="1.0000" stop-color="#007db4"/></linearGradient>
<linearGradient id="f69" gradientUnits="userSpaceOnUse" x1="332.2" y1="0" x2="493.3" y2="0"><stop offset="0.0706" stop-color="#facc33"/><stop offset="0.0937" stop-color="#f6ea22"/><stop offset="0.1713" stop-color="#f5ec21"/><stop offset="0.2764" stop-color="#f5bc3c"/><stop offset="0.3186" stop-color="#e0b646"/><stop offset="0.4084" stop-color="#7bb457"/><stop offset="0.4706" stop-color="#3cae66"/><stop offset="0.5926" stop-color="#0ca481"/><stop offset="0.6770" stop-color="#009c94"/><stop offset="0.9071" stop-color="#0085af"/><stop offset="1.0000" stop-color="#007eb3"/></linearGradient>
<linearGradient id="f70" gradientUnits="userSpaceOnUse" x1="331.5" y1="0" x2="492.6" y2="0"><stop offset="0.0720" stop-color="#facc33"/><stop offset="0.0963" stop-color="#f6ea22"/><stop offset="0.1767" stop-color="#f5ec21"/><stop offset="0.2816" stop-color="#f5bc3c"/><stop offset="0.3242" stop-color="#e1b646"/><stop offset="0.3969" stop-color="#92b553"/><stop offset="0.4775" stop-color="#3eae65"/><stop offset="0.5950" stop-color="#0ea57f"/><stop offset="0.6850" stop-color="#009d93"/><stop offset="0.9077" stop-color="#0087ae"/><stop offset="1.0000" stop-color="#0080b2"/></linearGradient>
<linearGradient id="f71" gradientUnits="userSpaceOnUse" x1="330.8" y1="0" x2="491.9" y2="0"><stop offset="0.0734" stop-color="#facc33"/><stop offset="0.0980" stop-color="#f6ea22"/><stop offset="0.1790" stop-color="#f5ec21"/><stop offset="0.2868" stop-color="#f5bc3c"/><stop offset="0.3327" stop-color="#dfb646"/><stop offset="0.4844" stop-color="#3faf65"/><stop offset="0.6026" stop-color="#0fa57e"/><stop offset="0.6990" stop-color="#009d93"/><stop offset="0.9244" stop-color="#0087ae"/><stop offset="1.0000" stop-color="#0081b1"/></linearGradient>
<linearGradient id="f72" gradientUnits="userSpaceOnUse" x1="330.1" y1="0" x2="491.2" y2="0"><stop offset="0.0749" stop-color="#facc33"/><stop offset="0.0997" stop-color="#f6ea22"/><stop offset="0.1813" stop-color="#f5ec21"/><stop offset="0.2920" stop-color="#f5bd3c"/><stop offset="0.3384" stop-color="#e0b646"/><stop offset="0.4955" stop-color="#3eaf65"/><stop offset="0.6208" stop-color="#0ea580"/><stop offset="0.7131" stop-color="#009c93"/><stop offset="0.9493" stop-color="#0086ae"/><stop offset="1.0000" stop-color="#0082b0"/></linearGradient>
<linearGradient id="f73" gradientUnits="userSpaceOnUse" x1="329.4" y1="0" x2="490.5" y2="0"><stop offset="0.0763" stop-color="#facc33"/><stop offset="0.1014" stop-color="#f6ea22"/><stop offset="0.1852" stop-color="#f5ec21"/><stop offset="0.2998" stop-color="#f5bc3c"/><stop offset="0.3470" stop-color="#deb646"/><stop offset="0.5067" stop-color="#3dae66"/><stop offset="0.6338" stop-color="#0da580"/><stop offset="0.7273" stop-color="#009c93"/><stop offset="0.9662" stop-color="#0086ae"/><stop offset="1.0000" stop-color="#0084b0"/></linearGradient>
<linearGradient id="f74" gradientUnits="userSpaceOnUse" x1="328.7" y1="0" x2="489.8" y2="0"><stop offset="0.0778" stop-color="#facc33"/><stop offset="0.1040" stop-color="#f6ea22"/><stop offset="0.1907" stop-color="#f5ec21"/><stop offset="0.3050" stop-color="#f5bc3c"/><stop offset="0.3527" stop-color="#dfb646"/><stop offset="0.5136" stop-color="#3faf65"/><stop offset="0.6413" stop-color="#0ea57f"/><stop offset="0.7416" stop-color="#009c93"/><stop offset="0.9831" stop-color="#0086ae"/><stop offset="1.0000" stop-color="#0085af"/></linearGradient>
<linearGradient id="f75" gradientUnits="userSpaceOnUse" x1="328.0" y1="0" x2="489.1" y2="0"><stop offset="0.0792" stop-color="#facc33"/><stop offset="0.1057" stop-color="#f6ea22"/><stop offset="0.1930" stop-color="#f5ec21"/><stop offset="0.3103" stop-color="#f5bc3c"/><stop offset="0.3584" stop-color="#e0b646"/><stop offset="0.5249" stop-color="#3eae65"/><stop offset="0.6544" stop-color="#0ea57f"/><stop offset="0.7495" stop-color="#009d92"/><stop offset="0.9916" stop-color="#0087ad"/><stop offset="1.0000" stop-color="#0086ae"/></linearGradient>
<linearGradient id="f76" gradientUnits="userSpaceOnUse" x1="327.3" y1="0" x2="488.4" y2="0"><stop offset="0.0806" stop-color="#facc33"/><stop offset="0.1074" stop-color="#f6ea22"/><stop offset="0.1969" stop-color="#f5ec21"/><stop offset="0.3155" stop-color="#f5bc3c"/><stop offset="0.3671" stop-color="#deb646"/><stop offset="0.5318" stop-color="#3faf65"/><stop offset="0.6619" stop-color="#0fa57e"/><stop offset="0.7638" stop-color="#009d92"/><stop offset="1.0000" stop-color="#0088ad"/></linearGradient>
<linearGradient id="f77" gradientUnits="userSpaceOnUse" x1="326.6" y1="0" x2="487.7" y2="0"><stop offset="0.0821" stop-color="#facc33"/><stop offset="0.1091" stop-color="#f6ea22"/><stop offset="0.1991" stop-color="#f5ec21"/><stop offset="0.3207" stop-color="#f5bc3c"/><stop offset="0.3728" stop-color="#dfb646"/><stop offset="0.5431" stop-color="#3eaf65"/><stop offset="0.6807" stop-color="#0ea580"/><stop offset="0.7847" stop-color="#009c94"/><stop offset="1.0000" stop-color="#0089ac"/></linearGradient>
<linearGradient id="f78" gradientUnits="userSpaceOnUse" x1="325.9" y1="0" x2="487.0" y2="0"><stop offset="0.0835" stop-color="#facc33"/><stop offset="0.1117" stop-color="#f6ea22"/><stop offset="0.2048" stop-color="#f5ec21"/><stop offset="0.3260" stop-color="#f5bc3c"/><stop offset="0.3785" stop-color="#dfb646"/><stop offset="0.5546" stop-color="#3dae66"/><stop offset="0.6940" stop-color="#0da580"/><stop offset="0.7992" stop-color="#009c94"/><stop offset="1.0000" stop-color="#008aab"/></linearGradient>
<linearGradient id="f79" gradientUnits="userSpaceOnUse" x1="325.2" y1="0" x2="486.3" y2="0"><stop offset="0.0850" stop-color="#facc33"/><stop offset="0.1134" stop-color="#f6ea22"/><stop offset="0.2070" stop-color="#f5ec21"/><stop offset="0.3340" stop-color="#f4bc3c"/><stop offset="0.3842" stop-color="#e0b646"/><stop offset="0.5615" stop-color="#3eaf65"/><stop offset="0.7015" stop-color="#0ea57f"/><stop offset="0.8070" stop-color="#009d93"/><stop offset="1.0000" stop-color="#008ca9"/></linearGradient>
<linearGradient id="f80" gradientUnits="userSpaceOnUse" x1="324.5" y1="0" x2="485.6" y2="0"><stop offset="0.0864" stop-color="#facc33"/><stop offset="0.1151" stop-color="#f6ea22"/><stop offset="0.2110" stop-color="#f5ec21"/><stop offset="0.3392" stop-color="#f5bc3c"/><stop offset="0.3931" stop-color="#deb646"/><stop offset="0.5730" stop-color="#3eae65"/><stop offset="0.7148" stop-color="#0ea57f"/><stop offset="0.8216" stop-color="#009d93"/><stop offset="1.0000" stop-color="#008da8"/></linearGradient>
<linearGradient id="f81" gradientUnits="userSpaceOnUse" x1="323.8" y1="0" x2="484.9" y2="0"><stop offset="0.0878" stop-color="#facc33"/><stop offset="0.1168" stop-color="#f6ea22"/><stop offset="0.2132" stop-color="#f5ec21"/><stop offset="0.3445" stop-color="#f5bc3c"/><stop offset="0.3988" stop-color="#dfb646"/><stop offset="0.5798" stop-color="#3faf65"/><stop offset="0.7223" stop-color="#0fa57f"/><stop offset="0.8361" stop-color="#009d93"/><stop offset="1.0000" stop-color="#008fa7"/></linearGradient>
<linearGradient id="f82" gradientUnits="userSpaceOnUse" x1="323.1" y1="0" x2="484.2" y2="0"><stop offset="0.0893" stop-color="#facc33"/><stop offset="0.1194" stop-color="#f6ea22"/><stop offset="0.2189" stop-color="#f5ec21"/><stop offset="0.3498" stop-color="#f5bc3c"/><stop offset="0.4045" stop-color="#dfb646"/><stop offset="0.5914" stop-color="#3eae65"/><stop offset="0.7416" stop-color="#0da580"/><stop offset="0.8508" stop-color="#009c93"/><stop offset="1.0000" stop-color="#0090a6"/></linearGradient></defs>
<path d="M338.7 330.3L340.1 327.3L341.6 324.6L343.3 322.4L345.1 320.8L347.2 319.7L349.4 319.2L351.3 319.2L353.9 319.8L357.8 321.5L362.1 324.1L382.0 338.4L393.5 345.8L404.7 352.0L416.4 357.5L423.6 360.4L431.3 363.3L439.7 366.0L446.8 368.0L456.4 370.5L464.6 372.4L475.5 374.7L484.9 376.3L483.8 374.9L463.7 371.0L455.6 369.1L446.1 366.6L439.0 364.5L430.7 361.8L423.0 359.0L415.9 356.1L404.2 350.7L393.0 344.5L381.6 337.2L361.6 323.2L357.2 320.7L353.4 319.1L350.8 318.6L348.8 318.6L346.6 319.1L344.5 320.2L342.7 321.9L341.0 324.0L339.4 326.7L338.0 329.7Z" fill="url(#f82)"/>
<path d="M339.2 330.8L340.5 327.7L342.1 325.0L343.7 322.8L345.6 321.2L347.6 320.1L349.4 319.6L351.3 319.6L353.8 320.1L357.6 321.8L361.8 324.3L381.5 338.6L392.7 346.1L403.8 352.4L415.4 357.9L422.5 360.8L430.1 363.7L438.4 366.4L447.3 369.0L456.9 371.5L465.1 373.4L476.1 375.6L485.6 377.3L484.2 375.4L474.9 373.7L464.0 371.5L455.9 369.6L446.4 367.1L439.2 365.0L430.9 362.3L423.2 359.5L416.0 356.5L404.4 351.1L393.2 344.9L381.7 337.6L361.8 323.5L357.4 321.0L353.6 319.3L351.0 318.8L349.0 318.8L346.8 319.3L344.7 320.4L342.9 322.1L341.2 324.2L339.7 326.9L338.2 329.9Z" fill="url(#f81)"/>
<path d="M339.6 331.2L341.0 328.1L342.5 325.4L344.2 323.2L346.0 321.5L347.9 320.5L349.7 320.0L351.7 320.0L354.2 320.6L357.9 322.3L362.2 324.9L381.7 339.4L393.0 347.0L404.2 353.3L415.7 358.8L422.8 361.8L430.5 364.7L438.8 367.4L447.8 370.0L457.4 372.5L465.7 374.4L476.8 376.6L486.3 378.2L484.9 376.3L475.5 374.7L464.6 372.4L456.4 370.5L446.8 368.0L439.7 366.0L431.3 363.3L423.6 360.4L416.4 357.5L404.7 352.0L393.5 345.8L382.0 338.4L362.1 324.1L357.8 321.5L353.9 319.8L351.3 319.2L349.4 319.2L347.2 319.7L345.1 320.8L343.3 322.4L341.6 324.6L340.1 327.3L338.7 330.3Z" fill="url(#f80)"/>
<path d="M340.1 331.6L341.4 328.5L342.9 325.8L344.6 323.6L346.1 322.2L348.0 321.0L349.8 320.5L351.7 320.4L354.1 320.9L357.8 322.5L361.9 325.1L381.2 339.7L392.3 347.2L403.3 353.6L409.4 356.8L416.0 359.8L423.2 362.8L430.9 365.6L439.3 368.4L448.3 371.0L458.0 373.5L466.3 375.3L477.4 377.5L487.0 379.2L485.6 377.3L476.1 375.6L465.1 373.4L456.9 371.5L447.3 369.0L438.4 366.4L430.1 363.7L422.5 360.8L415.4 357.9L403.8 352.4L392.7 346.1L381.5 338.6L361.8 324.3L357.6 321.8L353.8 320.1L351.3 319.6L349.4 319.6L347.6 320.1L345.6 321.2L343.7 322.8L342.1 325.0L340.5 327.7L339.2 330.8Z" fill="url(#f79)"/>
<path d="M340.5 332.0L341.9 328.9L343.4 326.1L345.0 323.9L346.5 322.5L348.4 321.4L350.1 320.9L352.0 320.9L354.5 321.4L358.1 323.1L362.3 325.7L381.5 340.5L392.6 348.2L403.6 354.6L409.7 357.7L416.4 360.8L423.6 363.8L431.3 366.6L439.7 369.4L448.7 372.0L458.5 374.4L466.9 376.3L478.1 378.5L487.7 380.2L486.3 378.2L476.8 376.6L465.7 374.4L457.4 372.5L447.8 370.0L438.8 367.4L430.5 364.7L422.8 361.8L415.7 358.8L404.2 353.3L393.0 347.0L381.7 339.4L362.2 324.9L357.9 322.3L354.2 320.6L351.7 320.0L349.7 320.0L347.9 320.5L346.0 321.5L344.2 323.2L342.5 325.4L341.0 328.1L339.6 331.2Z" fill="url(#f78)"/>
<path d="M341.0 332.4L342.3 329.3L343.8 326.5L345.4 324.3L346.9 322.9L348.8 321.8L350.5 321.3L352.4 321.3L354.8 321.9L358.0 323.3L362.0 325.9L380.9 340.7L391.9 348.4L402.7 354.9L408.8 358.1L415.3 361.2L422.4 364.2L430.1 367.1L438.4 369.8L447.3 372.5L457.0 375.0L467.4 377.3L478.7 379.5L488.4 381.1L487.0 379.2L477.4 377.5L466.3 375.3L458.0 373.5L448.3 371.0L439.3 368.4L430.9 365.6L423.2 362.8L416.0 359.8L409.4 356.8L403.3 353.6L392.3 347.2L381.2 339.7L361.9 325.1L357.8 322.5L354.1 320.9L351.7 320.4L349.8 320.5L348.0 321.0L346.1 322.2L344.6 323.6L342.9 325.8L341.4 328.5L340.1 331.6Z" fill="url(#f77)"/>
<path d="M341.5 332.8L342.8 329.6L344.2 326.9L345.8 324.7L347.3 323.3L349.2 322.2L350.9 321.7L352.8 321.7L354.8 322.2L358.3 323.9L362.4 326.5L381.2 341.6L386.4 345.4L392.1 349.3L397.4 352.6L403.0 355.9L409.1 359.1L415.6 362.2L422.8 365.2L430.5 368.1L438.8 370.8L447.8 373.5L457.5 376.0L468.0 378.3L479.4 380.5L489.1 382.1L487.7 380.2L478.1 378.5L466.9 376.3L458.5 374.4L448.7 372.0L439.7 369.4L431.3 366.6L423.6 363.8L416.4 360.8L409.7 357.7L403.6 354.6L392.6 348.2L381.5 340.5L362.3 325.7L358.1 323.1L354.5 321.4L352.0 320.9L350.1 320.9L348.4 321.4L346.5 322.5L345.0 323.9L343.4 326.1L341.9 328.9L340.5 332.0Z" fill="url(#f76)"/>
<path d="M341.9 333.3L343.2 330.0L344.7 327.3L346.3 325.1L347.7 323.7L349.6 322.6L351.3 322.1L353.1 322.2L355.1 322.7L358.2 324.1L362.1 326.7L381.5 342.4L386.7 346.3L392.4 350.3L397.6 353.6L403.3 356.9L409.4 360.1L416.0 363.2L423.1 366.2L430.8 369.1L439.2 371.9L448.2 374.5L458.0 377.0L468.6 379.3L480.0 381.4L489.8 383.0L488.4 381.1L478.7 379.5L467.4 377.3L457.0 375.0L447.3 372.5L438.4 369.8L430.1 367.1L422.4 364.2L415.3 361.2L408.8 358.1L402.7 354.9L391.9 348.4L380.9 340.7L362.0 325.9L358.0 323.3L354.8 321.9L352.4 321.3L350.5 321.3L348.8 321.8L346.9 322.9L345.4 324.3L343.8 326.5L342.3 329.3L341.0 332.4Z" fill="url(#f75)"/>
<path d="M342.4 333.7L343.7 330.4L344.9 328.1L346.4 325.8L347.8 324.3L349.6 323.1L351.3 322.6L353.1 322.6L355.1 323.0L358.5 324.7L362.5 327.3L380.9 342.6L386.0 346.6L391.7 350.6L397.9 354.6L403.5 357.8L409.7 361.1L416.3 364.2L423.4 367.2L431.2 370.1L439.6 372.9L448.6 375.5L458.5 378.0L469.1 380.3L480.6 382.4L490.5 384.0L489.1 382.1L479.4 380.5L468.0 378.3L457.5 376.0L447.8 373.5L438.8 370.8L430.5 368.1L422.8 365.2L415.6 362.2L409.1 359.1L403.0 355.9L397.4 352.6L392.1 349.3L386.4 345.4L381.2 341.6L362.4 326.5L358.3 323.9L354.8 322.2L352.8 321.7L350.9 321.7L349.2 322.2L347.3 323.3L345.8 324.7L344.2 326.9L342.8 329.6L341.5 332.8Z" fill="url(#f74)"/>
<path d="M342.9 334.1L344.1 330.8L345.3 328.5L346.8 326.2L348.2 324.7L350.0 323.5L351.7 323.0L353.5 323.0L355.4 323.5L358.4 324.9L362.3 327.5L381.2 343.5L386.3 347.5L392.0 351.5L398.2 355.5L403.8 358.8L409.9 362.1L416.6 365.2L423.8 368.2L431.5 371.1L440.0 373.9L449.1 376.5L459.0 379.0L469.7 381.3L481.3 383.4L491.2 385.0L489.8 383.0L480.0 381.4L468.6 379.3L458.0 377.0L448.2 374.5L439.2 371.9L430.8 369.1L423.1 366.2L416.0 363.2L409.4 360.1L403.3 356.9L397.6 353.6L392.4 350.3L386.7 346.3L381.5 342.4L362.1 326.7L358.2 324.1L355.1 322.7L353.1 322.2L351.3 322.1L349.6 322.6L347.7 323.7L346.3 325.1L344.7 327.3L343.2 330.0L341.9 333.3Z" fill="url(#f73)"/>
<path d="M343.3 334.5L344.6 331.2L345.7 328.9L347.2 326.5L348.6 325.1L350.1 324.0L351.7 323.5L353.5 323.4L355.4 323.8L358.7 325.4L362.6 328.2L380.6 343.7L385.7 347.7L391.2 351.8L397.3 355.8L402.9 359.2L409.0 362.5L415.5 365.6L424.1 369.3L431.9 372.2L440.3 374.9L449.5 377.5L459.5 380.0L470.2 382.3L481.9 384.4L491.9 386.0L490.5 384.0L480.6 382.4L469.1 380.3L458.5 378.0L448.6 375.5L439.6 372.9L431.2 370.1L423.4 367.2L416.3 364.2L409.7 361.1L403.5 357.8L397.9 354.6L391.7 350.6L386.0 346.6L380.9 342.6L362.5 327.3L358.5 324.7L355.1 323.0L353.1 322.6L351.3 322.6L349.6 323.1L347.8 324.3L346.4 325.8L344.9 328.1L343.7 330.4L342.4 333.7Z" fill="url(#f72)"/>
<path d="M343.8 334.9L345.0 331.6L346.2 329.2L347.7 326.9L349.0 325.4L350.5 324.4L352.1 323.9L353.8 323.8L355.7 324.3L358.6 325.7L362.4 328.4L380.1 343.9L385.9 348.6L391.5 352.7L397.6 356.8L403.2 360.2L409.2 363.5L415.8 366.7L424.4 370.3L432.2 373.2L440.7 376.0L449.9 378.6L459.9 381.0L470.8 383.3L482.5 385.4L492.6 386.9L491.2 385.0L481.3 383.4L469.7 381.3L459.0 379.0L449.1 376.5L440.0 373.9L431.5 371.1L423.8 368.2L416.6 365.2L409.9 362.1L403.8 358.8L398.2 355.5L392.0 351.5L386.3 347.5L381.2 343.5L362.3 327.5L358.4 324.9L355.4 323.5L353.5 323.0L351.7 323.0L350.0 323.5L348.2 324.7L346.8 326.2L345.3 328.5L344.1 330.8L342.9 334.1Z" fill="url(#f71)"/>
<path d="M344.2 335.3L345.5 332.0L346.6 329.6L348.1 327.3L349.4 325.8L350.9 324.8L352.5 324.3L354.2 324.3L356.1 324.8L359.0 326.2L362.7 329.0L380.3 344.8L386.2 349.6L391.7 353.7L397.8 357.8L403.4 361.2L409.5 364.5L416.1 367.7L424.7 371.4L432.6 374.3L441.1 377.0L450.4 379.6L460.4 382.0L471.3 384.3L483.2 386.4L493.3 387.9L491.9 386.0L481.9 384.4L470.2 382.3L459.5 380.0L449.5 377.5L440.3 374.9L431.9 372.2L424.1 369.3L415.5 365.6L409.0 362.5L402.9 359.2L397.3 355.8L391.2 351.8L385.7 347.7L380.6 343.7L362.6 328.2L358.7 325.4L355.4 323.8L353.5 323.4L351.7 323.5L350.1 324.0L348.6 325.1L347.2 326.5L345.7 328.9L344.6 331.2L343.3 334.5Z" fill="url(#f70)"/>
<path d="M344.7 335.8L345.9 332.4L347.0 330.0L348.3 328.0L349.6 326.4L351.0 325.4L352.5 324.8L354.2 324.7L356.0 325.1L358.9 326.5L362.5 329.2L379.8 345.0L385.5 349.8L391.0 354.0L397.0 358.2L403.7 362.3L409.7 365.6L416.3 368.8L425.0 372.4L432.9 375.3L441.5 378.1L450.8 380.7L460.9 383.1L471.9 385.3L483.8 387.4L494.1 388.9L492.6 386.9L482.5 385.4L470.8 383.3L459.9 381.0L449.9 378.6L440.7 376.0L432.2 373.2L424.4 370.3L415.8 366.7L409.2 363.5L403.2 360.2L397.6 356.8L391.5 352.7L385.9 348.6L380.1 343.9L362.4 328.4L358.6 325.7L355.7 324.3L353.8 323.8L352.1 323.9L350.5 324.4L349.0 325.4L347.7 326.9L346.2 329.2L345.0 331.6L343.8 334.9Z" fill="url(#f69)"/>
<path d="M345.2 336.2L346.4 332.8L347.5 330.4L348.7 328.4L350.0 326.8L351.4 325.7L352.9 325.2L354.6 325.1L356.4 325.6L359.2 327.0L362.8 329.8L380.1 345.9L384.9 350.1L390.3 354.3L396.2 358.5L402.8 362.6L408.7 366.0L415.2 369.2L423.8 372.9L431.6 375.8L440.1 378.6L449.3 381.2L459.3 383.7L470.1 385.9L481.9 388.0L494.8 389.9L493.3 387.9L483.2 386.4L471.3 384.3L460.4 382.0L450.4 379.6L441.1 377.0L432.6 374.3L424.7 371.4L416.1 367.7L409.5 364.5L403.4 361.2L397.8 357.8L391.7 353.7L386.2 349.6L380.3 344.8L362.7 329.0L359.0 326.2L356.1 324.8L354.2 324.3L352.5 324.3L350.9 324.8L349.4 325.8L348.1 327.3L346.6 329.6L345.5 332.0L344.2 335.3Z" fill="url(#f68)"/>
<path d="M345.6 336.6L346.8 333.2L347.9 330.8L349.1 328.7L350.4 327.2L351.8 326.1L353.3 325.6L354.6 325.5L356.4 325.9L359.1 327.3L362.6 330.0L379.5 346.2L385.1 351.1L390.5 355.3L396.4 359.5L403.0 363.7L409.0 367.0L415.5 370.3L424.1 374.0L431.9 376.9L440.4 379.7L449.7 382.3L459.7 384.7L470.6 386.9L482.5 389.0L495.5 390.9L494.1 388.9L483.8 387.4L471.9 385.3L460.9 383.1L450.8 380.7L441.5 378.1L432.9 375.3L425.0 372.4L416.3 368.8L409.7 365.6L403.7 362.3L397.0 358.2L391.0 354.0L385.5 349.8L379.8 345.0L362.5 329.2L358.9 326.5L356.0 325.1L354.2 324.7L352.5 324.8L351.0 325.4L349.6 326.4L348.3 328.0L347.0 330.0L345.9 332.4L344.7 335.8Z" fill="url(#f67)"/>
<path d="M346.1 337.0L347.3 333.6L348.3 331.1L349.5 329.1L350.8 327.6L352.2 326.5L353.7 326.0L355.0 325.9L356.7 326.4L359.4 327.8L362.9 330.6L379.8 347.1L385.4 352.0L390.7 356.3L396.7 360.6L403.2 364.7L409.2 368.1L415.7 371.4L424.3 375.1L432.2 378.0L440.7 380.8L450.0 383.3L460.2 385.8L471.2 388.0L483.1 390.0L496.2 391.9L494.8 389.9L481.9 388.0L470.1 385.9L459.3 383.7L449.3 381.2L440.1 378.6L431.6 375.8L423.8 372.9L415.2 369.2L408.7 366.0L402.8 362.6L396.2 358.5L390.3 354.3L384.9 350.1L380.1 345.9L362.8 329.8L359.2 327.0L356.4 325.6L354.6 325.1L352.9 325.2L351.4 325.7L350.0 326.8L348.7 328.4L347.5 330.4L346.4 332.8L345.2 336.2Z" fill="url(#f66)"/>
<path d="M346.6 337.4L348.6 332.0L349.7 329.9L350.9 328.2L352.3 327.1L353.7 326.4L355.0 326.3L356.7 326.7L359.3 328.1L362.8 330.8L380.0 348.0L385.6 353.0L390.9 357.3L396.9 361.6L403.4 365.8L409.4 369.2L416.0 372.5L424.6 376.2L432.5 379.1L441.1 381.8L450.4 384.4L460.6 386.8L471.7 389.0L483.7 391.1L496.9 392.9L495.5 390.9L482.5 389.0L470.6 386.9L459.7 384.7L449.7 382.3L440.4 379.7L431.9 376.9L424.1 374.0L415.5 370.3L409.0 367.0L403.0 363.7L396.4 359.5L390.5 355.3L385.1 351.1L379.5 346.2L362.6 330.0L359.1 327.3L356.4 325.9L354.6 325.5L353.3 325.6L351.8 326.1L350.4 327.2L349.1 328.7L347.9 330.8L346.8 333.2L345.6 336.6Z" fill="url(#f65)"/>
<path d="M347.0 337.8L349.0 332.4L350.1 330.2L351.3 328.6L352.7 327.4L354.1 326.9L355.4 326.8L357.0 327.2L359.7 328.6L362.6 331.0L379.5 348.2L385.0 353.3L390.2 357.7L396.0 362.0L402.5 366.2L408.4 369.6L414.9 372.9L423.4 376.7L431.1 379.6L441.4 382.9L450.8 385.5L461.0 387.9L472.2 390.1L484.3 392.1L497.6 393.9L496.2 391.9L483.1 390.0L471.2 388.0L460.2 385.8L450.0 383.3L440.7 380.8L432.2 378.0L424.3 375.1L415.7 371.4L409.2 368.1L403.2 364.7L396.7 360.6L390.7 356.3L385.4 352.0L379.8 347.1L362.9 330.6L359.4 327.8L356.7 326.4L355.0 325.9L353.7 326.0L352.2 326.5L350.8 327.6L349.5 329.1L348.3 331.1L347.3 333.6L346.1 337.0Z" fill="url(#f64)"/>
<path d="M347.5 338.2L349.4 332.7L350.5 330.6L351.7 329.0L353.0 327.8L354.2 327.3L355.4 327.2L357.0 327.5L359.6 328.9L362.9 331.6L379.7 349.2L385.2 354.3L390.4 358.7L396.2 363.1L402.7 367.3L408.6 370.8L415.1 374.0L423.6 377.8L431.4 380.7L441.7 384.0L451.2 386.6L461.5 388.9L472.7 391.1L484.9 393.1L498.3 394.9L496.9 392.9L483.7 391.1L471.7 389.0L460.6 386.8L450.4 384.4L441.1 381.8L432.5 379.1L424.6 376.2L416.0 372.5L409.4 369.2L403.4 365.8L396.9 361.6L390.9 357.3L385.6 353.0L380.0 348.0L362.8 330.8L359.3 328.1L356.7 326.7L355.0 326.3L353.7 326.4L352.3 327.1L350.9 328.2L349.7 329.9L348.6 332.0L346.6 337.4Z" fill="url(#f63)"/>
<path d="M347.9 338.7L349.9 333.1L350.9 331.0L352.1 329.3L353.4 328.2L354.6 327.7L355.8 327.6L357.4 328.0L359.9 329.4L362.8 331.8L379.2 349.4L384.6 354.6L389.7 359.0L395.4 363.4L401.8 367.7L408.8 371.9L415.3 375.2L423.8 378.9L431.7 381.9L442.0 385.1L451.5 387.7L461.9 390.0L473.2 392.2L485.5 394.1L499.0 395.9L497.6 393.9L484.3 392.1L472.2 390.1L461.0 387.9L450.8 385.5L441.4 382.9L431.1 379.6L423.4 376.7L414.9 372.9L408.4 369.6L402.5 366.2L396.0 362.0L390.2 357.7L385.0 353.3L379.5 348.2L362.6 331.0L359.7 328.6L357.0 327.2L355.4 326.8L354.1 326.9L352.7 327.4L351.3 328.6L350.1 330.2L349.0 332.4L347.0 337.8Z" fill="url(#f62)"/>
<path d="M348.4 339.1L350.3 333.5L351.4 331.3L352.5 329.7L353.8 328.6L354.9 328.1L356.1 328.0L357.7 328.4L360.2 329.9L363.1 332.5L379.4 350.4L384.8 355.6L389.9 360.1L395.6 364.5L402.0 368.9L409.0 373.0L415.5 376.3L424.1 380.1L431.9 383.0L442.3 386.3L451.9 388.8L462.3 391.1L473.7 393.2L486.1 395.2L499.7 396.9L498.3 394.9L484.9 393.1L472.7 391.1L461.5 388.9L451.2 386.6L441.7 384.0L431.4 380.7L423.6 377.8L415.1 374.0L408.6 370.8L402.7 367.3L396.2 363.1L390.4 358.7L385.2 354.3L379.7 349.2L362.9 331.6L359.6 328.9L357.0 327.5L355.4 327.2L354.2 327.3L353.0 327.8L351.7 329.0L350.5 330.6L349.4 332.7L347.5 338.2Z" fill="url(#f61)"/>
<path d="M348.9 339.5L350.7 333.9L351.8 331.7L352.7 330.4L353.9 329.2L355.0 328.6L356.2 328.4L357.8 328.8L360.2 330.2L363.0 332.7L378.9 350.6L384.1 355.9L389.2 360.4L394.8 364.9L401.0 369.3L408.0 373.5L414.4 376.8L422.8 380.6L430.5 383.6L440.8 386.9L450.2 389.4L462.7 392.2L474.2 394.3L486.7 396.2L500.4 398.0L499.0 395.9L485.5 394.1L473.2 392.2L461.9 390.0L451.5 387.7L442.0 385.1L431.7 381.9L423.8 378.9L415.3 375.2L408.8 371.9L401.8 367.7L395.4 363.4L389.7 359.0L384.6 354.6L379.2 349.4L362.8 331.8L359.9 329.4L357.4 328.0L355.8 327.6L354.6 327.7L353.4 328.2L352.1 329.3L350.9 331.0L349.9 333.1L347.9 338.7Z" fill="url(#f60)"/>
<path d="M349.3 339.9L351.2 334.2L352.2 332.1L353.1 330.7L354.3 329.5L355.4 329.0L356.5 328.9L358.1 329.2L360.5 330.7L363.3 333.3L379.1 351.6L384.3 356.9L389.3 361.5L395.0 366.0L401.2 370.4L408.1 374.6L414.5 378.0L423.0 381.8L430.8 384.7L441.1 388.0L450.6 390.5L463.1 393.3L474.7 395.4L487.3 397.3L501.1 399.0L499.7 396.9L486.1 395.2L473.7 393.2L462.3 391.1L451.9 388.8L442.3 386.3L431.9 383.0L424.1 380.1L415.5 376.3L409.0 373.0L402.0 368.9L395.6 364.5L389.9 360.1L384.8 355.6L379.4 350.4L363.1 332.5L360.2 329.9L357.7 328.4L356.1 328.0L354.9 328.1L353.8 328.6L352.5 329.7L351.4 331.3L350.3 333.5L348.4 339.1Z" fill="url(#f59)"/>
<path d="M349.8 340.3L351.6 334.6L352.6 332.4L353.5 331.1L354.7 329.9L355.8 329.4L356.9 329.3L358.1 329.6L360.5 331.0L363.1 333.5L378.6 351.8L383.7 357.2L389.5 362.6L395.1 367.2L401.3 371.6L408.3 375.8L414.7 379.2L423.2 382.9L431.0 385.9L441.4 389.2L450.9 391.7L463.5 394.4L475.2 396.5L487.9 398.3L501.8 400.0L500.4 398.0L486.7 396.2L474.2 394.3L462.7 392.2L450.2 389.4L440.8 386.9L430.5 383.6L422.8 380.6L414.4 376.8L408.0 373.5L401.0 369.3L394.8 364.9L389.2 360.4L384.1 355.9L378.9 350.6L363.0 332.7L360.2 330.2L357.8 328.8L356.2 328.4L355.0 328.6L353.9 329.2L352.7 330.4L351.8 331.7L350.7 333.9L348.9 339.5Z" fill="url(#f58)"/>
<path d="M350.3 340.7L352.0 335.0L353.0 332.8L354.1 331.2L355.4 330.1L356.7 329.7L357.8 329.8L359.4 330.5L361.5 332.2L364.2 335.0L374.9 348.3L380.9 355.2L386.3 360.7L392.4 366.1L399.3 371.3L407.2 376.3L416.2 381.0L424.9 384.7L432.9 387.6L439.8 389.8L449.2 392.3L457.4 394.2L468.5 396.3L478.1 397.9L491.2 399.7L502.5 401.0L501.1 399.0L487.3 397.3L474.7 395.4L463.1 393.3L450.6 390.5L441.1 388.0L430.8 384.7L423.0 381.8L414.5 378.0L408.1 374.6L401.2 370.4L395.0 366.0L389.3 361.5L384.3 356.9L379.1 351.6L363.3 333.3L360.5 330.7L358.1 329.2L356.5 328.9L355.4 329.0L354.3 329.5L353.1 330.7L352.2 332.1L351.2 334.2L349.3 339.9Z" fill="url(#f57)"/>
<path d="M350.7 341.2L352.5 335.3L353.5 333.2L354.5 331.5L355.7 330.5L356.8 330.2L357.9 330.2L359.4 330.8L361.4 332.4L364.1 335.2L375.1 349.3L380.3 355.5L385.6 361.0L391.6 366.5L398.4 371.8L406.2 376.8L415.0 381.6L423.5 385.3L431.4 388.2L440.0 391.0L449.5 393.5L457.7 395.3L468.9 397.5L478.6 399.0L491.8 400.8L503.2 402.1L501.8 400.0L487.9 398.3L475.2 396.5L463.5 394.4L450.9 391.7L441.4 389.2L431.0 385.9L423.2 382.9L414.7 379.2L408.3 375.8L401.3 371.6L395.1 367.2L389.5 362.6L383.7 357.2L378.6 351.8L363.1 333.5L360.5 331.0L358.1 329.6L356.9 329.3L355.8 329.4L354.7 329.9L353.5 331.1L352.6 332.4L351.6 334.6L349.8 340.3Z" fill="url(#f56)"/>
<path d="M351.2 341.6L352.9 335.7L353.9 333.5L354.9 331.9L356.1 330.9L357.1 330.6L358.3 330.7L359.8 331.3L361.8 333.0L364.4 335.9L374.7 349.5L380.5 356.5L385.8 362.1L391.7 367.7L398.6 373.0L406.3 378.1L415.2 382.8L423.7 386.5L431.6 389.4L440.3 392.1L449.8 394.6L458.1 396.5L469.3 398.6L479.1 400.1L492.4 401.8L504.0 403.1L502.5 401.0L491.2 399.7L478.1 397.9L468.5 396.3L457.4 394.2L449.2 392.3L439.8 389.8L432.9 387.6L424.9 384.7L416.2 381.0L407.2 376.3L399.3 371.3L392.4 366.1L386.3 360.7L380.9 355.2L374.9 348.3L364.2 335.0L361.5 332.2L359.4 330.5L357.8 329.8L356.7 329.7L355.4 330.1L354.1 331.2L353.0 332.8L352.0 335.0L350.3 340.7Z" fill="url(#f55)"/>
<path d="M351.6 342.0L353.3 336.1L354.3 333.9L355.1 332.6L356.3 331.4L357.2 331.0L358.3 331.0L359.8 331.6L361.7 333.2L364.3 336.1L374.3 349.7L380.0 356.8L385.1 362.5L391.0 368.1L397.6 373.5L405.3 378.6L413.9 383.4L422.4 387.2L430.1 390.1L438.7 392.8L448.1 395.3L458.4 397.6L469.7 399.7L479.6 401.2L493.0 402.9L504.7 404.1L503.2 402.1L491.8 400.8L478.6 399.0L468.9 397.5L457.7 395.3L449.5 393.5L440.0 391.0L431.4 388.2L423.5 385.3L415.0 381.6L406.2 376.8L398.4 371.8L391.6 366.5L385.6 361.0L380.3 355.5L375.1 349.3L364.1 335.2L361.4 332.4L359.4 330.8L357.9 330.2L356.8 330.2L355.7 330.5L354.5 331.5L353.5 333.2L352.5 335.3L350.7 341.2Z" fill="url(#f54)"/>
<path d="M352.1 342.4L353.7 336.5L354.7 334.3L355.5 332.9L356.6 331.8L357.6 331.4L358.7 331.5L360.1 332.1L362.0 333.8L364.5 336.8L373.9 350.0L379.5 357.1L384.5 362.8L390.2 368.5L393.8 371.6L397.7 374.7L405.4 379.8L414.1 384.6L422.5 388.4L430.3 391.3L438.9 394.0L448.3 396.5L456.5 398.3L467.7 400.4L480.0 402.3L493.6 404.0L505.4 405.2L504.0 403.1L492.4 401.8L479.1 400.1L469.3 398.6L458.1 396.5L449.8 394.6L440.3 392.1L431.6 389.4L423.7 386.5L415.2 382.8L406.3 378.1L398.6 373.0L391.7 367.7L385.8 362.1L380.5 356.5L374.7 349.5L364.4 335.9L361.8 333.0L359.8 331.3L358.3 330.7L357.1 330.6L356.1 330.9L354.9 331.9L353.9 333.5L352.9 335.7L351.2 341.6Z" fill="url(#f53)"/>
<path d="M352.6 342.8L354.2 336.8L355.1 334.6L355.9 333.3L357.0 332.2L358.0 331.9L359.0 331.9L360.4 332.6L362.3 334.4L364.4 337.0L374.1 351.0L379.6 358.3L384.6 364.0L390.3 369.7L396.8 375.2L404.3 380.4L412.8 385.2L421.1 389.0L428.8 392.0L437.3 394.7L446.6 397.2L456.8 399.5L468.1 401.6L480.5 403.4L494.2 405.1L506.1 406.2L504.7 404.1L493.0 402.9L479.6 401.2L469.7 399.7L458.4 397.6L448.1 395.3L438.7 392.8L430.1 390.1L422.4 387.2L413.9 383.4L405.3 378.6L397.6 373.5L391.0 368.1L385.1 362.5L380.0 356.8L374.3 349.7L364.3 336.1L361.7 333.2L359.8 331.6L358.3 331.0L357.2 331.0L356.3 331.4L355.1 332.6L354.3 333.9L353.3 336.1L351.6 342.0Z" fill="url(#f52)"/>
<path d="M353.0 343.2L354.6 337.2L355.5 335.0L356.3 333.6L357.4 332.6L358.3 332.3L359.4 332.4L360.5 333.0L362.3 334.6L364.3 337.2L373.7 351.2L379.1 358.6L384.0 364.4L389.5 370.2L393.1 373.4L396.9 376.5L404.4 381.7L412.9 386.5L421.2 390.3L428.9 393.2L437.4 395.9L446.8 398.4L457.1 400.7L468.4 402.7L480.9 404.5L494.7 406.1L506.8 407.3L505.4 405.2L493.6 404.0L480.0 402.3L467.7 400.4L456.5 398.3L448.3 396.5L438.9 394.0L430.3 391.3L422.5 388.4L414.1 384.6L405.4 379.8L397.7 374.7L393.8 371.6L390.2 368.5L384.5 362.8L379.5 357.1L373.9 350.0L364.5 336.8L362.0 333.8L360.1 332.1L358.7 331.5L357.6 331.4L356.6 331.8L355.5 332.9L354.7 334.3L353.7 336.5L352.1 342.4Z" fill="url(#f51)"/>
<path d="M353.5 343.7L355.0 337.5L355.9 335.3L356.7 334.0L357.8 333.0L358.7 332.7L359.7 332.8L360.8 333.5L362.6 335.2L364.6 337.8L373.9 352.2L378.6 358.9L383.3 364.8L388.8 370.6L392.2 373.9L396.0 377.0L403.3 382.3L411.7 387.2L419.8 391.0L429.0 394.5L437.6 397.2L447.0 399.6L457.3 401.9L468.8 403.9L481.4 405.6L495.3 407.2L507.5 408.3L506.1 406.2L494.2 405.1L480.5 403.4L468.1 401.6L456.8 399.5L446.6 397.2L437.3 394.7L428.8 392.0L421.1 389.0L412.8 385.2L404.3 380.4L396.8 375.2L390.3 369.7L384.6 364.0L379.6 358.3L374.1 351.0L364.4 337.0L362.3 334.4L360.4 332.6L359.0 331.9L358.0 331.9L357.0 332.2L355.9 333.3L355.1 334.6L354.2 336.8L352.6 342.8Z" fill="url(#f50)"/>
<path d="M354.0 344.1L355.3 338.4L356.2 336.1L356.9 334.7L357.9 333.5L358.8 333.1L359.8 333.2L360.8 333.8L362.6 335.4L364.5 338.0L373.5 352.5L378.7 360.1L383.4 366.0L388.9 371.9L392.3 375.2L396.0 378.4L403.3 383.6L411.7 388.5L419.9 392.3L429.1 395.8L437.7 398.4L447.1 400.9L457.6 403.1L469.1 405.0L481.8 406.8L495.9 408.3L508.2 409.4L506.8 407.3L494.7 406.1L480.9 404.5L468.4 402.7L457.1 400.7L446.8 398.4L437.4 395.9L428.9 393.2L421.2 390.3L412.9 386.5L404.4 381.7L396.9 376.5L393.1 373.4L389.5 370.2L384.0 364.4L379.1 358.6L373.7 351.2L364.3 337.2L362.3 334.6L360.5 333.0L359.4 332.4L358.3 332.3L357.4 332.6L356.3 333.6L355.5 335.0L354.6 337.2L353.0 343.2Z" fill="url(#f49)"/>
<path d="M354.4 344.5L355.7 338.8L356.6 336.4L357.3 335.0L358.3 333.9L359.2 333.5L360.1 333.7L361.2 334.3L362.9 336.0L364.8 338.7L373.2 352.7L378.2 360.4L382.8 366.5L388.1 372.4L391.5 375.7L395.1 378.9L402.3 384.3L410.5 389.2L418.5 393.0L427.6 396.5L436.0 399.2L445.3 401.6L455.6 403.8L467.0 405.8L479.6 407.6L493.5 409.1L508.9 410.4L507.5 408.3L495.3 407.2L481.4 405.6L468.8 403.9L457.3 401.9L447.0 399.6L437.6 397.2L429.0 394.5L419.8 391.0L411.7 387.2L403.3 382.3L396.0 377.0L392.2 373.9L388.8 370.6L383.3 364.8L378.6 358.9L373.9 352.2L364.6 337.8L362.6 335.2L360.8 333.5L359.7 332.8L358.7 332.7L357.8 333.0L356.7 334.0L355.9 335.3L355.0 337.5L353.5 343.7Z" fill="url(#f48)"/>
<path d="M354.9 344.9L356.2 339.2L357.0 336.8L357.7 335.4L358.5 334.4L359.3 334.0L360.2 334.0L361.2 334.6L362.9 336.3L364.7 338.9L373.4 353.8L378.3 361.6L382.9 367.8L388.2 373.8L391.5 377.1L395.2 380.3L402.3 385.6L406.8 388.5L410.5 390.5L418.5 394.4L427.6 397.9L436.1 400.5L445.4 402.9L455.8 405.1L467.3 407.0L480.0 408.7L494.0 410.2L509.6 411.5L508.2 409.4L495.9 408.3L481.8 406.8L469.1 405.0L457.6 403.1L447.1 400.9L437.7 398.4L429.1 395.8L419.9 392.3L411.7 388.5L403.3 383.6L396.0 378.4L392.3 375.2L388.9 371.9L383.4 366.0L378.7 360.1L373.5 352.5L364.5 338.0L362.6 335.4L360.8 333.8L359.8 333.2L358.8 333.1L357.9 333.5L356.9 334.7L356.2 336.1L355.3 338.4L354.0 344.1Z" fill="url(#f47)"/>
<path d="M355.3 345.3L356.6 339.5L357.4 337.1L358.1 335.7L358.8 334.8L359.7 334.4L360.6 334.5L361.5 335.1L363.2 336.9L365.0 339.7L373.0 354.1L377.8 362.0L382.3 368.2L387.4 374.3L390.7 377.7L394.2 380.9L401.2 386.3L405.7 389.2L409.2 391.3L417.1 395.1L426.1 398.6L434.4 401.3L445.6 404.2L456.0 406.3L467.6 408.2L480.4 409.9L494.6 411.3L510.3 412.6L508.9 410.4L493.5 409.1L479.6 407.6L467.0 405.8L455.6 403.8L445.3 401.6L436.0 399.2L427.6 396.5L418.5 393.0L410.5 389.2L402.3 384.3L395.1 378.9L391.5 375.7L388.1 372.4L382.8 366.5L378.2 360.4L373.2 352.7L364.8 338.7L362.9 336.0L361.2 334.3L360.1 333.7L359.2 333.5L358.3 333.9L357.3 335.0L356.6 336.4L355.7 338.8L354.4 344.5Z" fill="url(#f46)"/>
<path d="M355.8 345.7L357.0 339.9L358.3 336.4L359.0 335.4L359.8 334.8L360.7 334.9L361.6 335.4L363.2 337.1L364.9 339.9L372.7 354.4L377.4 362.4L382.3 369.6L387.4 375.7L390.7 379.1L394.2 382.3L401.2 387.7L405.6 390.6L409.2 392.7L417.1 396.5L426.1 400.0L434.4 402.6L445.6 405.5L456.2 407.5L467.8 409.4L480.7 411.0L495.1 412.5L511.0 413.6L509.6 411.5L494.0 410.2L480.0 408.7L467.3 407.0L455.8 405.1L445.4 402.9L436.1 400.5L427.6 397.9L418.5 394.4L410.5 390.5L406.8 388.5L402.3 385.6L395.2 380.3L391.5 377.1L388.2 373.8L382.9 367.8L378.3 361.6L373.4 353.8L364.7 338.9L362.9 336.3L361.2 334.6L360.2 334.0L359.3 334.0L358.5 334.4L357.7 335.4L357.0 336.8L356.2 339.2L354.9 344.9Z" fill="url(#f45)"/>
<path d="M356.3 346.2L357.4 340.2L358.7 336.7L359.4 335.7L360.2 335.3L361.0 335.3L361.9 335.9L363.2 337.3L364.9 340.1L372.8 355.6L376.9 362.8L381.7 370.1L386.7 376.3L389.8 379.7L393.3 383.0L400.1 388.5L404.4 391.4L407.9 393.4L415.7 397.3L424.5 400.8L432.7 403.5L443.7 406.3L454.1 408.4L468.0 410.6L481.1 412.2L495.6 413.6L511.7 414.7L510.3 412.6L494.6 411.3L480.4 409.9L467.6 408.2L456.0 406.3L445.6 404.2L434.4 401.3L426.1 398.6L417.1 395.1L409.2 391.3L405.7 389.2L401.2 386.3L394.2 380.9L390.7 377.7L387.4 374.3L382.3 368.2L377.8 362.0L373.0 354.1L365.0 339.7L363.2 336.9L361.5 335.1L360.6 334.5L359.7 334.4L358.8 334.8L358.1 335.7L357.4 337.1L356.6 339.5L355.3 345.3Z" fill="url(#f44)"/>
<path d="M356.7 346.6L357.9 340.6L359.1 337.1L359.8 336.1L360.5 335.7L361.1 335.7L362.0 336.2L363.5 338.0L365.1 340.8L372.5 355.9L377.0 364.1L381.8 371.5L386.7 377.7L389.8 381.2L393.3 384.5L397.0 387.7L400.0 390.0L404.4 392.9L407.9 394.9L415.6 398.8L424.4 402.2L432.6 404.8L443.8 407.6L454.2 409.7L468.3 411.8L481.4 413.4L496.1 414.7L512.4 415.8L511.0 413.6L495.1 412.5L480.7 411.0L467.8 409.4L456.2 407.5L445.6 405.5L434.4 402.6L426.1 400.0L417.1 396.5L409.2 392.7L405.6 390.6L401.2 387.7L394.2 382.3L390.7 379.1L387.4 375.7L382.3 369.6L377.4 362.4L372.7 354.4L364.9 339.9L363.2 337.1L361.6 335.4L360.7 334.9L359.8 334.8L359.0 335.4L358.3 336.4L357.0 339.9L355.8 345.7Z" fill="url(#f43)"/>
<path d="M357.2 347.0L358.3 340.9L359.5 337.4L360.2 336.5L360.9 336.1L361.5 336.1L362.3 336.7L363.5 338.2L365.1 341.0L372.2 356.2L376.5 364.5L381.1 372.0L385.9 378.4L389.0 381.9L392.3 385.2L396.0 388.4L398.9 390.7L403.2 393.7L406.6 395.7L414.2 399.6L422.8 403.1L432.6 406.2L443.8 409.0L454.3 411.0L468.5 413.1L481.8 414.6L496.6 415.8L513.1 416.9L511.7 414.7L495.6 413.6L481.1 412.2L468.0 410.6L454.1 408.4L443.7 406.3L432.7 403.5L424.5 400.8L415.7 397.3L407.9 393.4L404.4 391.4L400.1 388.5L393.3 383.0L389.8 379.7L386.7 376.3L381.7 370.1L376.9 362.8L372.8 355.6L364.9 340.1L363.2 337.3L361.9 335.9L361.0 335.3L360.2 335.3L359.4 335.7L358.7 336.7L357.4 340.2L356.3 346.2Z" fill="url(#f42)"/>
<path d="M357.7 347.4L358.6 341.9L359.7 338.1L360.4 337.0L361.1 336.5L361.6 336.5L362.4 337.0L363.6 338.4L365.1 341.2L372.3 357.4L376.6 365.9L381.2 373.5L385.9 379.9L388.9 383.4L392.2 386.8L395.9 390.0L398.8 392.3L403.0 395.2L406.5 397.3L414.0 401.1L422.7 404.6L432.5 407.6L443.7 410.3L454.3 412.3L468.6 414.3L482.1 415.8L497.1 417.0L513.9 418.0L512.4 415.8L496.1 414.7L481.4 413.4L468.3 411.8L454.2 409.7L443.8 407.6L432.6 404.8L424.4 402.2L415.6 398.8L407.9 394.9L404.4 392.9L400.0 390.0L397.0 387.7L393.3 384.5L389.8 381.2L386.7 377.7L381.8 371.5L377.0 364.1L372.5 355.9L365.1 340.8L363.5 338.0L362.0 336.2L361.1 335.7L360.5 335.7L359.8 336.1L359.1 337.1L357.9 340.6L356.7 346.6Z" fill="url(#f41)"/>
<path d="M357.9 347.6L358.8 342.0L359.9 338.3L360.5 337.2L361.2 336.7L361.8 336.7L362.6 337.3L363.7 338.8L365.2 341.6L371.9 357.2L376.1 365.7L380.5 373.4L385.1 379.8L388.1 383.4L391.3 386.8L394.9 390.0L397.7 392.3L401.9 395.3L405.2 397.4L410.0 400.0L414.0 401.9L422.6 405.3L432.5 408.3L443.7 411.0L454.3 412.9L468.7 414.9L482.2 416.4L497.3 417.5L514.2 418.5L513.1 416.9L496.6 415.8L481.8 414.6L468.5 413.1L454.3 411.0L443.8 409.0L432.6 406.2L422.8 403.1L414.2 399.6L406.6 395.7L403.2 393.7L398.9 390.7L396.0 388.4L392.3 385.2L389.0 381.9L385.9 378.4L381.1 372.0L376.5 364.5L372.2 356.2L365.1 341.0L363.5 338.2L362.3 336.7L361.5 336.1L360.9 336.1L360.2 336.5L359.5 337.4L358.3 340.9L357.2 347.0Z" fill="url(#f40)"/>
<path d="M358.1 347.8L359.0 342.2L360.1 338.4L360.7 337.4L361.4 336.9L362.0 337.0L362.7 337.5L363.8 339.1L365.3 342.0L372.0 357.8L376.1 366.4L380.5 374.1L385.1 380.6L388.1 384.2L391.3 387.6L394.8 390.8L397.7 393.1L401.8 396.1L405.1 398.2L412.5 402.0L421.0 405.5L430.7 408.6L441.7 411.3L452.1 413.2L466.2 415.3L479.5 416.7L497.6 418.1L514.6 419.1L513.9 418.0L497.1 417.0L482.1 415.8L468.6 414.3L454.3 412.3L443.7 410.3L432.5 407.6L422.7 404.6L414.0 401.1L406.5 397.3L403.0 395.2L398.8 392.3L395.9 390.0L392.2 386.8L388.9 383.4L385.9 379.9L381.2 373.5L376.6 365.9L372.3 357.4L365.1 341.2L363.6 338.4L362.4 337.0L361.6 336.5L361.1 336.5L360.4 337.0L359.7 338.1L358.6 341.9L357.7 347.4Z" fill="url(#f39)"/>
<path d="M358.3 348.0L359.2 342.4L360.3 338.6L360.9 337.6L361.4 337.2L361.9 337.1L362.7 337.6L363.8 339.0L365.2 341.8L371.6 357.5L375.6 366.2L379.9 374.0L384.4 380.5L387.3 384.1L390.4 387.6L393.8 390.8L396.6 393.2L400.7 396.2L403.9 398.3L408.6 400.9L412.4 402.8L420.9 406.3L430.6 409.3L441.7 412.0L452.1 413.9L466.3 415.9L479.6 417.3L497.8 418.7L514.9 419.6L514.2 418.5L497.3 417.5L482.2 416.4L468.7 414.9L454.3 412.9L443.7 411.0L432.5 408.3L422.6 405.3L414.0 401.9L410.0 400.0L405.2 397.4L401.9 395.3L397.7 392.3L394.9 390.0L391.3 386.8L388.1 383.4L385.1 379.8L380.5 373.4L376.1 365.7L371.9 357.2L365.2 341.6L363.7 338.8L362.6 337.3L361.8 336.7L361.2 336.7L360.5 337.2L359.9 338.3L358.8 342.0L357.9 347.6Z" fill="url(#f38)"/>
<path d="M358.6 348.2L359.5 342.5L360.5 338.8L361.1 337.8L361.6 337.4L362.1 337.4L362.9 337.9L363.9 339.3L365.3 342.2L371.7 358.2L375.7 366.9L379.9 374.8L384.4 381.4L387.2 385.0L390.3 388.4L393.8 391.7L396.6 394.0L400.6 397.0L403.8 399.1L408.5 401.7L412.3 403.6L420.8 407.0L430.5 410.0L441.6 412.7L452.1 414.6L466.3 416.5L479.8 417.9L498.0 419.3L515.3 420.2L514.6 419.1L497.6 418.1L479.5 416.7L466.2 415.3L452.1 413.2L441.7 411.3L430.7 408.6L421.0 405.5L412.5 402.0L405.1 398.2L401.8 396.1L397.7 393.1L394.8 390.8L391.3 387.6L388.1 384.2L385.1 380.6L380.5 374.1L376.1 366.4L372.0 357.8L365.3 342.0L363.8 339.1L362.7 337.5L362.0 337.0L361.4 336.9L360.7 337.4L360.1 338.4L359.0 342.2L358.1 347.8Z" fill="url(#f37)"/>
<path d="M358.8 348.4L359.7 342.7L360.7 339.0L361.3 337.9L361.8 337.6L362.3 337.6L363.0 338.1L364.0 339.6L365.4 342.6L371.8 358.8L375.7 367.7L379.9 375.6L384.3 382.2L387.2 385.8L390.3 389.3L393.7 392.5L396.5 394.9L400.5 397.8L403.7 399.9L408.4 402.6L412.2 404.4L420.7 407.8L430.4 410.8L441.5 413.4L452.1 415.2L466.4 417.2L479.9 418.5L498.3 419.9L515.6 420.7L514.9 419.6L497.8 418.7L479.6 417.3L466.3 415.9L452.1 413.9L441.7 412.0L430.6 409.3L420.9 406.3L412.4 402.8L408.6 400.9L403.9 398.3L400.7 396.2L396.6 393.2L393.8 390.8L390.4 387.6L387.3 384.1L384.4 380.5L379.9 374.0L375.6 366.2L371.6 357.5L365.2 341.8L363.8 339.0L362.7 337.6L361.9 337.1L361.4 337.2L360.9 337.6L360.3 338.6L359.2 342.4L358.3 348.0Z" fill="url(#f36)"/>
<path d="M359.0 348.7L359.9 342.9L360.9 339.1L361.5 338.1L361.9 337.8L362.4 337.8L363.2 338.4L364.2 340.0L365.3 342.4L371.4 358.6L375.2 367.5L379.3 375.4L383.6 382.1L386.4 385.8L389.4 389.3L392.7 392.6L395.4 395.0L399.3 397.9L402.5 400.1L407.1 402.7L410.8 404.6L419.1 408.0L428.6 411.0L439.5 413.7L452.0 415.9L466.4 417.8L480.0 419.1L498.5 420.4L516.0 421.3L515.3 420.2L498.0 419.3L479.8 417.9L466.3 416.5L452.1 414.6L441.6 412.7L430.5 410.0L420.8 407.0L412.3 403.6L408.5 401.7L403.8 399.1L400.6 397.0L396.6 394.0L393.8 391.7L390.3 388.4L387.2 385.0L384.4 381.4L379.9 374.8L375.7 366.9L371.7 358.2L365.3 342.2L363.9 339.3L362.9 337.9L362.1 337.4L361.6 337.4L361.1 337.8L360.5 338.8L359.5 342.5L358.6 348.2Z" fill="url(#f35)"/>
<path d="M359.3 348.9L360.1 343.1L361.0 339.6L361.5 338.5L362.0 338.1L362.4 338.0L363.1 338.4L364.1 339.9L365.4 342.8L371.5 359.3L375.2 368.3L379.3 376.3L383.5 383.0L386.3 386.7L389.3 390.1L392.6 393.5L395.3 395.8L399.2 398.8L402.4 400.9L407.0 403.6L410.7 405.4L419.0 408.8L428.5 411.8L439.4 414.4L452.0 416.6L466.4 418.5L480.1 419.8L498.7 421.0L516.3 421.8L515.6 420.7L498.3 419.9L479.9 418.5L466.4 417.2L452.1 415.2L441.5 413.4L430.4 410.8L420.7 407.8L412.2 404.4L408.4 402.6L403.7 399.9L400.5 397.8L396.5 394.9L393.7 392.5L390.3 389.3L387.2 385.8L384.3 382.2L379.9 375.6L375.7 367.7L371.8 358.8L365.4 342.6L364.0 339.6L363.0 338.1L362.3 337.6L361.8 337.6L361.3 337.9L360.7 339.0L359.7 342.7L358.8 348.4Z" fill="url(#f34)"/>
<path d="M359.5 349.1L360.3 343.2L361.1 339.8L361.7 338.7L362.1 338.2L362.6 338.2L363.3 338.7L364.3 340.2L365.3 342.6L371.5 360.0L375.2 369.1L379.3 377.1L383.5 383.9L386.2 387.5L389.2 391.0L392.5 394.3L395.2 396.7L399.1 399.7L402.3 401.8L406.8 404.4L410.6 406.2L418.8 409.6L428.4 412.6L439.3 415.1L449.7 417.0L463.9 418.8L480.2 420.4L498.9 421.6L516.7 422.4L516.0 421.3L498.5 420.4L480.0 419.1L466.4 417.8L452.0 415.9L439.5 413.7L428.6 411.0L419.1 408.0L410.8 404.6L407.1 402.7L402.5 400.1L399.3 397.9L395.4 395.0L392.7 392.6L389.4 389.3L386.4 385.8L383.6 382.1L379.3 375.4L375.2 367.5L371.4 358.6L365.3 342.4L364.2 340.0L363.2 338.4L362.4 337.8L361.9 337.8L361.5 338.1L360.9 339.1L359.9 342.9L359.0 348.7Z" fill="url(#f33)"/>
<path d="M359.7 349.3L360.5 343.4L361.3 340.0L361.9 338.8L362.3 338.4L362.8 338.4L363.5 339.0L364.4 340.5L365.5 343.1L371.2 359.7L374.8 368.9L378.7 377.0L381.0 381.0L383.4 384.8L386.2 388.5L389.1 391.9L392.4 395.2L395.1 397.6L399.0 400.5L402.1 402.6L406.7 405.2L410.4 407.1L418.7 410.4L428.2 413.3L439.2 415.8L449.6 417.7L463.8 419.5L480.2 421.0L499.1 422.2L517.0 422.9L516.3 421.8L498.7 421.0L480.1 419.8L466.4 418.5L452.0 416.6L439.4 414.4L428.5 411.8L419.0 408.8L410.7 405.4L407.0 403.6L402.4 400.9L399.2 398.8L395.3 395.8L392.6 393.5L389.3 390.1L386.3 386.7L383.5 383.0L379.3 376.3L375.2 368.3L371.5 359.3L365.4 342.8L364.1 339.9L363.1 338.4L362.4 338.0L362.0 338.1L361.5 338.5L361.0 339.6L360.1 343.1L359.3 348.9Z" fill="url(#f32)"/>
<path d="M360.0 349.5L360.7 343.6L361.5 340.1L362.1 339.0L362.5 338.6L362.9 338.6L363.4 339.0L364.3 340.5L365.6 343.5L371.2 360.4L374.8 369.7L378.7 377.9L382.7 384.8L385.4 388.5L388.3 392.0L391.5 395.3L394.1 397.7L397.8 400.7L400.9 402.8L405.4 405.5L409.0 407.3L417.1 410.7L426.4 413.7L437.1 416.2L449.5 418.4L463.8 420.2L480.3 421.6L499.3 422.8L517.4 423.5L516.7 422.4L498.9 421.6L480.2 420.4L463.9 418.8L449.7 417.0L439.3 415.1L428.4 412.6L418.8 409.6L410.6 406.2L406.8 404.4L402.3 401.8L399.1 399.7L395.2 396.7L392.5 394.3L389.2 391.0L386.2 387.5L383.5 383.9L379.3 377.1L375.2 369.1L371.5 360.0L365.3 342.6L364.3 340.2L363.3 338.7L362.6 338.2L362.1 338.2L361.7 338.7L361.1 339.8L360.3 343.2L359.5 349.1Z" fill="url(#f31)"/>
<path d="M360.2 349.7L360.9 343.7L361.7 340.3L362.2 339.2L362.7 338.8L363.1 338.9L363.6 339.3L364.5 340.8L365.5 343.3L370.9 360.2L374.4 369.5L378.1 377.8L380.3 381.8L382.7 385.7L385.3 389.4L388.2 392.9L391.3 396.3L393.9 398.7L397.7 401.6L400.7 403.7L405.2 406.4L408.8 408.2L416.9 411.5L426.2 414.4L437.0 416.9L449.4 419.1L463.8 420.8L480.4 422.3L499.5 423.4L517.7 424.0L517.0 422.9L499.1 422.2L480.2 421.0L463.8 419.5L449.6 417.7L439.2 415.8L428.2 413.3L418.7 410.4L410.4 407.1L406.7 405.2L402.1 402.6L399.0 400.5L395.1 397.6L392.4 395.2L389.1 391.9L386.2 388.5L383.4 384.8L381.0 381.0L378.7 377.0L374.8 368.9L371.2 359.7L365.5 343.1L364.4 340.5L363.5 339.0L362.8 338.4L362.3 338.4L361.9 338.8L361.3 340.0L360.5 343.4L359.7 349.3Z" fill="url(#f30)"/>
<path d="M360.4 349.9L361.2 343.9L361.9 340.4L362.4 339.4L362.8 339.0L363.3 339.1L363.8 339.5L364.6 341.1L365.6 343.7L371.0 360.9L374.4 370.4L378.1 378.7L380.2 382.8L382.6 386.7L385.2 390.4L388.0 393.9L391.2 397.2L393.8 399.6L397.5 402.6L400.6 404.6L405.0 407.2L408.6 409.1L416.7 412.4L426.0 415.2L436.8 417.7L449.3 419.8L463.7 421.5L480.4 422.9L499.7 424.0L518.1 424.6L517.4 423.5L499.3 422.8L480.3 421.6L463.8 420.2L449.5 418.4L437.1 416.2L426.4 413.7L417.1 410.7L409.0 407.3L405.4 405.5L400.9 402.8L397.8 400.7L394.1 397.7L391.5 395.3L388.3 392.0L385.4 388.5L382.7 384.8L378.7 377.9L374.8 369.7L371.2 360.4L365.6 343.5L364.3 340.5L363.4 339.0L362.9 338.6L362.5 338.6L362.1 339.0L361.5 340.1L360.7 343.6L360.0 349.5Z" fill="url(#f29)"/>
<path d="M360.7 350.1L361.3 344.7L362.0 341.0L362.5 339.8L362.9 339.3L363.3 339.3L363.7 339.6L364.6 341.1L365.5 343.5L371.0 361.7L374.4 371.3L378.0 379.7L380.1 383.7L382.5 387.6L385.1 391.4L387.9 394.9L391.1 398.2L393.6 400.5L397.3 403.5L400.4 405.6L404.8 408.1L408.4 409.9L416.5 413.2L425.8 416.0L436.6 418.5L449.2 420.5L463.7 422.2L480.5 423.5L499.9 424.6L518.5 425.2L517.7 424.0L499.5 423.4L480.4 422.3L463.8 420.8L449.4 419.1L437.0 416.9L426.2 414.4L416.9 411.5L408.8 408.2L405.2 406.4L400.7 403.7L397.7 401.6L393.9 398.7L391.3 396.3L388.2 392.9L385.3 389.4L382.7 385.7L380.3 381.8L378.1 377.8L374.4 369.5L370.9 360.2L365.5 343.3L364.5 340.8L363.6 339.3L363.1 338.9L362.7 338.8L362.2 339.2L361.7 340.3L360.9 343.7L360.2 349.7Z" fill="url(#f28)"/>
<path d="M360.9 350.3L361.5 344.9L362.2 341.1L362.7 339.9L363.1 339.5L363.5 339.5L363.9 339.9L364.7 341.4L365.6 344.0L370.7 361.5L373.9 371.1L377.5 379.6L379.5 383.7L381.8 387.7L384.3 391.4L387.1 395.0L390.1 398.4L392.6 400.7L396.2 403.7L399.2 405.8L403.5 408.4L407.0 410.3L414.8 413.6L424.0 416.4L434.5 418.9L446.8 420.9L461.0 422.6L477.5 424.0L496.6 425.0L518.8 425.7L518.1 424.6L499.7 424.0L480.4 422.9L463.7 421.5L449.3 419.8L436.8 417.7L426.0 415.2L416.7 412.4L408.6 409.1L405.0 407.2L400.6 404.6L397.5 402.6L393.8 399.6L391.2 397.2L388.0 393.9L385.2 390.4L382.6 386.7L380.2 382.8L378.1 378.7L374.4 370.4L371.0 360.9L365.6 343.7L364.6 341.1L363.8 339.5L363.3 339.1L362.8 339.0L362.4 339.4L361.9 340.4L361.2 343.9L360.4 349.9Z" fill="url(#f27)"/>
<path d="M361.1 350.5L361.7 345.0L362.4 341.3L362.9 340.1L363.2 339.7L363.6 339.7L364.1 340.1L364.9 341.8L365.8 344.4L370.7 362.3L373.9 372.1L377.4 380.6L379.5 384.8L381.7 388.7L384.2 392.5L386.9 396.0L389.9 399.4L392.4 401.7L396.0 404.7L399.0 406.8L403.2 409.4L406.8 411.2L414.6 414.4L423.7 417.2L434.3 419.6L446.6 421.7L460.9 423.3L477.5 424.6L496.8 425.6L519.2 426.3L518.5 425.2L499.9 424.6L480.5 423.5L463.7 422.2L449.2 420.5L436.6 418.5L425.8 416.0L416.5 413.2L408.4 409.9L404.8 408.1L400.4 405.6L397.3 403.5L393.6 400.5L391.1 398.2L387.9 394.9L385.1 391.4L382.5 387.6L380.1 383.7L378.0 379.7L374.4 371.3L371.0 361.7L365.5 343.5L364.6 341.1L363.7 339.6L363.3 339.3L362.9 339.3L362.5 339.8L362.0 341.0L361.3 344.7L360.7 350.1Z" fill="url(#f26)"/>
<path d="M361.4 350.7L361.9 345.2L362.6 341.4L363.3 340.0L363.7 339.9L364.1 340.2L364.8 341.7L365.7 344.2L370.5 362.1L373.5 371.9L376.9 380.6L378.8 384.8L381.0 388.8L383.4 392.6L386.1 396.2L389.0 399.6L392.2 402.8L395.8 405.7L398.7 407.8L403.0 410.3L406.5 412.1L414.4 415.3L423.5 418.1L434.1 420.4L446.4 422.4L460.8 424.0L477.5 425.3L496.9 426.2L519.5 426.9L518.8 425.7L496.6 425.0L477.5 424.0L461.0 422.6L446.8 420.9L434.5 418.9L424.0 416.4L414.8 413.6L407.0 410.3L403.5 408.4L399.2 405.8L396.2 403.7L392.6 400.7L390.1 398.4L387.1 395.0L384.3 391.4L381.8 387.7L379.5 383.7L377.5 379.6L373.9 371.1L370.7 361.5L365.6 344.0L364.7 341.4L363.9 339.9L363.5 339.5L363.1 339.5L362.7 339.9L362.2 341.1L361.5 344.9L360.9 350.3Z" fill="url(#f25)"/>
<path d="M361.6 350.9L362.1 345.3L362.8 341.6L363.5 340.2L363.8 340.1L364.2 340.5L365.0 342.0L365.8 344.7L370.5 362.9L373.5 372.9L376.8 381.7L378.8 385.8L380.9 389.9L383.3 393.7L385.9 397.3L388.8 400.6L391.2 403.0L394.7 406.0L397.5 408.1L401.7 410.7L405.1 412.5L410.0 414.7L414.1 416.2L423.2 418.9L433.8 421.2L446.2 423.2L460.7 424.7L477.5 425.9L497.1 426.8L519.9 427.4L519.2 426.3L496.8 425.6L477.5 424.6L460.9 423.3L446.6 421.7L434.3 419.6L423.7 417.2L414.6 414.4L406.8 411.2L403.2 409.4L399.0 406.8L396.0 404.7L392.4 401.7L389.9 399.4L386.9 396.0L384.2 392.5L381.7 388.7L379.5 384.8L377.4 380.6L373.9 372.1L370.7 362.3L365.8 344.4L364.9 341.8L364.1 340.1L363.6 339.7L363.2 339.7L362.9 340.1L362.4 341.3L361.7 345.0L361.1 350.5Z" fill="url(#f24)"/>
<path d="M361.8 351.2L362.3 345.5L363.0 341.8L363.6 340.4L364.0 340.3L364.4 340.7L365.1 342.4L365.9 345.2L370.2 362.7L373.1 372.8L376.3 381.7L378.2 385.9L380.2 390.0L382.5 393.8L385.0 397.5L387.9 400.9L391.0 404.1L394.4 407.0L397.3 409.1L401.4 411.7L404.8 413.4L409.7 415.6L413.8 417.1L422.9 419.8L433.6 422.0L446.0 423.9L460.5 425.4L477.4 426.6L497.2 427.4L520.2 428.0L519.5 426.9L496.9 426.2L477.5 425.3L460.8 424.0L446.4 422.4L434.1 420.4L423.5 418.1L414.4 415.3L406.5 412.1L403.0 410.3L398.7 407.8L395.8 405.7L392.2 402.8L389.0 399.6L386.1 396.2L383.4 392.6L381.0 388.8L378.8 384.8L376.9 380.6L373.5 371.9L370.5 362.1L365.7 344.2L364.8 341.7L364.1 340.2L363.7 339.9L363.3 340.0L362.6 341.4L361.9 345.2L361.4 350.7Z" fill="url(#f23)"/>
<path d="M362.0 351.4L362.6 345.7L363.1 342.3L363.7 340.6L364.0 340.5L364.4 340.8L365.1 342.3L365.9 345.0L370.2 363.6L373.1 373.9L376.2 382.8L378.1 387.0L380.1 391.1L382.4 395.0L384.9 398.6L387.7 402.0L390.7 405.2L394.2 408.1L397.0 410.1L401.1 412.7L404.5 414.4L409.4 416.6L413.5 418.0L422.6 420.7L433.3 422.9L445.7 424.7L460.3 426.1L477.4 427.3L497.3 428.1L520.6 428.5L519.9 427.4L497.1 426.8L477.5 425.9L460.7 424.7L446.2 423.2L433.8 421.2L423.2 418.9L414.1 416.2L410.0 414.7L405.1 412.5L401.7 410.7L397.5 408.1L394.7 406.0L391.2 403.0L388.8 400.6L385.9 397.3L383.3 393.7L380.9 389.9L378.8 385.8L376.8 381.7L373.5 372.9L370.5 362.9L365.8 344.7L365.0 342.0L364.2 340.5L363.8 340.1L363.5 340.2L362.8 341.6L362.1 345.3L361.6 350.9Z" fill="url(#f22)"/>
<path d="M362.3 351.6L362.8 345.8L363.3 342.4L363.9 340.8L364.2 340.7L364.6 341.1L365.2 342.7L366.0 345.5L370.0 363.5L372.7 373.8L375.7 382.8L377.5 387.1L379.4 391.3L381.6 395.2L384.0 398.9L386.7 402.3L389.7 405.5L393.0 408.5L395.7 410.5L399.7 413.1L403.0 414.9L407.8 417.0L411.8 418.5L420.6 421.1L431.0 423.4L443.2 425.2L460.1 426.9L477.3 427.9L497.4 428.7L520.9 429.1L520.2 428.0L497.2 427.4L477.4 426.6L460.5 425.4L446.0 423.9L433.6 422.0L422.9 419.8L413.8 417.1L409.7 415.6L404.8 413.4L401.4 411.7L397.3 409.1L394.4 407.0L391.0 404.1L387.9 400.9L385.0 397.5L382.5 393.8L380.2 390.0L378.2 385.9L376.3 381.7L373.1 372.8L370.2 362.7L365.9 345.2L365.1 342.4L364.4 340.7L364.0 340.3L363.6 340.4L363.0 341.8L362.3 345.5L361.8 351.2Z" fill="url(#f21)"/>
<path d="M362.5 351.8L363.0 346.0L363.6 342.2L363.9 341.1L364.3 340.9L364.6 341.2L365.0 341.9L366.3 346.7L370.5 366.7L373.3 377.2L375.2 382.9L377.4 388.3L379.8 393.5L382.0 397.3L384.5 400.9L386.5 403.5L391.0 408.2L396.4 412.3L402.7 415.9L407.5 418.0L411.4 419.5L420.3 422.0L430.7 424.2L442.9 426.0L459.9 427.6L477.2 428.6L497.5 429.3L521.3 429.7L520.6 428.5L497.3 428.1L477.4 427.3L460.3 426.1L445.7 424.7L433.3 422.9L422.6 420.7L413.5 418.0L409.4 416.6L404.5 414.4L401.1 412.7L397.0 410.1L394.2 408.1L390.7 405.2L387.7 402.0L384.9 398.6L382.4 395.0L380.1 391.1L378.1 387.0L376.2 382.8L373.1 373.9L370.2 363.6L365.9 345.0L365.1 342.3L364.4 340.8L364.0 340.5L363.7 340.6L363.1 342.3L362.6 345.7L362.0 351.4Z" fill="url(#f20)"/>
<path d="M362.7 352.0L363.2 346.1L363.8 342.3L364.3 341.1L364.6 341.3L365.0 341.9L366.2 346.5L370.5 367.8L373.3 378.4L375.1 384.1L377.2 389.6L379.6 394.7L381.8 398.6L384.2 402.2L386.2 404.7L390.8 409.3L396.1 413.4L402.3 416.9L407.1 419.0L411.0 420.4L419.9 423.0L430.3 425.1L442.6 426.8L459.6 428.3L477.1 429.3L497.5 429.9L521.6 430.3L520.9 429.1L497.4 428.7L477.3 427.9L460.1 426.9L443.2 425.2L431.0 423.4L420.6 421.1L411.8 418.5L407.8 417.0L403.0 414.9L399.7 413.1L395.7 410.5L393.0 408.5L389.7 405.5L386.7 402.3L384.0 398.9L381.6 395.2L379.4 391.3L377.5 387.1L375.7 382.8L372.7 373.8L370.0 363.5L366.0 345.5L365.2 342.7L364.6 341.1L364.2 340.7L363.9 340.8L363.3 342.4L362.8 345.8L362.3 351.6Z" fill="url(#f19)"/>
<path d="M363.0 352.2L363.4 346.2L363.9 342.5L364.5 341.3L364.8 341.5L365.1 342.2L366.3 347.0L370.3 367.7L372.9 378.5L374.6 384.3L376.6 389.8L379.0 395.0L381.0 398.9L383.4 402.5L385.3 405.1L389.6 409.8L394.8 413.9L400.8 417.4L405.4 419.5L409.2 421.0L417.9 423.5L424.5 425.0L429.9 425.9L442.2 427.6L459.4 429.1L476.9 430.0L497.6 430.6L522.0 430.8L521.3 429.7L497.5 429.3L477.2 428.6L459.9 427.6L442.9 426.0L430.7 424.2L420.3 422.0L411.4 419.5L407.5 418.0L402.7 415.9L396.4 412.3L391.0 408.2L386.5 403.5L384.5 400.9L382.0 397.3L379.8 393.5L377.4 388.3L375.2 382.9L373.3 377.2L370.5 366.7L366.3 346.7L365.0 341.9L364.6 341.2L364.3 340.9L363.9 341.1L363.6 342.2L363.0 346.0L362.5 351.8Z" fill="url(#f18)"/>
<path d="M363.2 352.4L363.6 346.4L364.1 343.0L364.6 341.6L364.8 341.7L365.2 342.2L366.3 346.9L370.2 368.8L372.8 379.7L374.5 385.6L376.1 390.1L378.3 395.3L380.3 399.3L382.5 403.0L384.4 405.5L388.5 410.3L391.8 413.1L394.4 415.0L400.4 418.6L405.0 420.6L408.8 422.0L417.4 424.5L424.0 425.9L429.4 426.8L441.8 428.4L459.0 429.8L476.7 430.6L497.6 431.2L522.3 431.4L521.6 430.3L497.5 429.9L477.1 429.3L459.6 428.3L442.6 426.8L430.3 425.1L419.9 423.0L411.0 420.4L407.1 419.0L402.3 416.9L396.1 413.4L390.8 409.3L386.2 404.7L384.2 402.2L381.8 398.6L379.6 394.7L377.2 389.6L375.1 384.1L373.3 378.4L370.5 367.8L366.2 346.5L365.0 341.9L364.6 341.3L364.3 341.1L363.8 342.3L363.2 346.1L362.7 352.0Z" fill="url(#f17)"/>
<path d="M363.4 352.6L363.8 346.5L364.2 343.1L364.7 341.8L365.0 341.9L365.3 342.6L366.4 347.5L370.0 368.8L372.4 379.9L374.0 385.8L375.9 391.5L378.1 396.7L380.1 400.7L382.2 404.3L384.1 406.9L388.2 411.5L391.4 414.3L394.0 416.2L400.0 419.7L404.5 421.7L408.3 423.0L416.9 425.4L428.9 427.7L441.3 429.2L458.7 430.6L476.5 431.3L497.7 431.8L522.7 432.0L522.0 430.8L497.6 430.6L476.9 430.0L459.4 429.1L442.2 427.6L429.9 425.9L424.5 425.0L417.9 423.5L409.2 421.0L405.4 419.5L400.8 417.4L394.8 413.9L389.6 409.8L385.3 405.1L383.4 402.5L381.0 398.9L379.0 395.0L376.6 389.8L374.6 384.3L372.9 378.5L370.3 367.7L366.3 347.0L365.1 342.2L364.8 341.5L364.5 341.3L363.9 342.5L363.4 346.2L363.0 352.2Z" fill="url(#f16)"/>
<path d="M363.7 352.8L364.4 343.3L364.9 342.0L365.2 342.2L365.5 342.9L366.4 347.3L369.7 368.8L372.0 380.1L373.6 386.1L375.4 391.8L377.4 397.2L379.3 401.1L381.4 404.8L383.1 407.4L387.1 412.1L390.1 414.9L392.7 416.9L395.4 418.7L398.4 420.3L402.8 422.3L406.5 423.7L414.8 426.1L426.5 428.3L438.6 429.8L455.6 431.2L473.1 431.9L497.7 432.5L523.0 432.6L522.3 431.4L497.6 431.2L476.7 430.6L459.0 429.8L441.8 428.4L429.4 426.8L424.0 425.9L417.4 424.5L408.8 422.0L405.0 420.6L400.4 418.6L394.4 415.0L391.8 413.1L388.5 410.3L384.4 405.5L382.5 403.0L380.3 399.3L378.3 395.3L376.1 390.1L374.5 385.6L372.8 379.7L370.2 368.8L366.3 346.9L365.2 342.2L364.8 341.7L364.6 341.6L364.1 343.0L363.6 346.4L363.2 352.4Z" fill="url(#f15)"/>
<path d="M363.9 353.0L364.6 343.4L365.1 342.2L365.5 342.9L366.3 347.2L369.7 370.1L371.9 381.5L373.4 387.6L374.8 392.2L376.8 397.7L378.6 401.7L380.6 405.4L382.2 408.0L384.7 411.3L386.7 413.5L389.7 416.3L392.2 418.1L394.9 419.9L397.9 421.5L402.3 423.5L405.9 424.8L414.2 427.1L425.9 429.3L438.0 430.7L455.1 431.9L472.7 432.7L497.6 433.1L523.4 433.1L522.7 432.0L497.7 431.8L476.5 431.3L458.7 430.6L441.3 429.2L428.9 427.7L416.9 425.4L408.3 423.0L404.5 421.7L400.0 419.7L394.0 416.2L391.4 414.3L388.2 411.5L384.1 406.9L382.2 404.3L380.1 400.7L378.1 396.7L375.9 391.5L374.0 385.8L372.4 379.9L370.0 368.8L366.4 347.5L365.3 342.6L365.0 341.9L364.7 341.8L364.2 343.1L363.8 346.5L363.4 352.6Z" fill="url(#f14)"/>
<path d="M364.1 353.2L364.8 343.9L365.2 342.4L365.4 342.5L365.6 343.3L366.4 347.8L369.5 370.2L371.6 381.8L373.0 388.0L374.6 393.8L376.5 399.3L378.3 403.3L380.2 407.0L381.9 409.5L384.3 412.7L386.3 414.9L389.2 417.6L391.7 419.5L394.4 421.2L397.3 422.8L401.7 424.6L405.3 425.9L413.6 428.1L425.3 430.2L437.4 431.6L454.6 432.7L472.4 433.4L497.6 433.7L523.8 433.7L523.0 432.6L497.7 432.5L473.1 431.9L455.6 431.2L438.6 429.8L426.5 428.3L414.8 426.1L406.5 423.7L402.8 422.3L398.4 420.3L395.4 418.7L392.7 416.9L390.1 414.9L387.1 412.1L383.1 407.4L381.4 404.8L379.3 401.1L377.4 397.2L375.4 391.8L373.6 386.1L372.0 380.1L369.7 368.8L366.4 347.3L365.5 342.9L365.2 342.2L364.9 342.0L364.4 343.3L363.7 352.8Z" fill="url(#f13)"/>
<path d="M364.4 353.4L364.9 344.1L365.3 342.6L365.7 343.3L366.4 347.7L369.3 370.4L371.2 382.2L372.5 388.5L374.1 394.4L375.9 399.9L377.5 404.0L379.4 407.7L380.9 410.3L383.2 413.5L385.1 415.7L387.9 418.4L390.3 420.3L392.9 422.0L395.7 423.5L399.9 425.4L403.4 426.7L408.5 428.2L412.8 429.2L424.5 431.2L436.7 432.5L454.0 433.5L472.0 434.1L497.5 434.4L524.1 434.3L523.4 433.1L497.6 433.1L472.7 432.7L455.1 431.9L438.0 430.7L425.9 429.3L414.2 427.1L405.9 424.8L402.3 423.5L397.9 421.5L394.9 419.9L392.2 418.1L389.7 416.3L386.7 413.5L384.7 411.3L382.2 408.0L380.6 405.4L378.6 401.7L376.8 397.7L374.8 392.2L373.4 387.6L371.9 381.5L369.7 370.1L366.3 347.2L365.5 342.9L365.1 342.2L364.6 343.4L363.9 353.0Z" fill="url(#f12)"/>
<path d="M364.6 353.7L365.1 344.2L365.5 342.8L365.8 343.6L366.5 348.4L369.0 370.6L371.1 384.0L373.5 395.1L375.2 400.6L376.8 404.7L378.5 408.5L380.0 411.1L382.2 414.4L384.0 416.6L386.7 419.3L388.9 421.1L392.3 423.4L395.0 424.9L399.2 426.7L402.6 427.9L407.8 429.4L412.0 430.3L423.7 432.2L435.9 433.4L453.3 434.4L471.5 434.9L497.4 435.1L524.5 434.9L523.8 433.7L497.6 433.7L472.4 433.4L454.6 432.7L437.4 431.6L425.3 430.2L413.6 428.1L405.3 425.9L401.7 424.6L397.3 422.8L394.4 421.2L391.7 419.5L389.2 417.6L386.3 414.9L384.3 412.7L381.9 409.5L380.2 407.0L378.3 403.3L376.5 399.3L374.6 393.8L373.0 388.0L371.6 381.8L369.5 370.2L366.4 347.8L365.6 343.3L365.4 342.5L365.2 342.4L364.8 343.9L364.1 353.2Z" fill="url(#f11)"/>
<path d="M364.8 353.9L365.3 344.7L365.6 343.1L365.9 343.7L366.5 348.3L368.8 370.9L370.7 384.5L373.0 395.9L374.6 401.5L376.0 405.6L377.7 409.4L379.1 412.1L381.1 415.3L382.8 417.5L385.4 420.2L387.5 422.1L390.7 424.3L393.4 425.8L397.3 427.6L400.6 428.8L405.6 430.2L409.7 431.2L421.0 433.0L432.8 434.1L449.8 435.1L470.9 435.6L497.2 435.7L524.8 435.5L524.1 434.3L497.5 434.4L472.0 434.1L454.0 433.5L436.7 432.5L424.5 431.2L412.8 429.2L408.5 428.2L403.4 426.7L399.9 425.4L395.7 423.5L392.9 422.0L390.3 420.3L387.9 418.4L385.1 415.7L383.2 413.5L380.9 410.3L379.4 407.7L377.5 404.0L375.9 399.9L374.1 394.4L372.5 388.5L371.2 382.2L369.3 370.4L366.4 347.7L365.7 343.3L365.3 342.6L364.9 344.1L364.4 353.4Z" fill="url(#f10)"/>
<path d="M365.1 354.1L365.5 344.8L365.7 343.3L365.8 343.3L366.0 343.8L366.6 348.3L368.8 372.7L370.4 385.3L371.5 391.8L372.8 398.0L374.3 403.6L375.7 407.7L377.3 411.4L378.6 414.0L380.6 417.1L382.2 419.3L384.7 421.9L386.8 423.7L389.9 425.8L392.5 427.3L396.4 429.0L399.7 430.1L404.6 431.5L408.7 432.3L419.9 434.0L431.8 435.1L448.9 435.9L470.2 436.4L497.0 436.4L525.2 436.1L524.5 434.9L497.4 435.1L471.5 434.9L453.3 434.4L435.9 433.4L423.7 432.2L412.0 430.3L407.8 429.4L402.6 427.9L399.2 426.7L395.0 424.9L392.3 423.4L388.9 421.1L386.7 419.3L384.0 416.6L382.2 414.4L380.0 411.1L378.5 408.5L376.8 404.7L375.2 400.6L373.5 395.1L371.1 384.0L369.0 370.6L366.5 348.4L365.8 343.6L365.5 342.8L365.1 344.2L364.6 353.7Z" fill="url(#f9)"/>
<path d="M365.3 354.3L365.7 344.9L365.9 343.5L366.1 344.1L368.5 371.8L370.0 386.2L371.0 392.9L372.2 399.1L373.6 404.8L374.9 408.9L376.4 412.6L377.6 415.2L379.5 418.4L381.0 420.5L383.4 423.1L385.3 424.8L388.3 426.9L390.8 428.4L394.5 430.0L397.6 431.1L402.3 432.5L406.2 433.3L417.0 434.9L430.6 436.1L447.8 436.8L469.4 437.1L496.6 437.1L525.5 436.7L524.8 435.5L497.2 435.7L470.9 435.6L449.8 435.1L432.8 434.1L421.0 433.0L409.7 431.2L405.6 430.2L400.6 428.8L397.3 427.6L393.4 425.8L390.7 424.3L387.5 422.1L385.4 420.2L382.8 417.5L381.1 415.3L379.1 412.1L377.7 409.4L376.0 405.6L374.6 401.5L373.0 395.9L370.7 384.5L368.8 370.9L366.5 348.3L365.9 343.7L365.6 343.1L365.3 344.7L364.8 353.9Z" fill="url(#f8)"/>
<path d="M365.5 354.5L365.8 345.4L366.0 343.8L366.2 344.2L368.3 372.6L369.7 387.3L371.4 399.2L372.7 405.1L373.8 409.3L375.1 413.2L376.6 416.6L378.3 419.8L379.8 421.9L382.0 424.4L383.8 426.1L386.6 428.2L388.9 429.6L392.4 431.2L395.4 432.3L399.8 433.5L403.6 434.4L414.0 435.9L427.1 437.0L443.8 437.7L465.0 437.9L491.8 437.8L525.9 437.3L525.2 436.1L497.0 436.4L470.2 436.4L448.9 435.9L431.8 435.1L419.9 434.0L408.7 432.3L404.6 431.5L399.7 430.1L396.4 429.0L392.5 427.3L389.9 425.8L386.8 423.7L384.7 421.9L382.2 419.3L380.6 417.1L378.6 414.0L377.3 411.4L375.7 407.7L374.3 403.6L372.8 398.0L371.5 391.8L370.4 385.3L368.8 372.7L366.6 348.3L366.0 343.8L365.8 343.3L365.7 343.3L365.5 344.8L365.1 354.1Z" fill="url(#f7)"/>
<path d="M365.7 354.7L366.0 345.5L366.2 343.9L366.3 344.3L368.1 373.6L369.3 388.7L371.1 402.1L372.3 407.9L373.3 412.0L374.6 415.8L376.0 419.1L377.6 422.1L379.0 424.1L381.1 426.5L382.8 428.2L385.5 430.1L387.8 431.4L391.2 432.9L394.1 433.9L398.4 435.0L402.1 435.8L412.4 437.2L425.5 438.1L442.3 438.6L463.8 438.8L491.2 438.5L526.2 437.9L525.5 436.7L496.6 437.1L469.4 437.1L447.8 436.8L430.6 436.1L417.0 434.9L406.2 433.3L402.3 432.5L397.6 431.1L394.5 430.0L390.8 428.4L388.3 426.9L385.3 424.8L383.4 423.1L381.0 420.5L379.5 418.4L377.6 415.2L376.4 412.6L374.9 408.9L373.6 404.8L372.2 399.1L371.0 392.9L370.0 386.2L368.5 371.8L366.1 344.1L365.9 343.5L365.7 344.9L365.3 354.3Z" fill="url(#f6)"/>
<path d="M366.0 354.9L366.2 345.5L366.3 344.1L366.5 344.8L367.9 375.0L369.0 390.6L370.4 403.0L371.3 408.9L372.2 413.1L373.3 416.9L374.5 420.3L376.0 423.3L377.2 425.4L379.0 427.8L381.1 429.9L383.6 431.7L385.7 432.9L388.8 434.3L392.5 435.6L400.3 437.2L410.5 438.4L423.5 439.2L440.4 439.6L462.2 439.6L490.3 439.3L526.6 438.5L525.9 437.3L491.8 437.8L465.0 437.9L443.8 437.7L427.1 437.0L414.0 435.9L403.6 434.4L399.8 433.5L395.4 432.3L392.4 431.2L388.9 429.6L386.6 428.2L383.8 426.1L382.0 424.4L379.8 421.9L378.3 419.8L376.6 416.6L375.1 413.2L373.8 409.3L372.7 405.1L371.4 399.2L369.7 387.3L368.3 372.6L366.2 344.2L366.0 343.8L365.8 345.4L365.5 354.5Z" fill="url(#f5)"/>
<path d="M366.2 355.1L366.4 346.0L366.4 344.4L366.5 344.6L367.7 375.3L368.5 391.7L369.8 405.8L371.4 415.9L372.3 419.6L373.4 422.8L374.6 425.7L375.7 427.7L377.3 429.9L379.2 431.9L381.5 433.6L383.4 434.7L386.2 436.1L389.6 437.2L396.9 438.7L406.5 439.7L419.0 440.4L438.0 440.6L460.1 440.5L526.9 439.1L526.2 437.9L491.2 438.5L463.8 438.8L442.3 438.6L425.5 438.1L412.4 437.2L402.1 435.8L398.4 435.0L394.1 433.9L391.2 432.9L387.8 431.4L385.5 430.1L382.8 428.2L381.1 426.5L379.0 424.1L377.6 422.1L376.0 419.1L374.6 415.8L373.3 412.0L372.3 407.9L371.1 402.1L369.3 388.7L368.1 373.6L366.3 344.3L366.2 343.9L366.0 345.5L365.7 354.7Z" fill="url(#f4)"/>
<path d="M366.4 355.3L366.7 344.9L367.4 376.7L368.1 394.0L369.0 408.5L370.3 418.6L371.9 425.4L372.9 428.2L374.1 430.6L375.4 432.7L377.1 434.5L379.0 436.0L380.7 437.0L383.3 438.1L386.3 439.1L392.9 440.3L403.3 441.3L415.5 441.7L434.6 441.8L457.2 441.5L527.3 439.7L526.6 438.5L490.3 439.3L462.2 439.6L440.4 439.6L423.5 439.2L410.5 438.4L400.3 437.2L392.5 435.6L388.8 434.3L385.7 432.9L383.6 431.7L381.1 429.9L379.0 427.8L377.2 425.4L376.0 423.3L374.5 420.3L373.3 416.9L372.2 413.1L371.3 408.9L370.4 403.0L369.0 390.6L367.9 375.0L366.5 344.8L366.3 344.1L366.2 345.5L366.0 354.9Z" fill="url(#f3)"/>
<path d="M366.7 355.5L366.8 345.8L367.3 382.6L367.8 404.0L368.3 415.0L369.1 423.5L370.2 429.8L370.9 432.3L371.7 434.4L372.8 436.2L374.0 437.7L375.5 438.9L376.8 439.7L378.8 440.6L381.2 441.4L387.6 442.4L396.8 443.0L408.1 443.2L426.2 443.1L448.4 442.6L527.6 440.3L526.9 439.1L460.1 440.5L438.0 440.6L419.0 440.4L406.5 439.7L396.9 438.7L389.6 437.2L386.2 436.1L383.4 434.7L381.5 433.6L379.2 431.9L377.3 429.9L375.7 427.7L374.6 425.7L373.4 422.8L372.3 419.6L371.4 415.9L369.8 405.8L368.5 391.7L367.7 375.3L366.5 344.6L366.4 344.4L366.4 346.0L366.2 355.1Z" fill="url(#f2)"/>
<path d="M366.9 446.5L528.0 441.0L527.3 439.7L457.2 441.5L434.6 441.8L415.5 441.7L403.3 441.3L392.9 440.3L386.3 439.1L383.3 438.1L380.7 437.0L379.0 436.0L377.1 434.5L375.4 432.7L374.1 430.6L372.9 428.2L371.9 425.4L370.3 418.6L369.0 408.5L368.1 394.0L367.4 376.7L366.7 344.9L366.4 355.3Z" fill="url(#f1)"/>
<path d="M366.9 446.5L528.0 441.0L527.6 440.3L448.4 442.6L426.2 443.1L408.1 443.2L396.8 443.0L387.6 442.4L381.2 441.4L378.8 440.6L376.8 439.7L375.5 438.9L374.0 437.7L372.8 436.2L371.7 434.4L370.9 432.3L370.2 429.8L369.1 423.5L368.3 415.0L367.8 404.0L367.3 382.6L366.8 345.8L366.7 355.5Z" fill="#342686"/>
<path d="M366.9 355.6L366.9 354.0L338.8 327.9L338.5 328.7L338.1 329.5Z" fill="#f9d92d"/>
<path d="M366.9 356.5L366.9 354.7L338.5 328.7L338.1 329.5L337.7 330.4Z" fill="#f9d62e"/>
<path d="M366.9 357.4L366.9 355.6L338.1 329.5L337.7 330.4L337.3 331.4Z" fill="#f9d230"/>
<path d="M366.9 358.4L366.9 356.5L337.7 330.4L337.3 331.4L336.9 332.4Z" fill="#facf32"/>
<path d="M366.9 359.5L366.9 357.4L337.3 331.4L336.9 332.4L336.6 333.5Z" fill="#facb33"/>
<path d="M366.9 360.6L366.9 358.4L336.9 332.4L336.6 333.5L336.2 334.6Z" fill="#f9c835"/>
<path d="M366.9 361.7L366.9 359.5L336.6 333.5L336.2 334.6L335.8 335.8Z" fill="#f8c537"/>
<path d="M366.9 362.9L366.9 360.6L336.2 334.6L335.8 335.8L335.4 337.0Z" fill="#f8c138"/>
<path d="M366.9 363.8L366.9 361.7L335.8 335.8L335.4 337.0L335.2 337.9Z" fill="#f7be3a"/>
<path d="M366.9 364.8L366.9 362.9L335.4 337.0L335.2 337.9L334.9 338.8Z" fill="#f4bc3c"/>
<path d="M366.9 365.7L366.9 363.8L335.2 337.9L334.9 338.8L334.6 339.8Z" fill="#f2ba3e"/>
<path d="M366.9 366.7L366.9 364.8L334.9 338.8L334.6 339.8L334.4 340.8Z" fill="#f0b940"/>
<path d="M366.9 367.7L366.9 365.7L334.6 339.8L334.4 340.8L334.1 341.8Z" fill="#eeb742"/>
<path d="M366.9 368.7L366.9 366.7L334.4 340.8L334.1 341.8L333.8 342.9Z" fill="#ecb544"/>
<path d="M366.9 369.8L366.9 367.7L334.1 341.8L333.8 342.9L333.6 343.9Z" fill="#e6b545"/>
<path d="M366.9 370.9L366.9 368.7L333.8 342.9L333.6 343.9L333.3 345.1Z" fill="#e0b646"/>
<path d="M366.9 372.1L366.9 369.8L333.6 343.9L333.3 345.1L333.0 346.2Z" fill="#dab747"/>
<path d="M366.9 373.2L366.9 370.9L333.3 345.1L333.0 346.2L332.8 347.4Z" fill="#d2b748"/>
<path d="M366.9 374.5L366.9 372.1L333.0 346.2L332.8 347.4L332.5 348.6Z" fill="#c8b74a"/>
<path d="M366.9 375.7L366.9 373.2L332.8 347.4L332.5 348.6L332.2 349.9Z" fill="#bdb74c"/>
<path d="M366.9 376.6L366.9 374.5L332.5 348.6L332.2 349.9L332.1 350.8Z" fill="#b2b74e"/>
<path d="M366.9 377.5L366.9 375.7L332.2 349.9L332.1 350.8L331.9 351.7Z" fill="#a7b74f"/>
<path d="M366.9 378.4L366.9 376.6L332.1 350.8L331.9 351.7L331.7 352.6Z" fill="#9db651"/>
<path d="M366.9 379.4L366.9 377.5L331.9 351.7L331.7 352.6L331.5 353.6Z" fill="#93b553"/>
<path d="M366.9 380.4L366.9 378.4L331.7 352.6L331.5 353.6L331.3 354.6Z" fill="#89b555"/>
<path d="M366.9 381.3L366.9 379.4L331.5 353.6L331.3 354.6L331.1 355.6Z" fill="#7eb457"/>
<path d="M366.9 382.3L366.9 380.4L331.3 354.6L331.1 355.6L330.9 356.6Z" fill="#74b459"/>
<path d="M366.9 383.4L366.9 381.3L331.1 355.6L330.9 356.6L330.8 357.6Z" fill="#69b35b"/>
<path d="M366.9 384.4L366.9 382.3L330.9 356.6L330.8 357.6L330.6 358.6Z" fill="#5eb25e"/>
<path d="M366.9 385.5L366.9 383.4L330.8 357.6L330.6 358.6L330.4 359.7Z" fill="#53b160"/>
<path d="M366.9 386.5L366.9 384.4L330.6 358.6L330.4 359.7L330.2 360.8Z" fill="#48b063"/>
<path d="M366.9 387.6L366.9 385.5L330.4 359.7L330.2 360.8L330.0 361.9Z" fill="#3eaf65"/>
<path d="M366.9 388.8L366.9 386.5L330.2 360.8L330.0 361.9L329.8 363.0Z" fill="#38ad68"/>
<path d="M366.9 389.9L366.9 387.6L330.0 361.9L329.8 363.0L329.6 364.2Z" fill="#31ac6b"/>
<path d="M366.9 391.1L366.9 388.8L329.8 363.0L329.6 364.2L329.5 365.3Z" fill="#2aab6d"/>
<path d="M366.9 392.2L366.9 389.9L329.6 364.2L329.5 365.3L329.3 366.5Z" fill="#24aa71"/>
<path d="M366.9 393.4L366.9 391.1L329.5 365.3L329.3 366.5L329.1 367.7Z" fill="#1ea974"/>
<path d="M366.9 394.6L366.9 392.2L329.3 366.5L329.1 367.7L328.9 368.9Z" fill="#18a877"/>
<path d="M366.9 395.9L366.9 393.4L329.1 367.7L328.9 368.9L328.7 370.2Z" fill="#13a77b"/>
<path d="M366.9 397.1L366.9 394.6L328.9 368.9L328.7 370.2L328.5 371.4Z" fill="#0ea580"/>
<path d="M366.9 398.4L366.9 395.9L328.7 370.2L328.5 371.4L328.3 372.7Z" fill="#09a384"/>
<path d="M366.9 399.3L366.9 397.1L328.5 371.4L328.3 372.7L328.2 373.6Z" fill="#04a188"/>
<path d="M366.9 400.2L366.9 398.4L328.3 372.7L328.2 373.6L328.1 374.5Z" fill="#00a08c"/>
<path d="M366.9 401.1L366.9 399.3L328.2 373.6L328.1 374.5L328.0 375.5Z" fill="#009e90"/>
<path d="M366.9 402.1L366.9 400.2L328.1 374.5L328.0 375.5L327.8 376.4Z" fill="#009c94"/>
<path d="M366.9 403.0L366.9 401.1L328.0 375.5L327.8 376.4L327.7 377.4Z" fill="#009a97"/>
<path d="M366.9 404.0L366.9 402.1L327.8 376.4L327.7 377.4L327.6 378.3Z" fill="#00999b"/>
<path d="M366.9 404.9L366.9 403.0L327.7 377.4L327.6 378.3L327.4 379.3Z" fill="#00979f"/>
<path d="M366.9 405.9L366.9 404.0L327.6 378.3L327.4 379.3L327.3 380.3Z" fill="#0094a1"/>
<path d="M366.9 406.9L366.9 404.9L327.4 379.3L327.3 380.3L327.2 381.2Z" fill="#0092a4"/>
<path d="M366.9 407.9L366.9 405.9L327.3 380.3L327.2 381.2L327.0 382.2Z" fill="#008fa6"/>
<path d="M366.9 408.9L366.9 406.9L327.2 381.2L327.0 382.2L326.9 383.3Z" fill="#008da8"/>
<path d="M366.9 409.9L366.9 407.9L327.0 382.2L326.9 383.3L326.8 384.3Z" fill="#008aab"/>
<path d="M366.9 410.9L366.9 408.9L326.9 383.3L326.8 384.3L326.7 385.3Z" fill="#0088ad"/>
<path d="M366.9 412.0L366.9 409.9L326.8 384.3L326.7 385.3L326.5 386.3Z" fill="#0085ae"/>
<path d="M366.9 413.0L366.9 410.9L326.7 385.3L326.5 386.3L326.4 387.4Z" fill="#0083b0"/>
<path d="M366.9 414.1L366.9 412.0L326.5 386.3L326.4 387.4L326.3 388.4Z" fill="#0081b2"/>
<path d="M366.9 415.1L366.9 413.0L326.4 387.4L326.3 388.4L326.1 389.5Z" fill="#007eb3"/>
<path d="M366.9 416.2L366.9 414.1L326.3 388.4L326.1 389.5L326.0 390.6Z" fill="#007cb4"/>
<path d="M366.9 417.3L366.9 415.1L326.1 389.5L326.0 390.6L325.9 391.7Z" fill="#007ab5"/>
<path d="M366.9 418.4L366.9 416.2L326.0 390.6L325.9 391.7L325.7 392.8Z" fill="#0078b6"/>
<path d="M366.9 419.5L366.9 417.3L325.9 391.7L325.7 392.8L325.6 393.9Z" fill="#0075b7"/>
<path d="M366.9 420.6L366.9 418.4L325.7 392.8L325.6 393.9L325.5 395.0Z" fill="#0073b7"/>
<path d="M366.9 421.7L366.9 419.5L325.6 393.9L325.5 395.0L325.4 396.1Z" fill="#0071b8"/>
<path d="M366.9 422.8L366.9 420.6L325.5 395.0L325.4 396.1L325.2 397.2Z" fill="#006fb9"/>
<path d="M366.9 424.0L366.9 421.7L325.4 396.1L325.2 397.2L325.1 398.4Z" fill="#016db9"/>
<path d="M366.9 425.1L366.9 422.8L325.2 397.2L325.1 398.4L325.0 399.5Z" fill="#016bb9"/>
<path d="M366.9 426.3L366.9 424.0L325.1 398.4L325.0 399.5L324.8 400.7Z" fill="#0269b9"/>
<path d="M366.9 427.4L366.9 425.1L325.0 399.5L324.8 400.7L324.7 401.9Z" fill="#0367b8"/>
<path d="M366.9 428.6L366.9 426.3L324.8 400.7L324.7 401.9L324.6 403.0Z" fill="#0364b8"/>
<path d="M366.9 429.8L366.9 427.4L324.7 401.9L324.6 403.0L324.4 404.2Z" fill="#0462b8"/>
<path d="M366.9 431.0L366.9 428.6L324.6 403.0L324.4 404.2L324.3 405.4Z" fill="#065fb7"/>
<path d="M366.9 432.2L366.9 429.8L324.4 404.2L324.3 405.4L324.2 406.6Z" fill="#085cb5"/>
<path d="M366.9 433.4L366.9 431.0L324.3 405.4L324.2 406.6L324.1 407.9Z" fill="#0b59b4"/>
<path d="M366.9 434.6L366.9 432.2L324.2 406.6L324.1 407.9L323.9 409.1Z" fill="#0d56b2"/>
<path d="M366.9 435.9L366.9 433.4L324.1 407.9L323.9 409.1L323.8 410.3Z" fill="#0f53b0"/>
<path d="M366.9 437.1L366.9 434.6L323.9 409.1L323.8 410.3L323.7 411.6Z" fill="#144ead"/>
<path d="M366.9 438.3L366.9 435.9L323.8 410.3L323.7 411.6L323.5 412.8Z" fill="#1948aa"/>
<path d="M366.9 439.6L366.9 437.1L323.7 411.6L323.5 412.8L323.4 414.1Z" fill="#1d43a6"/>
<path d="M366.9 440.9L366.9 438.3L323.5 412.8L323.4 414.1L323.3 415.3Z" fill="#223da2"/>
<path d="M366.9 442.1L366.9 439.6L323.4 414.1L323.3 415.3L323.1 416.6Z" fill="#27379d"/>
<path d="M366.9 443.4L366.9 440.9L323.3 415.3L323.1 416.6L323.0 417.9Z" fill="#2c3198"/>
<path d="M366.9 444.7L366.9 442.1L323.1 416.6L323.0 417.9L322.9 419.2Z" fill="#2f2c93"/>
<path d="M366.9 445.6L366.9 443.4L323.0 417.9L322.9 419.2L322.8 420.1Z" fill="#312a8e"/>
<path d="M366.9 446.5L366.9 444.7L322.9 419.2L322.8 420.1L322.7 421.0Z" fill="#32288b"/>
<path d="M366.9 446.5L366.9 445.6L322.8 420.1L322.7 421.0Z" fill="#332788"/>
<defs></defs>
<path d="M366.9 446.5L322.7 421.0L322.8 419.7L340.7 429.1L347.0 432.1L351.8 434.0L355.4 434.9L358.2 435.0L359.2 434.8L360.3 434.3L361.9 432.7L363.1 430.1L364.1 426.4L364.8 421.5L365.4 414.2L366.1 392.3L366.7 353.8Z" fill="#342686" stroke="#342686" stroke-width="0.3"/>
<path d="M366.5 446.0L365.7 419.5L364.9 442.5L363.3 444.9Z" fill="#fffef0" opacity="0.9"/>
<path d="M362.7 444.9L366.7 446.3L365.3 443.1Z" fill="#f5e04a"/>
<path d="M322.7 321.8L322.7 421.0L366.9 446.5L528.0 441.0M322.7 421.0h-2.4M322.7 396.2h-2.4M322.7 371.4h-2.4M322.7 346.6h-2.4M322.7 321.8h-2.4M358.1 441.4l-2.4 0.1M349.2 436.3l-2.4 0.1M340.4 431.2l-2.4 0.1M331.5 426.1l-2.4 0.1M399.1 445.4l2.1 1.2M431.3 444.3l2.1 1.2M463.6 443.2l2.1 1.2M495.8 442.1l2.1 1.2" stroke="#3c3c3c" stroke-width="0.8" fill="none"/>
<text x="318.4" y="423.4" font-size="6.8" fill="#444" text-anchor="end">0</text>
<text x="318.4" y="398.6" font-size="6.8" fill="#444" text-anchor="end">0.1</text>
<text x="318.4" y="373.8" font-size="6.8" fill="#444" text-anchor="end">0.2</text>
<text x="318.4" y="349.0" font-size="6.8" fill="#444" text-anchor="end">0.3</text>
<text x="318.4" y="324.2" font-size="6.8" fill="#444" text-anchor="end">0.4</text>
<text x="346.1" y="449.2" font-size="6.8" fill="#444" text-anchor="middle">200</text>
<text x="337.2" y="444.1" font-size="6.8" fill="#444" text-anchor="middle">400</text>
<text x="328.4" y="439.0" font-size="6.8" fill="#444" text-anchor="middle">600</text>
<text x="319.5" y="433.9" font-size="6.8" fill="#444" text-anchor="middle">800</text>
<text x="412.5" y="458.0" font-size="6.8" fill="#444" text-anchor="middle">2000</text>
<text x="444.7" y="456.9" font-size="6.8" fill="#444" text-anchor="middle">4000</text>
<text x="477.0" y="455.8" font-size="6.8" fill="#444" text-anchor="middle">6000</text>
<text x="509.2" y="454.7" font-size="6.8" fill="#444" text-anchor="middle">8000</text>
<text x="289.5" y="314" font-size="21" fill="#111">f</text>
<text transform="translate(303.8 375) rotate(-90)" font-size="10.5" fill="#333" text-anchor="middle" textLength="47.5" lengthAdjust="spacingAndGlyphs">α(Pavr)</text>
<text x="330.7" y="468.5" font-size="12" fill="#333" text-anchor="middle">n</text>
<text x="436.7" y="472" font-size="13" fill="#444" text-anchor="middle" font-style="italic" class="ser">β</text>
</g>
<g id="plots">
<path d="M37.0 270.0L37.3 267.4L37.7 264.8L38.0 262.3L38.4 259.9L38.7 257.6L39.1 255.3L39.4 253.2L39.8 251.0L40.1 249.0L40.5 247.0L40.8 245.0L41.1 243.2L41.5 241.3L41.8 239.5L42.2 237.8L42.5 236.1L42.9 234.5L43.2 232.9L43.6 231.3L43.9 229.8L44.3 228.3L44.6 226.9L45.0 225.5L45.3 224.1L45.6 222.7L46.0 221.4L46.3 220.1L46.7 218.9L47.0 217.7L47.4 216.5L47.7 215.3L48.1 214.2L48.4 213.0L48.8 211.9L49.1 210.9L49.4 209.8L49.8 208.8L50.1 207.8L50.5 206.8L50.8 205.8L51.2 204.9L51.5 204.0L51.9 203.1L52.2 202.2L52.6 201.3L52.9 200.4L53.3 199.6L53.6 198.8L53.9 198.0L54.3 197.2L54.6 196.4L55.0 195.6L55.3 194.9L55.7 194.1L56.0 193.4L56.4 192.7L56.7 192.0L57.1 191.3L57.4 190.6L58.9 187.7L60.5 185.0L62.0 182.5L63.6 180.2L65.1 178.0L66.7 175.9L68.2 174.0L69.7 172.2L71.3 170.4L72.8 168.8L74.4 167.3L75.9 165.8L77.5 164.4L79.0 163.1L80.5 161.9L82.1 160.7L83.6 159.5L85.2 158.4L86.7 157.4L88.3 156.4L89.8 155.5L91.3 154.5L92.9 153.7L94.4 152.8L96.0 152.0L97.5 151.2L99.1 150.5L100.6 149.8L102.1 149.1L103.7 148.4L105.2 147.8L106.8 147.1L108.3 146.5L109.9 145.9L111.4 145.4L112.9 144.8L114.5 144.3L116.0 143.8L117.6 143.3L119.1 142.8L120.7 142.3L122.2 141.9L123.7 141.4L125.3 141.0L126.8 140.6L128.4 140.2L129.9 139.8L131.5 139.4L133.0 139.0L134.5 138.7L136.1 138.3L137.6 138.0L139.2 137.6L140.7 137.3L142.3 137.0L143.8 136.7L145.3 136.4L146.9 136.1L148.4 135.8L150.0 135.5L151.5 135.2L153.1 134.9L154.6 134.7L156.1 134.4L157.7 134.2L159.2 133.9L160.8 133.7L162.3 133.4L163.9 133.2L165.4 133.0L166.9 132.7L168.5 132.5L170.0 132.3L171.6 132.1L173.1 131.9L174.7 131.7L176.2 131.5L177.7 131.3L179.3 131.1L180.8 130.9L182.4 130.7L183.9 130.6L185.5 130.4L187.0 130.2L188.5 130.0L190.1 129.9L191.6 129.7L193.2 129.5L194.7 129.4L196.3 129.2L197.8 129.1L199.3 128.9L200.9 128.8L202.4 128.6L204.0 128.5L205.5 128.3L207.1 128.2L208.6 128.1L210.1 127.9L211.7 127.8L213.2 127.7L214.8 127.5L216.3 127.4L217.9 127.3L219.4 127.2L220.9 127.1L222.5 126.9L224.0 126.8L225.6 126.7L227.1 126.6L228.7 126.5L230.2 126.4L231.7 126.3L233.3 126.2L234.8 126.0L236.4 125.9L237.9 125.8L239.5 125.7L241.0 125.6" fill="none" stroke="#ff2a1a" stroke-width="1.35" stroke-dasharray="1.25 1.1"/>
<path d="M37.0 111.2L37.3 113.8L37.7 116.4L38.0 118.9L38.4 121.3L38.7 123.6L39.1 125.9L39.4 128.0L39.8 130.2L40.1 132.2L40.5 134.2L40.8 136.2L41.1 138.0L41.5 139.9L41.8 141.7L42.2 143.4L42.5 145.1L42.9 146.7L43.2 148.3L43.6 149.9L43.9 151.4L44.3 152.9L44.6 154.3L45.0 155.7L45.3 157.1L45.6 158.5L46.0 159.8L46.3 161.1L46.7 162.3L47.0 163.5L47.4 164.7L47.7 165.9L48.1 167.0L48.4 168.2L48.8 169.3L49.1 170.3L49.4 171.4L49.8 172.4L50.1 173.4L50.5 174.4L50.8 175.4L51.2 176.3L51.5 177.2L51.9 178.1L52.2 179.0L52.6 179.9L52.9 180.8L53.3 181.6L53.6 182.4L53.9 183.2L54.3 184.0L54.6 184.8L55.0 185.6L55.3 186.3L55.7 187.1L56.0 187.8L56.4 188.5L56.7 189.2L57.1 189.9L57.4 190.6L58.9 193.5L60.5 196.2L62.0 198.7L63.6 201.0L65.1 203.2L66.7 205.3L68.2 207.2L69.7 209.0L71.3 210.8L72.8 212.4L74.4 213.9L75.9 215.4L77.5 216.8L79.0 218.1L80.5 219.3L82.1 220.5L83.6 221.7L85.2 222.8L86.7 223.8L88.3 224.8L89.8 225.7L91.3 226.7L92.9 227.5L94.4 228.4L96.0 229.2L97.5 230.0L99.1 230.7L100.6 231.4L102.1 232.1L103.7 232.8L105.2 233.4L106.8 234.1L108.3 234.7L109.9 235.3L111.4 235.8L112.9 236.4L114.5 236.9L116.0 237.4L117.6 237.9L119.1 238.4L120.7 238.9L122.2 239.3L123.7 239.8L125.3 240.2L126.8 240.6L128.4 241.0L129.9 241.4L131.5 241.8L133.0 242.2L134.5 242.5L136.1 242.9L137.6 243.2L139.2 243.6L140.7 243.9L142.3 244.2L143.8 244.5L145.3 244.8L146.9 245.1L148.4 245.4L150.0 245.7L151.5 246.0L153.1 246.3L154.6 246.5L156.1 246.8L157.7 247.0L159.2 247.3L160.8 247.5L162.3 247.8L163.9 248.0L165.4 248.2L166.9 248.5L168.5 248.7L170.0 248.9L171.6 249.1L173.1 249.3L174.7 249.5L176.2 249.7L177.7 249.9L179.3 250.1L180.8 250.3L182.4 250.5L183.9 250.6L185.5 250.8L187.0 251.0L188.5 251.2L190.1 251.3L191.6 251.5L193.2 251.7L194.7 251.8L196.3 252.0L197.8 252.1L199.3 252.3L200.9 252.4L202.4 252.6L204.0 252.7L205.5 252.9L207.1 253.0L208.6 253.1L210.1 253.3L211.7 253.4L213.2 253.5L214.8 253.7L216.3 253.8L217.9 253.9L219.4 254.0L220.9 254.1L222.5 254.3L224.0 254.4L225.6 254.5L227.1 254.6L228.7 254.7L230.2 254.8L231.7 254.9L233.3 255.0L234.8 255.2L236.4 255.3L237.9 255.4L239.5 255.5L241.0 255.6" fill="none" stroke="#1b55b0" stroke-width="1.45"/>
<path d="M37 111.2H241M37 270H241" stroke="#3a3a3a" stroke-width="1.3" fill="none"/>
<path d="M37.0 111.2v2.4M37.0 270v-2.4M57.4 111.2v2.4M57.4 270v-2.4M77.8 111.2v2.4M77.8 270v-2.4M98.2 111.2v2.4M98.2 270v-2.4M118.6 111.2v2.4M118.6 270v-2.4M139.0 111.2v2.4M139.0 270v-2.4M159.4 111.2v2.4M159.4 270v-2.4M179.8 111.2v2.4M179.8 270v-2.4M200.2 111.2v2.4M200.2 270v-2.4M220.6 111.2v2.4M220.6 270v-2.4M241.0 111.2v2.4M241.0 270v-2.4" stroke="#3a3a3a" stroke-width="0.8" fill="none"/>
<text x="37.0" y="278.6" font-size="5.6" fill="#3a3030" text-anchor="middle">0</text>
<text x="57.4" y="278.6" font-size="5.6" fill="#3a3030" text-anchor="middle">1</text>
<text x="77.8" y="278.6" font-size="5.6" fill="#3a3030" text-anchor="middle">2</text>
<text x="98.2" y="278.6" font-size="5.6" fill="#3a3030" text-anchor="middle">3</text>
<text x="118.6" y="278.6" font-size="5.6" fill="#3a3030" text-anchor="middle">4</text>
<text x="139.0" y="278.6" font-size="5.6" fill="#3a3030" text-anchor="middle">5</text>
<text x="159.4" y="278.6" font-size="5.6" fill="#3a3030" text-anchor="middle">6</text>
<text x="179.8" y="278.6" font-size="5.6" fill="#3a3030" text-anchor="middle">7</text>
<text x="200.2" y="278.6" font-size="5.6" fill="#3a3030" text-anchor="middle">8</text>
<text x="220.6" y="278.6" font-size="5.6" fill="#3a3030" text-anchor="middle">9</text>
<text x="241.0" y="278.6" font-size="5.6" fill="#3a3030" text-anchor="middle">10</text>
<path d="M37 110.60000000000001V270.6" stroke="#84468c" stroke-width="1.3" fill="none"/>
<text x="33.8" y="113.2" font-size="5.9" fill="#3f78cf" text-anchor="end">1</text>
<text x="33.8" y="145.0" font-size="5.9" fill="#3f78cf" text-anchor="end">0.8</text>
<text x="33.8" y="176.7" font-size="5.9" fill="#3f78cf" text-anchor="end">0.6</text>
<text x="33.8" y="208.5" font-size="5.9" fill="#3f78cf" text-anchor="end">0.4</text>
<text x="33.8" y="240.2" font-size="5.9" fill="#3f78cf" text-anchor="end">0.2</text>
<text x="33.8" y="272.0" font-size="5.9" fill="#3f78cf" text-anchor="end">0</text>
<path d="M37 111.2h2.2M37 143.0h2.2M37 174.7h2.2M37 206.5h2.2M37 238.2h2.2M37 270.0h2.2" stroke="#1b55b0" stroke-width="0.8" fill="none"/>
<path d="M241 110.60000000000001V270.6" stroke="#ff2a1a" stroke-width="1.3" fill="none"/>
<text x="244.2" y="113.2" font-size="5.9" fill="#ff2a1a">1</text>
<text x="244.2" y="145.0" font-size="5.9" fill="#ff2a1a">0.8</text>
<text x="244.2" y="176.7" font-size="5.9" fill="#ff2a1a">0.6</text>
<text x="244.2" y="208.5" font-size="5.9" fill="#ff2a1a">0.4</text>
<text x="244.2" y="240.2" font-size="5.9" fill="#ff2a1a">0.2</text>
<text x="244.2" y="272.0" font-size="5.9" fill="#ff2a1a">0</text>
<path d="M241 111.2h-2.2M241 143.0h-2.2M241 174.7h-2.2M241 206.5h-2.2M241 238.2h-2.2M241 270.0h-2.2" stroke="#ff2a1a" stroke-width="0.8" fill="none"/>
<rect x="49.6" y="117.8" width="61.6" height="19.2" fill="#fff" stroke="#777" stroke-width="0.8"/>
<path d="M54.7 123H73.8" stroke="#1b55b0" stroke-width="1.7"/>
<path d="M54.7 131.4H73.8" stroke="#ff2a1a" stroke-width="1.35" stroke-dasharray="1.25 1.1"/>
<text x="77.6" y="125" font-size="6.3" fill="#262626" stroke="#262626" stroke-width="0.12" textLength="29" lengthAdjust="spacingAndGlyphs">V(C<tspan font-size="4.4">L</tspan>) /V(<tspan font-size="4.4">L</tspan>)</text>
<text x="77.6" y="133.4" font-size="6.3" fill="#262626" stroke="#262626" stroke-width="0.12" textLength="29" lengthAdjust="spacingAndGlyphs">V(C<tspan font-size="4.4">S</tspan>) /V(<tspan font-size="4.4">S</tspan>)</text>
<text x="5" y="110.6" font-size="18" font-weight="bold" fill="#111">c</text>
<text transform="translate(21.2 188.2) rotate(-90)" font-size="9.6" fill="#2c60bf" stroke="#2c60bf" stroke-width="0.35" text-anchor="middle" textLength="43" lengthAdjust="spacingAndGlyphs">V(C<tspan font-size="7.5">L</tspan>) /V(S)</text>
<text transform="translate(261.8 192) rotate(-90)" font-size="9.6" fill="#ff2a1a" stroke="#ff2a1a" stroke-width="0.35" text-anchor="middle" textLength="47.5" lengthAdjust="spacingAndGlyphs">V(Cs) /V(S)</text>
<text x="140.4" y="290" font-size="11" fill="#3a3232" text-anchor="middle" textLength="30" lengthAdjust="spacingAndGlyphs">C<tspan font-size="7.6">L</tspan> / C<tspan font-size="7.6">S</tspan></text>
<path d="M137.4 169.5V159.9H177.7V181M177.7 183.6V206.3H137.4V172.2" stroke="#1c1c1c" stroke-width="1.05" fill="none"/>
<rect x="129.5" y="164" width="19" height="38.2" fill="none" stroke="#4a4a4a" stroke-width="1.5" stroke-dasharray="7 3.4" stroke-dashoffset="3"/>
<path d="M173.6 181H181.79999999999998M173.6 183.6H181.79999999999998" stroke="#1c1c1c" stroke-width="1.0" fill="none"/>
<path d="M133.4 169.5H141.4M133.4 172.2H141.4" stroke="#1c1c1c" stroke-width="1.1" fill="none"/>
<path d="M132.7 176.8L142.3 165" stroke="#1c1c1c" stroke-width="0.8" fill="none"/>
<path d="M142.3 165.0L141.1 169.6L138.0 167.1Z" fill="#222"/>
<circle cx="137.4" cy="193.2" r="4" fill="#fff" stroke="#1c1c1c" stroke-width="1.15"/>
<path d="M134.9 193.2q1.24 -2.73 2.48 0t2.48 0" fill="none" stroke="#1c1c1c" stroke-width="1.0"/>
<text transform="translate(117.7 173.4) scale(0.85 1)" font-size="7.8" fill="#1a1a1a" stroke="#1a1a1a" stroke-width="0.25" >C<tspan dy="1.0" font-size="5.2">S</tspan></text>
<text transform="translate(117.7 197.4) scale(0.85 1)" font-size="7.8" fill="#1a1a1a" stroke="#1a1a1a" stroke-width="0.25" >V<tspan dy="1.0" font-size="5.2">S</tspan></text>
<text transform="translate(162.7 186.6) scale(0.85 1)" font-size="7.8" fill="#1a1a1a" stroke="#1a1a1a" stroke-width="0.25" >V<tspan dy="1.0" font-size="5.2">1</tspan></text>
<text transform="translate(186.7 185.2) scale(0.85 1)" font-size="7.8" fill="#1a1a1a" stroke="#1a1a1a" stroke-width="0.25" >C<tspan dy="1.0" font-size="5.2">L</tspan></text>
<path d="M320.6 269.0L320.9 269.0L321.3 268.8L321.6 268.6L321.9 268.4L322.3 268.0L322.6 267.7L322.9 267.2L323.3 266.8L323.6 266.3L324.0 265.7L324.3 265.1L324.6 264.5L325.0 263.9L325.3 263.2L325.6 262.6L326.0 261.9L326.3 261.2L326.6 260.4L327.0 259.7L327.3 259.0L327.6 258.2L328.0 257.4L328.3 256.7L328.6 255.9L329.0 255.1L329.3 254.3L329.6 253.5L330.0 252.8L330.3 252.0L330.7 251.2L331.0 250.4L331.3 249.6L331.7 248.8L332.0 248.0L332.3 247.3L332.7 246.5L333.0 245.7L333.3 244.9L333.7 244.2L334.0 243.4L334.3 242.6L334.7 241.9L335.0 241.1L335.3 240.4L335.7 239.6L336.0 238.9L336.3 238.2L336.7 237.4L337.0 236.7L337.4 236.0L337.7 235.3L338.0 234.6L338.4 233.9L338.7 233.2L339.0 232.5L339.4 231.8L339.7 231.1L340.0 230.5L340.4 229.8L341.9 226.9L343.4 224.1L344.9 221.4L346.4 218.8L347.8 216.3L349.3 214.0L350.8 211.7L352.3 209.5L353.8 207.4L355.3 205.3L356.8 203.4L358.3 201.5L359.8 199.7L361.3 198.0L362.8 196.3L364.3 194.7L365.8 193.1L367.3 191.6L368.8 190.2L370.3 188.8L371.8 187.4L373.3 186.1L374.8 184.8L376.3 183.6L377.8 182.4L379.2 181.3L380.7 180.2L382.2 179.1L383.7 178.1L385.2 177.1L386.7 176.1L388.2 175.1L389.7 174.2L391.2 173.3L392.7 172.4L394.2 171.6L395.7 170.7L397.2 169.9L398.7 169.2L400.2 168.4L401.7 167.7L403.2 166.9L404.7 166.2L406.2 165.5L407.7 164.9L409.1 164.2L410.6 163.6L412.1 163.0L413.6 162.3L415.1 161.8L416.6 161.2L418.1 160.6L419.6 160.1L421.1 159.5L422.6 159.0L424.1 158.5L425.6 158.0L427.1 157.5L428.6 157.0L430.1 156.5L431.6 156.0L433.1 155.6L434.6 155.1L436.1 154.7L437.6 154.3L439.1 153.8L440.5 153.4L442.0 153.0L443.5 152.6L445.0 152.2L446.5 151.9L448.0 151.5L449.5 151.1L451.0 150.8L452.5 150.4L454.0 150.1L455.5 149.7L457.0 149.4L458.5 149.1L460.0 148.7L461.5 148.4L463.0 148.1L464.5 147.8L466.0 147.5L467.5 147.2L469.0 146.9L470.5 146.6L471.9 146.3L473.4 146.1L474.9 145.8L476.4 145.5L477.9 145.3L479.4 145.0L480.9 144.7L482.4 144.5L483.9 144.2L485.4 144.0L486.9 143.7L488.4 143.5L489.9 143.3L491.4 143.0L492.9 142.8L494.4 142.6L495.9 142.4L497.4 142.2L498.9 141.9L500.4 141.7L501.9 141.5L503.3 141.3L504.8 141.1L506.3 140.9L507.8 140.7L509.3 140.5L510.8 140.3L512.3 140.1L513.8 140.0L515.3 139.8L516.8 139.6L518.3 139.4" fill="none" stroke="#ff2a1a" stroke-width="1.35" stroke-dasharray="1.25 1.1"/>
<path d="M320.6 269.0L320.9 258.7L321.3 249.1L321.6 240.1L321.9 231.7L322.3 223.8L322.6 216.4L322.9 209.5L323.3 203.1L323.6 197.0L324.0 191.3L324.3 185.9L324.6 180.9L325.0 176.2L325.3 171.8L325.6 167.6L326.0 163.7L326.3 160.1L326.6 156.7L327.0 153.4L327.3 150.4L327.6 147.6L328.0 144.9L328.3 142.4L328.6 140.1L329.0 137.9L329.3 135.8L329.6 133.9L330.0 132.1L330.3 130.4L330.7 128.8L331.0 127.4L331.3 126.0L331.7 124.7L332.0 123.5L332.3 122.4L332.7 121.4L333.0 120.4L333.3 119.5L333.7 118.7L334.0 118.0L334.3 117.3L334.7 116.6L335.0 116.1L335.3 115.5L335.7 115.0L336.0 114.6L336.3 114.2L336.7 113.9L337.0 113.5L337.4 113.3L337.7 113.0L338.0 112.8L338.4 112.6L338.7 112.5L339.0 112.4L339.4 112.3L339.7 112.2L340.0 112.2L340.4 112.2L341.9 112.4L343.4 113.0L344.9 113.8L346.4 114.9L347.8 116.2L349.3 117.6L350.8 119.1L352.3 120.7L353.8 122.3L355.3 124.0L356.8 125.7L358.3 127.5L359.8 129.2L361.3 131.0L362.8 132.7L364.3 134.5L365.8 136.2L367.3 137.9L368.8 139.6L370.3 141.3L371.8 142.9L373.3 144.5L374.8 146.1L376.3 147.7L377.8 149.2L379.2 150.7L380.7 152.2L382.2 153.7L383.7 155.1L385.2 156.5L386.7 157.9L388.2 159.2L389.7 160.5L391.2 161.8L392.7 163.1L394.2 164.3L395.7 165.5L397.2 166.7L398.7 167.9L400.2 169.0L401.7 170.1L403.2 171.2L404.7 172.3L406.2 173.4L407.7 174.4L409.1 175.4L410.6 176.4L412.1 177.4L413.6 178.3L415.1 179.3L416.6 180.2L418.1 181.1L419.6 182.0L421.1 182.9L422.6 183.7L424.1 184.5L425.6 185.4L427.1 186.2L428.6 187.0L430.1 187.7L431.6 188.5L433.1 189.3L434.6 190.0L436.1 190.7L437.6 191.4L439.1 192.1L440.5 192.8L442.0 193.5L443.5 194.1L445.0 194.8L446.5 195.4L448.0 196.1L449.5 196.7L451.0 197.3L452.5 197.9L454.0 198.5L455.5 199.1L457.0 199.7L458.5 200.2L460.0 200.8L461.5 201.3L463.0 201.9L464.5 202.4L466.0 202.9L467.5 203.4L469.0 203.9L470.5 204.4L471.9 204.9L473.4 205.4L474.9 205.9L476.4 206.3L477.9 206.8L479.4 207.3L480.9 207.7L482.4 208.1L483.9 208.6L485.4 209.0L486.9 209.4L488.4 209.9L489.9 210.3L491.4 210.7L492.9 211.1L494.4 211.5L495.9 211.9L497.4 212.3L498.9 212.6L500.4 213.0L501.9 213.4L503.3 213.7L504.8 214.1L506.3 214.5L507.8 214.8L509.3 215.2L510.8 215.5L512.3 215.9L513.8 216.2L515.3 216.5L516.8 216.8L518.3 217.2" fill="none" stroke="#1b55b0" stroke-width="1.5"/>
<path d="M320.6 112.2H518.3M320.6 269H518.3" stroke="#3a3a3a" stroke-width="1.3" fill="none"/>
<path d="M320.6 112.2v2.4M320.6 269v-2.4M340.4 112.2v2.4M340.4 269v-2.4M360.1 112.2v2.4M360.1 269v-2.4M379.9 112.2v2.4M379.9 269v-2.4M399.7 112.2v2.4M399.7 269v-2.4M419.4 112.2v2.4M419.4 269v-2.4M439.2 112.2v2.4M439.2 269v-2.4M459.0 112.2v2.4M459.0 269v-2.4M478.8 112.2v2.4M478.8 269v-2.4M498.5 112.2v2.4M498.5 269v-2.4M518.3 112.2v2.4M518.3 269v-2.4" stroke="#3a3a3a" stroke-width="0.8" fill="none"/>
<text x="320.6" y="277.6" font-size="5.6" fill="#3a3030" text-anchor="middle">0</text>
<text x="340.4" y="277.6" font-size="5.6" fill="#3a3030" text-anchor="middle">1</text>
<text x="360.1" y="277.6" font-size="5.6" fill="#3a3030" text-anchor="middle">2</text>
<text x="379.9" y="277.6" font-size="5.6" fill="#3a3030" text-anchor="middle">3</text>
<text x="399.7" y="277.6" font-size="5.6" fill="#3a3030" text-anchor="middle">4</text>
<text x="419.4" y="277.6" font-size="5.6" fill="#3a3030" text-anchor="middle">5</text>
<text x="439.2" y="277.6" font-size="5.6" fill="#3a3030" text-anchor="middle">6</text>
<text x="459.0" y="277.6" font-size="5.6" fill="#3a3030" text-anchor="middle">7</text>
<text x="478.8" y="277.6" font-size="5.6" fill="#3a3030" text-anchor="middle">8</text>
<text x="498.5" y="277.6" font-size="5.6" fill="#3a3030" text-anchor="middle">9</text>
<text x="518.3" y="277.6" font-size="5.6" fill="#3a3030" text-anchor="middle">10</text>
<path d="M320.6 111.60000000000001V269.6" stroke="#1b55b0" stroke-width="1.3" fill="none"/>
<text x="317.40000000000003" y="114.2" font-size="5.9" fill="#3f78cf" text-anchor="end">0.25</text>
<text x="317.40000000000003" y="145.6" font-size="5.9" fill="#3f78cf" text-anchor="end">0.2</text>
<text x="317.40000000000003" y="176.9" font-size="5.9" fill="#3f78cf" text-anchor="end">0.15</text>
<text x="317.40000000000003" y="208.3" font-size="5.9" fill="#3f78cf" text-anchor="end">0.1</text>
<text x="317.40000000000003" y="239.6" font-size="5.9" fill="#3f78cf" text-anchor="end">0.05</text>
<text x="317.40000000000003" y="271.0" font-size="5.9" fill="#3f78cf" text-anchor="end">0</text>
<path d="M320.6 112.2h2.2M320.6 143.6h2.2M320.6 174.9h2.2M320.6 206.3h2.2M320.6 237.6h2.2M320.6 269.0h2.2" stroke="#1b55b0" stroke-width="0.8" fill="none"/>
<path d="M518.3 111.60000000000001V269.6" stroke="#ff2a1a" stroke-width="1.3" fill="none"/>
<text x="521.5" y="114.2" font-size="5.9" fill="#ff2a1a">1</text>
<text x="521.5" y="145.6" font-size="5.9" fill="#ff2a1a">0.8</text>
<text x="521.5" y="176.9" font-size="5.9" fill="#ff2a1a">0.6</text>
<text x="521.5" y="208.3" font-size="5.9" fill="#ff2a1a">0.4</text>
<text x="521.5" y="239.6" font-size="5.9" fill="#ff2a1a">0.2</text>
<text x="521.5" y="271.0" font-size="5.9" fill="#ff2a1a">0</text>
<path d="M518.3 112.2h-2.2M518.3 143.6h-2.2M518.3 174.9h-2.2M518.3 206.3h-2.2M518.3 237.6h-2.2M518.3 269.0h-2.2" stroke="#ff2a1a" stroke-width="0.8" fill="none"/>
<rect x="462.2" y="117.6" width="51.6" height="18.2" fill="#fff" stroke="#777" stroke-width="0.8"/>
<path d="M464.7 122.8H483.8" stroke="#1b55b0" stroke-width="1.7"/>
<path d="M464.7 130.4H483.8" stroke="#ff2a1a" stroke-width="1.35" stroke-dasharray="1.25 1.1"/>
<text x="485.6" y="124.8" font-size="6.3" fill="#262626" stroke="#262626" stroke-width="0.12" textLength="26.4" lengthAdjust="spacingAndGlyphs">E(C<tspan font-size="4.6">L</tspan>) /P<tspan font-size="4.6">0</tspan></text>
<text x="485.6" y="132.6" font-size="6.3" fill="#262626" stroke="#262626" stroke-width="0.12" textLength="26.4" lengthAdjust="spacingAndGlyphs">E(C<tspan font-size="4.6">S</tspan>) /P<tspan font-size="4.6">0</tspan></text>
<text x="286.8" y="110.8" font-size="21" fill="#111">d</text>
<text transform="translate(300.3 195.4) rotate(-90)" font-size="9.8" fill="#2c60bf" stroke="#2c60bf" stroke-width="0.35" text-anchor="middle" textLength="39.2" lengthAdjust="spacingAndGlyphs">E(C<tspan font-size="8">L</tspan>) /P<tspan font-size="8">0</tspan></text>
<text transform="translate(544.5 192.5) rotate(-90)" font-size="9.8" fill="#ff2a1a" stroke="#ff2a1a" stroke-width="0.35" text-anchor="middle" textLength="40" lengthAdjust="spacingAndGlyphs">E(Cs) /P<tspan font-size="8">0</tspan></text>
<text x="420.8" y="290.4" font-size="11" fill="#3a3232" text-anchor="middle" textLength="29.2" lengthAdjust="spacingAndGlyphs">C<tspan font-size="7.6">L</tspan> / C<tspan font-size="7.6">S</tspan></text>
</g>
<g id="circuits">
<text x="3.5" y="16.8" font-size="21" fill="#111">a</text>
<text x="162.5" y="19" font-size="21" fill="#111">b</text>
<text x="190" y="23.4" font-size="16" font-weight="bold" fill="#f01414" class="ser">i</text>
<text x="283.6" y="21.6" font-size="15" font-weight="bold" fill="#f01414" class="ser">ii</text>
<text x="396.6" y="25.4" font-size="14.5" font-weight="bold" fill="#f01414" class="ser">iii</text>
<rect x="35.6" y="31" width="20.9" height="52.2" stroke="#1c1c1c" stroke-width="1.25" fill="none"/>
<path d="M46.6 38.2V26H92.9V38M92.9 72.5V87H46.6V41.5" stroke="#1c1c1c" stroke-width="1.25" fill="none"/>
<path d="M92.9 38a4.3 4.3 0 0 1 0 8.62a4.3 4.3 0 0 1 0 8.62a4.3 4.3 0 0 1 0 8.62a4.3 4.3 0 0 1 0 8.62" stroke="#1c1c1c" stroke-width="1.25" fill="none"/>
<path d="M103.8 38V73.8M108.9 38V73.8" stroke="#1c1c1c" stroke-width="1.25" fill="none"/>
<path d="M119.6 38a4.3 4.3 0 0 0 0 8.62a4.3 4.3 0 0 0 0 8.62a4.3 4.3 0 0 0 0 8.62a4.3 4.3 0 0 0 0 8.62" stroke="#1c1c1c" stroke-width="1.25" fill="none"/>
<path d="M119.6 38V26H147V52.7M147 56.5V87H119.6V72.5" stroke="#1c1c1c" stroke-width="1.25" fill="none"/>
<path d="M141.6 52.7H152.4M141.6 56.5H152.4" stroke="#1c1c1c" stroke-width="1.4" fill="none"/>
<path d="M41.6 38.2H51.6M41.6 41.5H51.6" stroke="#1c1c1c" stroke-width="1.4000000000000001" fill="none"/>
<path d="M42 48.3L52.7 31.8" stroke="#1c1c1c" stroke-width="1.1" fill="none"/>
<path d="M52.7 31.8L52.0 36.5L48.7 34.3Z" fill="#222"/>
<circle cx="46.6" cy="69.2" r="5.4" fill="#fff" stroke="#1c1c1c" stroke-width="1.4500000000000002"/>
<path d="M43.3 69.2q1.67 -3.68 3.35 0t3.35 0" fill="none" stroke="#1c1c1c" stroke-width="1.3"/>
<text transform="translate(23.8 43.2) scale(0.85 1)" font-size="10.2" fill="#1a1a1a" stroke="#1a1a1a" stroke-width="0.25" >C<tspan dy="1.3" font-size="6.1">S</tspan></text>
<text transform="translate(23.2 73.2) scale(0.85 1)" font-size="10.2" fill="#1a1a1a" stroke="#1a1a1a" stroke-width="0.25" >V<tspan dy="1.3" font-size="6.1">S</tspan></text>
<text transform="translate(85 23.8) scale(0.85 1)" font-size="10.2" fill="#1a1a1a" stroke="#1a1a1a" stroke-width="0.25" >I<tspan dy="1.3" font-size="6.1">1</tspan></text>
<text transform="translate(131.3 23.8) scale(0.85 1)" font-size="10.2" fill="#1a1a1a" stroke="#1a1a1a" stroke-width="0.25" >I<tspan dy="1.3" font-size="6.1">2</tspan></text>
<text transform="translate(81 60.3) scale(0.85 1)" font-size="10.2" fill="#1a1a1a" stroke="#1a1a1a" stroke-width="0.25" >V<tspan dy="1.3" font-size="6.1">1</tspan></text>
<text transform="translate(121.2 61.3) scale(0.85 1)" font-size="10.2" fill="#1a1a1a" stroke="#1a1a1a" stroke-width="0.25" >V<tspan dy="1.3" font-size="6.1">2</tspan></text>
<text x="98.3" y="85" font-size="10.5" fill="#1a1a1a">n:1</text>
<text transform="translate(149.3 48) scale(0.85 1)" font-size="10.2" fill="#1a1a1a" stroke="#1a1a1a" stroke-width="0.25" >V<tspan dy="1.3" font-size="6.1">L</tspan></text>
<text transform="translate(150.8 65.8) scale(0.85 1)" font-size="10.2" fill="#1a1a1a" stroke="#1a1a1a" stroke-width="0.25" >C<tspan dy="1.3" font-size="6.1">L</tspan></text>
<rect x="209.4" y="28.8" width="19.3" height="49.6" stroke="#1c1c1c" stroke-width="1.25" fill="none"/>
<path d="M219.6 37.7V24.2H263.6V49.6M263.6 53.4V81.4H219.6V40.7" stroke="#1c1c1c" stroke-width="1.25" fill="none"/>
<path d="M258.5 49.6H268.70000000000005M258.5 53.4H268.70000000000005" stroke="#1c1c1c" stroke-width="1.4" fill="none"/>
<path d="M214.6 37.7H224.6M214.6 40.7H224.6" stroke="#1c1c1c" stroke-width="1.4000000000000001" fill="none"/>
<path d="M215.2 45.3L224.7 31" stroke="#1c1c1c" stroke-width="1.1" fill="none"/>
<path d="M224.7 31.0L224.0 35.7L220.7 33.5Z" fill="#222"/>
<circle cx="219.6" cy="64.9" r="5" fill="#fff" stroke="#1c1c1c" stroke-width="1.4500000000000002"/>
<path d="M216.5 64.9q1.55 -3.41 3.10 0t3.10 0" fill="none" stroke="#1c1c1c" stroke-width="1.3"/>
<text x="225.3" y="69.5" font-size="6" fill="#222">L</text>
<text transform="translate(198 40.3) scale(0.85 1)" font-size="10.2" fill="#1a1a1a" stroke="#1a1a1a" stroke-width="0.25" >C<tspan dy="1.3" font-size="6.1">S</tspan></text>
<text transform="translate(197.2 69.2) scale(0.85 1)" font-size="10.2" fill="#1a1a1a" stroke="#1a1a1a" stroke-width="0.25" >V<tspan dy="1.3" font-size="6.1">S</tspan></text>
<text transform="translate(251 22.2) scale(0.85 1)" font-size="10.2" fill="#1a1a1a" stroke="#1a1a1a" stroke-width="0.25" >I<tspan dy="1.3" font-size="6.1">1</tspan></text>
<text transform="translate(247 55.5) scale(0.85 1)" font-size="10.2" fill="#1a1a1a" stroke="#1a1a1a" stroke-width="0.25" >V<tspan dy="1.3" font-size="6.1">1</tspan></text>
<text x="267" y="49.3" font-size="10" fill="#1a1a1a">C<tspan dy="-2.5" font-size="7">’</tspan><tspan dy="4.6" font-size="7">L</tspan></text>
<rect x="316.5" y="31.8" width="18.5" height="47.8" stroke="#1c1c1c" stroke-width="1.25" fill="none"/>
<path d="M325.6 38.7V26.7H366.9V51.7M366.9 55.2V83.2H325.6V41.5" stroke="#1c1c1c" stroke-width="1.25" fill="none"/>
<path d="M361.79999999999995 51.7H372.0M361.79999999999995 55.2H372.0" stroke="#1c1c1c" stroke-width="1.4" fill="none"/>
<path d="M320.6 38.7H330.6M320.6 41.5H330.6" stroke="#1c1c1c" stroke-width="1.4000000000000001" fill="none"/>
<path d="M321 47.8L330.7 32.6" stroke="#1c1c1c" stroke-width="1.1" fill="none"/>
<path d="M330.7 32.6L330.1 37.3L326.7 35.1Z" fill="#222"/>
<circle cx="325.6" cy="66.9" r="5" fill="#fff" stroke="#1c1c1c" stroke-width="1.4500000000000002"/>
<path d="M322.5 66.9q1.55 -3.41 3.10 0t3.10 0" fill="none" stroke="#1c1c1c" stroke-width="1.3"/>
<text transform="translate(305.6 45.6) scale(0.85 1)" font-size="10.2" fill="#1a1a1a" stroke="#1a1a1a" stroke-width="0.25" >C<tspan dy="1.3" font-size="6.1">S</tspan></text>
<text x="304.3" y="72" font-size="10.5" fill="#1a1a1a">V<tspan dy="-3" font-size="7">’</tspan><tspan dy="5.2" font-size="7">S</tspan></text>
<text transform="translate(353.6 24.5) scale(0.85 1)" font-size="10.2" fill="#1a1a1a" stroke="#1a1a1a" stroke-width="0.25" >I<tspan dy="1.3" font-size="6.1">2</tspan></text>
<text transform="translate(351.6 57.8) scale(0.85 1)" font-size="10.2" fill="#1a1a1a" stroke="#1a1a1a" stroke-width="0.25" >V<tspan dy="1.3" font-size="6.1">2</tspan></text>
<text transform="translate(370.7 49.6) scale(0.85 1)" font-size="10.2" fill="#1a1a1a" stroke="#1a1a1a" stroke-width="0.25" >C<tspan dy="1.3" font-size="6.1">L</tspan></text>
<rect x="415.4" y="28.8" width="17.1" height="39.9" stroke="#1c1c1c" stroke-width="1.25" fill="none"/>
<path d="M424.4 35.1V24.7H466.3L488.7 48.3L466.3 72.5L444 48.3L466.3 24.7M466.3 72.5H424.4V37.4" stroke="#1c1c1c" stroke-width="1.25" fill="none"/>
<path d="M488.7 48.3H504.5V67.4M504.5 71.2V82.7H444V48.3" stroke="#1c1c1c" stroke-width="1.25" fill="none"/>
<path d="M499.4 67.4H509.6M499.4 71.2H509.6" stroke="#1c1c1c" stroke-width="1.4" fill="none"/>
<path d="M455.6 48.3H477.8" stroke="#1c1c1c" stroke-width="1.25" fill="none"/>
<path d="M462 43.3L469.6 48.3L462 53.6Z" fill="#111"/>
<path d="M470.9 43.3V53.6" stroke="#111" stroke-width="1.2"/>
<path d="M420.59999999999997 35.1H428.2M420.59999999999997 37.4H428.2" stroke="#1c1c1c" stroke-width="1.25" fill="none"/>
<path d="M420.5 41.2L428.7 30" stroke="#1c1c1c" stroke-width="0.95" fill="none"/>
<path d="M428.7 30.0L427.8 34.7L424.5 32.3Z" fill="#222"/>
<circle cx="424.4" cy="59" r="4.2" fill="#fff" stroke="#1c1c1c" stroke-width="1.2999999999999998"/>
<path d="M421.8 59q1.30 -2.86 2.60 0t2.60 0" fill="none" stroke="#1c1c1c" stroke-width="1.15"/>
<text transform="translate(405.6 38.8) scale(0.85 1)" font-size="8.2" fill="#1a1a1a" stroke="#1a1a1a" stroke-width="0.25" >C<tspan dy="1.1" font-size="5.6">S</tspan></text>
<text transform="translate(406.3 62.4) scale(0.85 1)" font-size="8.2" fill="#1a1a1a" stroke="#1a1a1a" stroke-width="0.25" >V<tspan dy="1.1" font-size="5.6">S</tspan></text>
<text transform="translate(509 61.6) scale(0.85 1)" font-size="8.2" fill="#1a1a1a" stroke="#1a1a1a" stroke-width="0.25" >I<tspan dy="1.1" font-size="5.6">L</tspan></text>
<text transform="translate(490 72.6) scale(0.85 1)" font-size="8.2" fill="#1a1a1a" stroke="#1a1a1a" stroke-width="0.25" >V<tspan dy="1.1" font-size="5.6">L</tspan></text>
<text transform="translate(514 77) scale(0.85 1)" font-size="8.2" fill="#1a1a1a" stroke="#1a1a1a" stroke-width="0.25" >C<tspan dy="1.1" font-size="5.6">L</tspan></text>
</g>
</svg>
</body></html>
